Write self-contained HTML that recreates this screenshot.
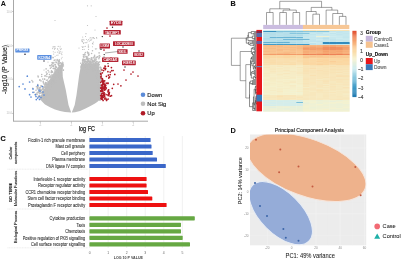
<!DOCTYPE html>
<html><head><meta charset="utf-8"><style>
html,body{margin:0;padding:0;background:#fff;width:401px;height:260px;overflow:hidden}
svg{display:block;filter:blur(0.3px)}
text{font-family:"Liberation Sans",sans-serif}
</style></head><body>
<svg width="401" height="260" viewBox="0 0 401 260">
<rect width="401" height="260" fill="#fff"/>
<text x="0.70" y="6.30" font-size="7.2" text-anchor="start" fill="#111" font-weight="bold">A</text><text x="6.90" y="69.50" font-size="6.6" text-anchor="middle" fill="#222" font-weight="normal" stroke="#222" stroke-width="0.15" textLength="49.00" lengthAdjust="spacingAndGlyphs" transform="rotate(-90 6.90 69.50)">-log10 (P Value)</text><line x1="13.5" y1="0" x2="13.5" y2="121.6" stroke="#a8a8a8" stroke-width="1"/><line x1="13.5" y1="121.2" x2="148" y2="121.2" stroke="#a8a8a8" stroke-width="1"/><line x1="12" y1="11.5" x2="13.5" y2="11.5" stroke="#999" stroke-width="0.5"/><text x="12.00" y="12.50" font-size="2.8" text-anchor="end" fill="#b8b8b8" font-weight="normal">10.0</text><line x1="12" y1="45.8" x2="13.5" y2="45.8" stroke="#999" stroke-width="0.5"/><text x="12.00" y="46.80" font-size="2.8" text-anchor="end" fill="#b8b8b8" font-weight="normal">10.0</text><line x1="12" y1="79.2" x2="13.5" y2="79.2" stroke="#999" stroke-width="0.5"/><text x="12.00" y="80.20" font-size="2.8" text-anchor="end" fill="#b8b8b8" font-weight="normal">10.0</text><line x1="12" y1="113.4" x2="13.5" y2="113.4" stroke="#999" stroke-width="0.5"/><text x="12.00" y="114.40" font-size="2.8" text-anchor="end" fill="#b8b8b8" font-weight="normal">10.0</text><line x1="40.3" y1="121.4" x2="40.3" y2="123" stroke="#999" stroke-width="0.5"/><text x="40.30" y="125.50" font-size="2.8" text-anchor="middle" fill="#b8b8b8" font-weight="normal">-1</text><line x1="71.4" y1="121.4" x2="71.4" y2="123" stroke="#999" stroke-width="0.5"/><text x="71.40" y="125.50" font-size="2.8" text-anchor="middle" fill="#b8b8b8" font-weight="normal">-1</text><line x1="102.4" y1="121.4" x2="102.4" y2="123" stroke="#999" stroke-width="0.5"/><text x="102.40" y="125.50" font-size="2.8" text-anchor="middle" fill="#b8b8b8" font-weight="normal">-1</text><line x1="133.2" y1="121.4" x2="133.2" y2="123" stroke="#999" stroke-width="0.5"/><text x="133.20" y="125.50" font-size="2.8" text-anchor="middle" fill="#b8b8b8" font-weight="normal">-1</text><text x="86.90" y="130.80" font-size="6.6" text-anchor="middle" fill="#222" font-weight="normal" stroke="#222" stroke-width="0.25" textLength="16.00" lengthAdjust="spacingAndGlyphs">log FC</text><path d="M71.2,112.5 L68.5,105 L65.8,90 L62.8,77 L62.5,68 L63.5,62 L60,65 L57,69 L53,74 L49.5,80 L46.5,85 L43.5,90 L41.5,94.5 L39.5,98.5 L42,101.5 L45,104.5 L50,107.3 L55,109.5 L60,111 L65,112 Z" fill="#bdbdbd"/><path d="M71.8,112.5 L74.7,105 L76.5,95 L79.2,75 L80.5,68 L81.5,65 L85,64 L89,63.5 L93,64 L96.5,65.5 L98.5,69 L99.5,77 L100,88 L100,99.6 L97.5,101.8 L95,103.5 L90,106.3 L85,108.75 L80,111 L75,112.3 Z" fill="#bdbdbd"/><circle cx="51.5" cy="71.6" r="0.78" fill="#bdbdbd"/><circle cx="48.9" cy="72.0" r="0.78" fill="#bdbdbd"/><circle cx="62.6" cy="63.5" r="0.78" fill="#bdbdbd"/><circle cx="43.0" cy="91.5" r="0.78" fill="#bdbdbd"/><circle cx="43.3" cy="82.7" r="0.78" fill="#bdbdbd"/><circle cx="58.4" cy="64.7" r="0.78" fill="#bdbdbd"/><circle cx="48.0" cy="81.5" r="0.78" fill="#bdbdbd"/><circle cx="48.9" cy="81.7" r="0.78" fill="#bdbdbd"/><circle cx="52.9" cy="77.6" r="0.78" fill="#bdbdbd"/><circle cx="54.6" cy="78.6" r="0.78" fill="#bdbdbd"/><circle cx="42.7" cy="79.1" r="0.78" fill="#bdbdbd"/><circle cx="46.9" cy="89.4" r="0.78" fill="#bdbdbd"/><circle cx="32.8" cy="81.9" r="0.78" fill="#bdbdbd"/><circle cx="59.1" cy="75.2" r="0.78" fill="#bdbdbd"/><circle cx="54.0" cy="85.0" r="0.78" fill="#bdbdbd"/><circle cx="44.9" cy="85.5" r="0.78" fill="#bdbdbd"/><circle cx="39.7" cy="80.2" r="0.78" fill="#bdbdbd"/><circle cx="47.3" cy="86.7" r="0.78" fill="#bdbdbd"/><circle cx="59.5" cy="66.6" r="0.78" fill="#bdbdbd"/><circle cx="56.8" cy="71.4" r="0.78" fill="#bdbdbd"/><circle cx="41.3" cy="92.6" r="0.78" fill="#bdbdbd"/><circle cx="46.1" cy="68.9" r="0.78" fill="#bdbdbd"/><circle cx="60.2" cy="72.0" r="0.78" fill="#bdbdbd"/><circle cx="50.0" cy="83.5" r="0.78" fill="#bdbdbd"/><circle cx="51.4" cy="83.1" r="0.78" fill="#bdbdbd"/><circle cx="52.4" cy="83.0" r="0.78" fill="#bdbdbd"/><circle cx="48.0" cy="92.5" r="0.78" fill="#bdbdbd"/><circle cx="55.6" cy="75.8" r="0.78" fill="#bdbdbd"/><circle cx="60.4" cy="62.9" r="0.78" fill="#bdbdbd"/><circle cx="55.1" cy="73.6" r="0.78" fill="#bdbdbd"/><circle cx="54.3" cy="76.3" r="0.78" fill="#bdbdbd"/><circle cx="47.1" cy="83.0" r="0.78" fill="#bdbdbd"/><circle cx="59.1" cy="65.9" r="0.78" fill="#bdbdbd"/><circle cx="52.7" cy="79.2" r="0.78" fill="#bdbdbd"/><circle cx="58.4" cy="70.9" r="0.78" fill="#bdbdbd"/><circle cx="57.2" cy="59.5" r="0.78" fill="#bdbdbd"/><circle cx="43.7" cy="93.4" r="0.78" fill="#bdbdbd"/><circle cx="47.0" cy="91.9" r="0.78" fill="#bdbdbd"/><circle cx="56.0" cy="74.1" r="0.78" fill="#bdbdbd"/><circle cx="37.5" cy="87.1" r="0.78" fill="#bdbdbd"/><circle cx="58.8" cy="70.1" r="0.78" fill="#bdbdbd"/><circle cx="57.0" cy="72.9" r="0.78" fill="#bdbdbd"/><circle cx="45.8" cy="100.5" r="0.78" fill="#bdbdbd"/><circle cx="51.2" cy="72.6" r="0.78" fill="#bdbdbd"/><circle cx="58.5" cy="68.9" r="0.78" fill="#bdbdbd"/><circle cx="46.9" cy="76.5" r="0.78" fill="#bdbdbd"/><circle cx="54.6" cy="82.0" r="0.78" fill="#bdbdbd"/><circle cx="52.1" cy="71.6" r="0.78" fill="#bdbdbd"/><circle cx="45.8" cy="98.5" r="0.78" fill="#bdbdbd"/><circle cx="55.9" cy="62.1" r="0.78" fill="#bdbdbd"/><circle cx="37.6" cy="87.7" r="0.78" fill="#bdbdbd"/><circle cx="55.3" cy="76.5" r="0.78" fill="#bdbdbd"/><circle cx="49.0" cy="87.2" r="0.78" fill="#bdbdbd"/><circle cx="47.1" cy="73.6" r="0.78" fill="#bdbdbd"/><circle cx="58.4" cy="74.2" r="0.78" fill="#bdbdbd"/><circle cx="59.5" cy="71.7" r="0.78" fill="#bdbdbd"/><circle cx="52.2" cy="79.2" r="0.78" fill="#bdbdbd"/><circle cx="49.5" cy="74.6" r="0.78" fill="#bdbdbd"/><circle cx="51.3" cy="83.2" r="0.78" fill="#bdbdbd"/><circle cx="50.6" cy="81.6" r="0.78" fill="#bdbdbd"/><circle cx="58.8" cy="72.7" r="0.78" fill="#bdbdbd"/><circle cx="50.0" cy="82.6" r="0.78" fill="#bdbdbd"/><circle cx="55.2" cy="83.1" r="0.78" fill="#bdbdbd"/><circle cx="56.0" cy="80.2" r="0.78" fill="#bdbdbd"/><circle cx="44.8" cy="94.1" r="0.78" fill="#bdbdbd"/><circle cx="41.7" cy="76.5" r="0.78" fill="#bdbdbd"/><circle cx="53.5" cy="78.3" r="0.78" fill="#bdbdbd"/><circle cx="49.7" cy="89.0" r="0.78" fill="#bdbdbd"/><circle cx="41.2" cy="92.4" r="0.78" fill="#bdbdbd"/><circle cx="53.9" cy="81.0" r="0.78" fill="#bdbdbd"/><circle cx="61.3" cy="68.2" r="0.78" fill="#bdbdbd"/><circle cx="54.7" cy="71.1" r="0.78" fill="#bdbdbd"/><circle cx="50.8" cy="83.0" r="0.78" fill="#bdbdbd"/><circle cx="50.6" cy="81.9" r="0.78" fill="#bdbdbd"/><circle cx="42.8" cy="88.7" r="0.78" fill="#bdbdbd"/><circle cx="45.3" cy="90.0" r="0.78" fill="#bdbdbd"/><circle cx="46.2" cy="72.1" r="0.78" fill="#bdbdbd"/><circle cx="43.9" cy="97.4" r="0.78" fill="#bdbdbd"/><circle cx="55.1" cy="60.0" r="0.78" fill="#bdbdbd"/><circle cx="39.8" cy="95.8" r="0.78" fill="#bdbdbd"/><circle cx="61.8" cy="64.3" r="0.78" fill="#bdbdbd"/><circle cx="56.6" cy="75.8" r="0.78" fill="#bdbdbd"/><circle cx="53.2" cy="68.5" r="0.78" fill="#bdbdbd"/><circle cx="55.0" cy="64.6" r="0.78" fill="#bdbdbd"/><circle cx="57.0" cy="74.1" r="0.78" fill="#bdbdbd"/><circle cx="52.1" cy="62.7" r="0.78" fill="#bdbdbd"/><circle cx="50.8" cy="65.7" r="0.78" fill="#bdbdbd"/><circle cx="53.2" cy="78.2" r="0.78" fill="#bdbdbd"/><circle cx="47.0" cy="93.0" r="0.78" fill="#bdbdbd"/><circle cx="50.3" cy="80.5" r="0.78" fill="#bdbdbd"/><circle cx="52.7" cy="72.2" r="0.78" fill="#bdbdbd"/><circle cx="56.7" cy="75.2" r="0.78" fill="#bdbdbd"/><circle cx="61.6" cy="63.7" r="0.78" fill="#bdbdbd"/><circle cx="46.2" cy="94.2" r="0.78" fill="#bdbdbd"/><circle cx="57.1" cy="71.5" r="0.78" fill="#bdbdbd"/><circle cx="49.1" cy="77.1" r="0.78" fill="#bdbdbd"/><circle cx="43.3" cy="98.2" r="0.78" fill="#bdbdbd"/><circle cx="54.7" cy="75.1" r="0.78" fill="#bdbdbd"/><circle cx="53.8" cy="79.0" r="0.78" fill="#bdbdbd"/><circle cx="56.8" cy="71.5" r="0.78" fill="#bdbdbd"/><circle cx="58.5" cy="61.2" r="0.78" fill="#bdbdbd"/><circle cx="51.6" cy="81.6" r="0.78" fill="#bdbdbd"/><circle cx="43.4" cy="87.5" r="0.78" fill="#bdbdbd"/><circle cx="62.0" cy="68.5" r="0.78" fill="#bdbdbd"/><circle cx="58.3" cy="61.0" r="0.78" fill="#bdbdbd"/><circle cx="46.6" cy="93.7" r="0.78" fill="#bdbdbd"/><circle cx="48.7" cy="78.1" r="0.78" fill="#bdbdbd"/><circle cx="45.6" cy="96.9" r="0.78" fill="#bdbdbd"/><circle cx="55.8" cy="68.0" r="0.78" fill="#bdbdbd"/><circle cx="44.0" cy="92.9" r="0.78" fill="#bdbdbd"/><circle cx="48.8" cy="86.3" r="0.78" fill="#bdbdbd"/><circle cx="47.9" cy="90.7" r="0.78" fill="#bdbdbd"/><circle cx="41.0" cy="80.9" r="0.78" fill="#bdbdbd"/><circle cx="55.3" cy="69.2" r="0.78" fill="#bdbdbd"/><circle cx="41.0" cy="85.9" r="0.78" fill="#bdbdbd"/><circle cx="48.8" cy="87.7" r="0.78" fill="#bdbdbd"/><circle cx="46.0" cy="84.9" r="0.78" fill="#bdbdbd"/><circle cx="55.8" cy="71.3" r="0.78" fill="#bdbdbd"/><circle cx="50.4" cy="68.3" r="0.78" fill="#bdbdbd"/><circle cx="45.1" cy="75.8" r="0.78" fill="#bdbdbd"/><circle cx="34.2" cy="92.3" r="0.78" fill="#bdbdbd"/><circle cx="39.2" cy="88.5" r="0.78" fill="#bdbdbd"/><circle cx="41.4" cy="97.4" r="0.78" fill="#bdbdbd"/><circle cx="63.2" cy="70.2" r="0.78" fill="#bdbdbd"/><circle cx="53.5" cy="81.6" r="0.78" fill="#bdbdbd"/><circle cx="53.2" cy="66.6" r="0.78" fill="#bdbdbd"/><circle cx="53.3" cy="80.3" r="0.78" fill="#bdbdbd"/><circle cx="62.2" cy="66.4" r="0.78" fill="#bdbdbd"/><circle cx="43.8" cy="86.7" r="0.78" fill="#bdbdbd"/><circle cx="42.4" cy="96.4" r="0.78" fill="#bdbdbd"/><circle cx="58.9" cy="78.6" r="0.78" fill="#bdbdbd"/><circle cx="55.4" cy="75.0" r="0.78" fill="#bdbdbd"/><circle cx="42.3" cy="92.9" r="0.78" fill="#bdbdbd"/><circle cx="57.6" cy="71.0" r="0.78" fill="#bdbdbd"/><circle cx="37.0" cy="94.6" r="0.78" fill="#bdbdbd"/><circle cx="39.9" cy="79.8" r="0.78" fill="#bdbdbd"/><circle cx="45.9" cy="91.3" r="0.78" fill="#bdbdbd"/><circle cx="61.8" cy="66.9" r="0.78" fill="#bdbdbd"/><circle cx="56.7" cy="73.6" r="0.78" fill="#bdbdbd"/><circle cx="60.9" cy="75.3" r="0.78" fill="#bdbdbd"/><circle cx="59.4" cy="67.1" r="0.78" fill="#bdbdbd"/><circle cx="57.1" cy="69.6" r="0.78" fill="#bdbdbd"/><circle cx="50.5" cy="77.0" r="0.78" fill="#bdbdbd"/><circle cx="58.9" cy="63.3" r="0.78" fill="#bdbdbd"/><circle cx="44.6" cy="79.1" r="0.78" fill="#bdbdbd"/><circle cx="52.9" cy="82.0" r="0.78" fill="#bdbdbd"/><circle cx="62.3" cy="64.7" r="0.78" fill="#bdbdbd"/><circle cx="38.2" cy="76.9" r="0.78" fill="#bdbdbd"/><circle cx="57.5" cy="73.1" r="0.78" fill="#bdbdbd"/><circle cx="40.3" cy="89.3" r="0.78" fill="#bdbdbd"/><circle cx="36.4" cy="86.7" r="0.78" fill="#bdbdbd"/><circle cx="63.4" cy="70.0" r="0.78" fill="#bdbdbd"/><circle cx="42.9" cy="97.0" r="0.78" fill="#bdbdbd"/><circle cx="51.9" cy="84.3" r="0.78" fill="#bdbdbd"/><circle cx="52.2" cy="66.0" r="0.78" fill="#bdbdbd"/><circle cx="59.4" cy="72.4" r="0.78" fill="#bdbdbd"/><circle cx="56.5" cy="62.6" r="0.78" fill="#bdbdbd"/><circle cx="56.6" cy="67.5" r="0.78" fill="#bdbdbd"/><circle cx="60.7" cy="76.3" r="0.78" fill="#bdbdbd"/><circle cx="49.3" cy="77.1" r="0.78" fill="#bdbdbd"/><circle cx="40.6" cy="97.8" r="0.78" fill="#bdbdbd"/><circle cx="49.1" cy="87.1" r="0.78" fill="#bdbdbd"/><circle cx="44.2" cy="84.4" r="0.78" fill="#bdbdbd"/><circle cx="55.0" cy="77.1" r="0.78" fill="#bdbdbd"/><circle cx="44.7" cy="92.7" r="0.78" fill="#bdbdbd"/><circle cx="59.1" cy="73.9" r="0.78" fill="#bdbdbd"/><circle cx="59.6" cy="70.0" r="0.78" fill="#bdbdbd"/><circle cx="60.1" cy="69.5" r="0.78" fill="#bdbdbd"/><circle cx="45.6" cy="84.3" r="0.78" fill="#bdbdbd"/><circle cx="40.5" cy="97.1" r="0.78" fill="#bdbdbd"/><circle cx="35.5" cy="94.6" r="0.78" fill="#bdbdbd"/><circle cx="51.5" cy="64.7" r="0.78" fill="#bdbdbd"/><circle cx="55.7" cy="76.2" r="0.78" fill="#bdbdbd"/><circle cx="55.9" cy="66.9" r="0.78" fill="#bdbdbd"/><circle cx="62.1" cy="65.8" r="0.78" fill="#bdbdbd"/><circle cx="51.7" cy="71.7" r="0.78" fill="#bdbdbd"/><circle cx="54.9" cy="82.0" r="0.78" fill="#bdbdbd"/><circle cx="60.3" cy="70.2" r="0.78" fill="#bdbdbd"/><circle cx="38.1" cy="86.2" r="0.78" fill="#bdbdbd"/><circle cx="53.0" cy="57.7" r="0.78" fill="#bdbdbd"/><circle cx="38.5" cy="92.1" r="0.78" fill="#bdbdbd"/><circle cx="42.8" cy="97.5" r="0.78" fill="#bdbdbd"/><circle cx="57.1" cy="73.3" r="0.78" fill="#bdbdbd"/><circle cx="43.5" cy="96.7" r="0.78" fill="#bdbdbd"/><circle cx="56.4" cy="82.3" r="0.78" fill="#bdbdbd"/><circle cx="54.9" cy="77.3" r="0.78" fill="#bdbdbd"/><circle cx="55.5" cy="66.2" r="0.78" fill="#bdbdbd"/><circle cx="43.3" cy="91.4" r="0.78" fill="#bdbdbd"/><circle cx="58.0" cy="75.6" r="0.78" fill="#bdbdbd"/><circle cx="58.3" cy="68.1" r="0.78" fill="#bdbdbd"/><circle cx="51.6" cy="84.3" r="0.78" fill="#bdbdbd"/><circle cx="38.6" cy="91.4" r="0.78" fill="#bdbdbd"/><circle cx="52.9" cy="80.4" r="0.78" fill="#bdbdbd"/><circle cx="60.6" cy="72.3" r="0.78" fill="#bdbdbd"/><circle cx="41.3" cy="90.4" r="0.78" fill="#bdbdbd"/><circle cx="44.4" cy="94.0" r="0.78" fill="#bdbdbd"/><circle cx="53.0" cy="65.1" r="0.78" fill="#bdbdbd"/><circle cx="55.4" cy="64.5" r="0.78" fill="#bdbdbd"/><circle cx="41.9" cy="98.9" r="0.78" fill="#bdbdbd"/><circle cx="46.5" cy="93.4" r="0.78" fill="#bdbdbd"/><circle cx="49.1" cy="95.5" r="0.78" fill="#bdbdbd"/><circle cx="62.5" cy="64.8" r="0.78" fill="#bdbdbd"/><circle cx="49.1" cy="81.8" r="0.78" fill="#bdbdbd"/><circle cx="45.3" cy="95.8" r="0.78" fill="#bdbdbd"/><circle cx="60.6" cy="65.5" r="0.78" fill="#bdbdbd"/><circle cx="58.7" cy="69.8" r="0.78" fill="#bdbdbd"/><circle cx="48.4" cy="82.3" r="0.78" fill="#bdbdbd"/><circle cx="53.8" cy="65.7" r="0.78" fill="#bdbdbd"/><circle cx="58.9" cy="62.3" r="0.78" fill="#bdbdbd"/><circle cx="58.3" cy="64.1" r="0.78" fill="#bdbdbd"/><circle cx="55.7" cy="76.9" r="0.78" fill="#bdbdbd"/><circle cx="46.5" cy="80.3" r="0.78" fill="#bdbdbd"/><circle cx="38.6" cy="91.7" r="0.78" fill="#bdbdbd"/><circle cx="58.1" cy="70.5" r="0.78" fill="#bdbdbd"/><circle cx="52.9" cy="76.3" r="0.78" fill="#bdbdbd"/><circle cx="60.3" cy="69.0" r="0.78" fill="#bdbdbd"/><circle cx="47.6" cy="84.3" r="0.78" fill="#bdbdbd"/><circle cx="51.6" cy="80.4" r="0.78" fill="#bdbdbd"/><circle cx="49.8" cy="80.7" r="0.78" fill="#bdbdbd"/><circle cx="40.9" cy="97.1" r="0.78" fill="#bdbdbd"/><circle cx="35.5" cy="94.5" r="0.78" fill="#bdbdbd"/><circle cx="56.1" cy="76.8" r="0.78" fill="#bdbdbd"/><circle cx="39.6" cy="89.5" r="0.78" fill="#bdbdbd"/><circle cx="38.0" cy="88.1" r="0.78" fill="#bdbdbd"/><circle cx="59.9" cy="70.0" r="0.78" fill="#bdbdbd"/><circle cx="55.4" cy="70.0" r="0.78" fill="#bdbdbd"/><circle cx="62.4" cy="67.0" r="0.78" fill="#bdbdbd"/><circle cx="50.0" cy="85.3" r="0.78" fill="#bdbdbd"/><circle cx="43.9" cy="83.3" r="0.78" fill="#bdbdbd"/><circle cx="46.7" cy="90.8" r="0.78" fill="#bdbdbd"/><circle cx="50.8" cy="77.3" r="0.78" fill="#bdbdbd"/><circle cx="52.1" cy="76.3" r="0.78" fill="#bdbdbd"/><circle cx="43.2" cy="81.4" r="0.78" fill="#bdbdbd"/><circle cx="59.0" cy="61.3" r="0.78" fill="#bdbdbd"/><circle cx="36.9" cy="93.9" r="0.78" fill="#bdbdbd"/><circle cx="37.2" cy="88.9" r="0.78" fill="#bdbdbd"/><circle cx="41.7" cy="74.5" r="0.78" fill="#bdbdbd"/><circle cx="41.9" cy="96.6" r="0.78" fill="#bdbdbd"/><circle cx="40.4" cy="87.3" r="0.78" fill="#bdbdbd"/><circle cx="52.4" cy="63.0" r="0.78" fill="#bdbdbd"/><circle cx="58.8" cy="68.7" r="0.78" fill="#bdbdbd"/><circle cx="53.4" cy="66.3" r="0.78" fill="#bdbdbd"/><circle cx="46.5" cy="84.8" r="0.78" fill="#bdbdbd"/><circle cx="52.4" cy="81.6" r="0.78" fill="#bdbdbd"/><circle cx="46.1" cy="94.5" r="0.78" fill="#bdbdbd"/><circle cx="41.6" cy="98.9" r="0.78" fill="#bdbdbd"/><circle cx="45.8" cy="91.4" r="0.78" fill="#bdbdbd"/><circle cx="31.9" cy="80.5" r="0.78" fill="#bdbdbd"/><circle cx="37.8" cy="84.6" r="0.78" fill="#bdbdbd"/><circle cx="38.5" cy="97.2" r="0.78" fill="#bdbdbd"/><circle cx="54.6" cy="73.1" r="0.78" fill="#bdbdbd"/><circle cx="53.9" cy="78.9" r="0.78" fill="#bdbdbd"/><circle cx="58.8" cy="65.1" r="0.78" fill="#bdbdbd"/><circle cx="48.1" cy="70.5" r="0.78" fill="#bdbdbd"/><circle cx="59.6" cy="71.6" r="0.78" fill="#bdbdbd"/><circle cx="52.9" cy="81.2" r="0.78" fill="#bdbdbd"/><circle cx="57.4" cy="71.1" r="0.78" fill="#bdbdbd"/><circle cx="43.7" cy="89.3" r="0.78" fill="#bdbdbd"/><circle cx="56.0" cy="79.9" r="0.78" fill="#bdbdbd"/><circle cx="57.1" cy="70.2" r="0.78" fill="#bdbdbd"/><circle cx="57.6" cy="71.6" r="0.78" fill="#bdbdbd"/><circle cx="50.8" cy="85.5" r="0.78" fill="#bdbdbd"/><circle cx="42.6" cy="89.8" r="0.78" fill="#bdbdbd"/><circle cx="40.2" cy="93.1" r="0.78" fill="#bdbdbd"/><circle cx="59.5" cy="60.1" r="0.78" fill="#bdbdbd"/><circle cx="54.6" cy="79.0" r="0.78" fill="#bdbdbd"/><circle cx="55.1" cy="68.5" r="0.78" fill="#bdbdbd"/><circle cx="43.6" cy="92.1" r="0.78" fill="#bdbdbd"/><circle cx="53.3" cy="83.4" r="0.78" fill="#bdbdbd"/><circle cx="46.8" cy="83.0" r="0.78" fill="#bdbdbd"/><circle cx="39.1" cy="92.9" r="0.78" fill="#bdbdbd"/><circle cx="42.0" cy="96.3" r="0.78" fill="#bdbdbd"/><circle cx="44.8" cy="95.2" r="0.78" fill="#bdbdbd"/><circle cx="45.1" cy="86.9" r="0.78" fill="#bdbdbd"/><circle cx="50.0" cy="76.8" r="0.78" fill="#bdbdbd"/><circle cx="49.0" cy="89.5" r="0.78" fill="#bdbdbd"/><circle cx="60.4" cy="69.2" r="0.78" fill="#bdbdbd"/><circle cx="62.8" cy="64.3" r="0.78" fill="#bdbdbd"/><circle cx="54.1" cy="74.8" r="0.78" fill="#bdbdbd"/><circle cx="48.7" cy="85.5" r="0.78" fill="#bdbdbd"/><circle cx="42.7" cy="96.3" r="0.78" fill="#bdbdbd"/><circle cx="39.7" cy="93.6" r="0.78" fill="#bdbdbd"/><circle cx="45.6" cy="82.6" r="0.78" fill="#bdbdbd"/><circle cx="56.2" cy="73.4" r="0.78" fill="#bdbdbd"/><circle cx="46.4" cy="87.8" r="0.78" fill="#bdbdbd"/><circle cx="44.3" cy="98.3" r="0.78" fill="#bdbdbd"/><circle cx="54.2" cy="78.0" r="0.78" fill="#bdbdbd"/><circle cx="55.7" cy="76.0" r="0.78" fill="#bdbdbd"/><circle cx="45.0" cy="76.1" r="0.78" fill="#bdbdbd"/><circle cx="61.7" cy="69.1" r="0.78" fill="#bdbdbd"/><circle cx="41.2" cy="96.1" r="0.78" fill="#bdbdbd"/><circle cx="48.6" cy="87.3" r="0.78" fill="#bdbdbd"/><circle cx="45.9" cy="91.8" r="0.78" fill="#bdbdbd"/><circle cx="49.9" cy="86.7" r="0.78" fill="#bdbdbd"/><circle cx="59.2" cy="61.7" r="0.78" fill="#bdbdbd"/><circle cx="59.4" cy="69.5" r="0.78" fill="#bdbdbd"/><circle cx="32.7" cy="88.2" r="0.78" fill="#bdbdbd"/><circle cx="51.6" cy="81.2" r="0.78" fill="#bdbdbd"/><circle cx="57.8" cy="76.4" r="0.78" fill="#bdbdbd"/><circle cx="48.3" cy="87.2" r="0.78" fill="#bdbdbd"/><circle cx="50.3" cy="83.9" r="0.78" fill="#bdbdbd"/><circle cx="42.5" cy="95.1" r="0.78" fill="#bdbdbd"/><circle cx="40.3" cy="90.5" r="0.78" fill="#bdbdbd"/><circle cx="58.1" cy="71.2" r="0.78" fill="#bdbdbd"/><circle cx="55.7" cy="66.4" r="0.78" fill="#bdbdbd"/><circle cx="59.3" cy="65.6" r="0.78" fill="#bdbdbd"/><circle cx="46.0" cy="91.4" r="0.78" fill="#bdbdbd"/><circle cx="59.1" cy="69.3" r="0.78" fill="#bdbdbd"/><circle cx="49.6" cy="88.1" r="0.78" fill="#bdbdbd"/><circle cx="49.6" cy="84.9" r="0.78" fill="#bdbdbd"/><circle cx="44.9" cy="96.5" r="0.78" fill="#bdbdbd"/><circle cx="56.6" cy="69.7" r="0.78" fill="#bdbdbd"/><circle cx="47.1" cy="91.5" r="0.78" fill="#bdbdbd"/><circle cx="55.5" cy="80.8" r="0.78" fill="#bdbdbd"/><circle cx="54.0" cy="68.6" r="0.78" fill="#bdbdbd"/><circle cx="52.2" cy="85.4" r="0.78" fill="#bdbdbd"/><circle cx="45.6" cy="83.5" r="0.78" fill="#bdbdbd"/><circle cx="51.3" cy="78.5" r="0.78" fill="#bdbdbd"/><circle cx="46.7" cy="91.0" r="0.78" fill="#bdbdbd"/><circle cx="50.5" cy="86.2" r="0.78" fill="#bdbdbd"/><circle cx="51.8" cy="75.0" r="0.78" fill="#bdbdbd"/><circle cx="45.5" cy="91.6" r="0.78" fill="#bdbdbd"/><circle cx="51.9" cy="71.8" r="0.78" fill="#bdbdbd"/><circle cx="52.7" cy="77.1" r="0.78" fill="#bdbdbd"/><circle cx="56.4" cy="76.1" r="0.78" fill="#bdbdbd"/><circle cx="47.7" cy="80.1" r="0.78" fill="#bdbdbd"/><circle cx="54.9" cy="76.9" r="0.78" fill="#bdbdbd"/><circle cx="46.7" cy="84.1" r="0.78" fill="#bdbdbd"/><circle cx="54.8" cy="68.4" r="0.78" fill="#bdbdbd"/><circle cx="45.0" cy="91.9" r="0.78" fill="#bdbdbd"/><circle cx="44.6" cy="79.2" r="0.78" fill="#bdbdbd"/><circle cx="51.2" cy="67.3" r="0.78" fill="#bdbdbd"/><circle cx="54.4" cy="77.2" r="0.78" fill="#bdbdbd"/><circle cx="57.5" cy="70.8" r="0.78" fill="#bdbdbd"/><circle cx="54.9" cy="79.7" r="0.78" fill="#bdbdbd"/><circle cx="44.4" cy="95.4" r="0.78" fill="#bdbdbd"/><circle cx="43.0" cy="95.5" r="0.78" fill="#bdbdbd"/><circle cx="47.7" cy="85.6" r="0.78" fill="#bdbdbd"/><circle cx="43.3" cy="88.5" r="0.78" fill="#bdbdbd"/><circle cx="43.0" cy="95.2" r="0.78" fill="#bdbdbd"/><circle cx="46.9" cy="92.4" r="0.78" fill="#bdbdbd"/><circle cx="44.3" cy="90.2" r="0.78" fill="#bdbdbd"/><circle cx="47.2" cy="90.9" r="0.78" fill="#bdbdbd"/><circle cx="50.2" cy="82.6" r="0.78" fill="#bdbdbd"/><circle cx="59.2" cy="61.1" r="0.78" fill="#bdbdbd"/><circle cx="55.0" cy="80.1" r="0.78" fill="#bdbdbd"/><circle cx="44.1" cy="93.2" r="0.78" fill="#bdbdbd"/><circle cx="45.8" cy="86.2" r="0.78" fill="#bdbdbd"/><circle cx="42.3" cy="99.1" r="0.78" fill="#bdbdbd"/><circle cx="36.0" cy="90.2" r="0.78" fill="#bdbdbd"/><circle cx="41.9" cy="92.8" r="0.78" fill="#bdbdbd"/><circle cx="51.1" cy="81.0" r="0.78" fill="#bdbdbd"/><circle cx="52.7" cy="82.6" r="0.78" fill="#bdbdbd"/><circle cx="45.3" cy="93.5" r="0.78" fill="#bdbdbd"/><circle cx="38.3" cy="96.8" r="0.78" fill="#bdbdbd"/><circle cx="56.9" cy="74.9" r="0.78" fill="#bdbdbd"/><circle cx="40.9" cy="89.3" r="0.78" fill="#bdbdbd"/><circle cx="43.1" cy="93.9" r="0.78" fill="#bdbdbd"/><circle cx="60.7" cy="69.4" r="0.78" fill="#bdbdbd"/><circle cx="46.3" cy="85.0" r="0.78" fill="#bdbdbd"/><circle cx="52.7" cy="87.3" r="0.78" fill="#bdbdbd"/><circle cx="46.3" cy="86.8" r="0.78" fill="#bdbdbd"/><circle cx="54.2" cy="60.4" r="0.78" fill="#bdbdbd"/><circle cx="39.7" cy="87.7" r="0.78" fill="#bdbdbd"/><circle cx="46.7" cy="91.2" r="0.78" fill="#bdbdbd"/><circle cx="57.8" cy="74.2" r="0.78" fill="#bdbdbd"/><circle cx="39.1" cy="95.5" r="0.78" fill="#bdbdbd"/><circle cx="57.1" cy="60.5" r="0.78" fill="#bdbdbd"/><circle cx="46.6" cy="74.6" r="0.78" fill="#bdbdbd"/><circle cx="38.0" cy="76.0" r="0.78" fill="#bdbdbd"/><circle cx="63.4" cy="66.0" r="0.78" fill="#bdbdbd"/><circle cx="60.4" cy="66.4" r="0.78" fill="#bdbdbd"/><circle cx="40.3" cy="98.6" r="0.78" fill="#bdbdbd"/><circle cx="53.0" cy="62.6" r="0.78" fill="#bdbdbd"/><circle cx="57.7" cy="69.1" r="0.78" fill="#bdbdbd"/><circle cx="41.6" cy="85.8" r="0.78" fill="#bdbdbd"/><circle cx="49.0" cy="90.4" r="0.78" fill="#bdbdbd"/><circle cx="49.7" cy="65.6" r="0.78" fill="#bdbdbd"/><circle cx="50.0" cy="85.4" r="0.78" fill="#bdbdbd"/><circle cx="57.7" cy="73.5" r="0.78" fill="#bdbdbd"/><circle cx="63.1" cy="64.9" r="0.78" fill="#bdbdbd"/><circle cx="54.7" cy="78.1" r="0.78" fill="#bdbdbd"/><circle cx="49.9" cy="86.1" r="0.78" fill="#bdbdbd"/><circle cx="53.1" cy="74.8" r="0.78" fill="#bdbdbd"/><circle cx="59.3" cy="76.0" r="0.78" fill="#bdbdbd"/><circle cx="45.8" cy="87.9" r="0.78" fill="#bdbdbd"/><circle cx="45.8" cy="93.0" r="0.78" fill="#bdbdbd"/><circle cx="50.9" cy="75.9" r="0.78" fill="#bdbdbd"/><circle cx="44.6" cy="95.2" r="0.78" fill="#bdbdbd"/><circle cx="37.2" cy="92.5" r="0.78" fill="#bdbdbd"/><circle cx="40.3" cy="90.3" r="0.78" fill="#bdbdbd"/><circle cx="46.8" cy="93.7" r="0.78" fill="#bdbdbd"/><circle cx="51.5" cy="70.9" r="0.78" fill="#bdbdbd"/><circle cx="44.4" cy="87.2" r="0.78" fill="#bdbdbd"/><circle cx="49.7" cy="84.3" r="0.78" fill="#bdbdbd"/><circle cx="48.4" cy="90.6" r="0.78" fill="#bdbdbd"/><circle cx="58.5" cy="63.7" r="0.78" fill="#bdbdbd"/><circle cx="46.1" cy="96.7" r="0.78" fill="#bdbdbd"/><circle cx="52.8" cy="79.4" r="0.78" fill="#bdbdbd"/><circle cx="47.7" cy="88.4" r="0.78" fill="#bdbdbd"/><circle cx="56.8" cy="55.3" r="0.55" fill="#bdbdbd"/><circle cx="53.8" cy="46.8" r="0.55" fill="#bdbdbd"/><circle cx="53.3" cy="57.4" r="0.55" fill="#bdbdbd"/><circle cx="61.4" cy="48.8" r="0.55" fill="#bdbdbd"/><circle cx="59.2" cy="52.2" r="0.55" fill="#bdbdbd"/><circle cx="58.2" cy="46.4" r="0.55" fill="#bdbdbd"/><circle cx="52.4" cy="63.8" r="0.55" fill="#bdbdbd"/><circle cx="58.8" cy="50.7" r="0.55" fill="#bdbdbd"/><circle cx="61.4" cy="53.7" r="0.55" fill="#bdbdbd"/><circle cx="61.8" cy="63.3" r="0.55" fill="#bdbdbd"/><circle cx="55.0" cy="46.7" r="0.55" fill="#bdbdbd"/><circle cx="54.4" cy="49.3" r="0.55" fill="#bdbdbd"/><circle cx="53.0" cy="46.9" r="0.55" fill="#bdbdbd"/><circle cx="58.7" cy="61.7" r="0.55" fill="#bdbdbd"/><circle cx="57.5" cy="63.0" r="0.55" fill="#bdbdbd"/><circle cx="59.2" cy="53.2" r="0.55" fill="#bdbdbd"/><circle cx="53.4" cy="63.3" r="0.55" fill="#bdbdbd"/><circle cx="55.1" cy="56.2" r="0.55" fill="#bdbdbd"/><circle cx="59.7" cy="63.2" r="0.55" fill="#bdbdbd"/><circle cx="60.0" cy="53.1" r="0.55" fill="#bdbdbd"/><circle cx="57.4" cy="48.9" r="0.55" fill="#bdbdbd"/><circle cx="54.7" cy="46.7" r="0.55" fill="#bdbdbd"/><circle cx="55.1" cy="52.3" r="0.55" fill="#bdbdbd"/><circle cx="62.8" cy="62.3" r="0.55" fill="#bdbdbd"/><circle cx="61.4" cy="58.8" r="0.55" fill="#bdbdbd"/><circle cx="59.8" cy="63.7" r="0.55" fill="#bdbdbd"/><circle cx="52.7" cy="48.6" r="0.55" fill="#bdbdbd"/><circle cx="61.1" cy="62.9" r="0.55" fill="#bdbdbd"/><circle cx="60.1" cy="51.4" r="0.55" fill="#bdbdbd"/><circle cx="59.1" cy="59.6" r="0.55" fill="#bdbdbd"/><circle cx="53.3" cy="51.8" r="0.55" fill="#bdbdbd"/><circle cx="55.1" cy="48.2" r="0.55" fill="#bdbdbd"/><circle cx="57.8" cy="49.0" r="0.55" fill="#bdbdbd"/><circle cx="54.9" cy="48.6" r="0.55" fill="#bdbdbd"/><circle cx="60.1" cy="46.2" r="0.55" fill="#bdbdbd"/><circle cx="60.6" cy="49.5" r="0.55" fill="#bdbdbd"/><circle cx="52.4" cy="62.7" r="0.55" fill="#bdbdbd"/><circle cx="54.6" cy="62.8" r="0.55" fill="#bdbdbd"/><circle cx="62.4" cy="62.0" r="0.55" fill="#bdbdbd"/><circle cx="53.7" cy="54.1" r="0.55" fill="#bdbdbd"/><circle cx="53.2" cy="62.7" r="0.55" fill="#bdbdbd"/><circle cx="62.1" cy="57.3" r="0.55" fill="#bdbdbd"/><circle cx="57.4" cy="52.1" r="0.55" fill="#bdbdbd"/><circle cx="61.9" cy="54.6" r="0.55" fill="#bdbdbd"/><circle cx="92.7" cy="65.6" r="0.78" fill="#bdbdbd"/><circle cx="99.0" cy="71.6" r="0.78" fill="#bdbdbd"/><circle cx="84.1" cy="61.6" r="0.78" fill="#bdbdbd"/><circle cx="97.5" cy="78.5" r="0.78" fill="#bdbdbd"/><circle cx="98.2" cy="68.4" r="0.78" fill="#bdbdbd"/><circle cx="85.3" cy="67.2" r="0.78" fill="#bdbdbd"/><circle cx="95.4" cy="62.4" r="0.78" fill="#bdbdbd"/><circle cx="95.9" cy="66.2" r="0.78" fill="#bdbdbd"/><circle cx="85.5" cy="63.7" r="0.78" fill="#bdbdbd"/><circle cx="92.5" cy="60.7" r="0.78" fill="#bdbdbd"/><circle cx="84.9" cy="54.9" r="0.78" fill="#bdbdbd"/><circle cx="86.2" cy="67.9" r="0.78" fill="#bdbdbd"/><circle cx="84.9" cy="66.9" r="0.78" fill="#bdbdbd"/><circle cx="94.9" cy="64.9" r="0.78" fill="#bdbdbd"/><circle cx="90.3" cy="67.4" r="0.78" fill="#bdbdbd"/><circle cx="96.9" cy="61.5" r="0.78" fill="#bdbdbd"/><circle cx="88.9" cy="54.7" r="0.78" fill="#bdbdbd"/><circle cx="91.1" cy="59.2" r="0.78" fill="#bdbdbd"/><circle cx="101.1" cy="78.1" r="0.78" fill="#bdbdbd"/><circle cx="101.1" cy="69.1" r="0.78" fill="#bdbdbd"/><circle cx="91.4" cy="65.9" r="0.78" fill="#bdbdbd"/><circle cx="83.7" cy="63.8" r="0.78" fill="#bdbdbd"/><circle cx="94.6" cy="55.2" r="0.78" fill="#bdbdbd"/><circle cx="92.0" cy="66.5" r="0.78" fill="#bdbdbd"/><circle cx="82.0" cy="65.2" r="0.78" fill="#bdbdbd"/><circle cx="86.2" cy="66.6" r="0.78" fill="#bdbdbd"/><circle cx="84.9" cy="62.0" r="0.78" fill="#bdbdbd"/><circle cx="99.7" cy="94.3" r="0.78" fill="#bdbdbd"/><circle cx="101.1" cy="79.7" r="0.78" fill="#bdbdbd"/><circle cx="85.0" cy="71.8" r="0.78" fill="#bdbdbd"/><circle cx="101.3" cy="93.9" r="0.78" fill="#bdbdbd"/><circle cx="100.2" cy="98.3" r="0.78" fill="#bdbdbd"/><circle cx="91.6" cy="59.3" r="0.78" fill="#bdbdbd"/><circle cx="84.8" cy="54.1" r="0.78" fill="#bdbdbd"/><circle cx="100.2" cy="92.8" r="0.78" fill="#bdbdbd"/><circle cx="92.3" cy="67.6" r="0.78" fill="#bdbdbd"/><circle cx="91.8" cy="67.5" r="0.78" fill="#bdbdbd"/><circle cx="96.7" cy="68.2" r="0.78" fill="#bdbdbd"/><circle cx="98.9" cy="58.7" r="0.78" fill="#bdbdbd"/><circle cx="90.6" cy="63.1" r="0.78" fill="#bdbdbd"/><circle cx="86.0" cy="62.7" r="0.78" fill="#bdbdbd"/><circle cx="98.0" cy="95.1" r="0.78" fill="#bdbdbd"/><circle cx="89.3" cy="66.8" r="0.78" fill="#bdbdbd"/><circle cx="86.8" cy="63.8" r="0.78" fill="#bdbdbd"/><circle cx="83.8" cy="56.4" r="0.78" fill="#bdbdbd"/><circle cx="90.2" cy="67.8" r="0.78" fill="#bdbdbd"/><circle cx="88.4" cy="47.0" r="0.78" fill="#bdbdbd"/><circle cx="81.0" cy="67.3" r="0.78" fill="#bdbdbd"/><circle cx="100.6" cy="98.3" r="0.78" fill="#bdbdbd"/><circle cx="98.4" cy="78.7" r="0.78" fill="#bdbdbd"/><circle cx="99.0" cy="91.3" r="0.78" fill="#bdbdbd"/><circle cx="101.4" cy="91.9" r="0.78" fill="#bdbdbd"/><circle cx="94.4" cy="67.9" r="0.78" fill="#bdbdbd"/><circle cx="91.9" cy="62.9" r="0.78" fill="#bdbdbd"/><circle cx="88.7" cy="69.7" r="0.78" fill="#bdbdbd"/><circle cx="88.4" cy="67.5" r="0.78" fill="#bdbdbd"/><circle cx="90.1" cy="61.6" r="0.78" fill="#bdbdbd"/><circle cx="84.6" cy="65.0" r="0.78" fill="#bdbdbd"/><circle cx="100.5" cy="94.2" r="0.78" fill="#bdbdbd"/><circle cx="100.0" cy="81.1" r="0.78" fill="#bdbdbd"/><circle cx="100.0" cy="98.4" r="0.78" fill="#bdbdbd"/><circle cx="89.8" cy="66.7" r="0.78" fill="#bdbdbd"/><circle cx="98.6" cy="78.6" r="0.78" fill="#bdbdbd"/><circle cx="82.8" cy="67.6" r="0.78" fill="#bdbdbd"/><circle cx="98.7" cy="62.7" r="0.78" fill="#bdbdbd"/><circle cx="96.9" cy="71.0" r="0.78" fill="#bdbdbd"/><circle cx="99.7" cy="98.5" r="0.78" fill="#bdbdbd"/><circle cx="82.9" cy="71.1" r="0.78" fill="#bdbdbd"/><circle cx="84.0" cy="67.8" r="0.78" fill="#bdbdbd"/><circle cx="91.7" cy="68.9" r="0.78" fill="#bdbdbd"/><circle cx="92.9" cy="66.0" r="0.78" fill="#bdbdbd"/><circle cx="96.1" cy="75.6" r="0.78" fill="#bdbdbd"/><circle cx="83.8" cy="65.2" r="0.78" fill="#bdbdbd"/><circle cx="82.5" cy="69.3" r="0.78" fill="#bdbdbd"/><circle cx="83.0" cy="64.5" r="0.78" fill="#bdbdbd"/><circle cx="93.3" cy="64.7" r="0.78" fill="#bdbdbd"/><circle cx="92.1" cy="61.4" r="0.78" fill="#bdbdbd"/><circle cx="96.5" cy="69.0" r="0.78" fill="#bdbdbd"/><circle cx="86.0" cy="68.5" r="0.78" fill="#bdbdbd"/><circle cx="99.9" cy="78.3" r="0.78" fill="#bdbdbd"/><circle cx="98.0" cy="83.1" r="0.78" fill="#bdbdbd"/><circle cx="93.3" cy="68.5" r="0.78" fill="#bdbdbd"/><circle cx="87.6" cy="52.7" r="0.78" fill="#bdbdbd"/><circle cx="97.9" cy="67.8" r="0.78" fill="#bdbdbd"/><circle cx="87.5" cy="66.3" r="0.78" fill="#bdbdbd"/><circle cx="87.3" cy="62.4" r="0.78" fill="#bdbdbd"/><circle cx="93.0" cy="61.8" r="0.78" fill="#bdbdbd"/><circle cx="83.3" cy="63.4" r="0.78" fill="#bdbdbd"/><circle cx="94.7" cy="67.9" r="0.78" fill="#bdbdbd"/><circle cx="100.5" cy="78.9" r="0.78" fill="#bdbdbd"/><circle cx="92.5" cy="50.7" r="0.78" fill="#bdbdbd"/><circle cx="96.8" cy="67.3" r="0.78" fill="#bdbdbd"/><circle cx="97.0" cy="63.4" r="0.78" fill="#bdbdbd"/><circle cx="98.1" cy="75.5" r="0.78" fill="#bdbdbd"/><circle cx="88.6" cy="60.1" r="0.78" fill="#bdbdbd"/><circle cx="100.9" cy="77.6" r="0.78" fill="#bdbdbd"/><circle cx="87.1" cy="59.5" r="0.78" fill="#bdbdbd"/><circle cx="99.3" cy="71.7" r="0.78" fill="#bdbdbd"/><circle cx="101.3" cy="95.7" r="0.78" fill="#bdbdbd"/><circle cx="97.9" cy="68.3" r="0.78" fill="#bdbdbd"/><circle cx="93.7" cy="67.7" r="0.78" fill="#bdbdbd"/><circle cx="94.6" cy="56.4" r="0.78" fill="#bdbdbd"/><circle cx="83.3" cy="54.7" r="0.78" fill="#bdbdbd"/><circle cx="87.9" cy="59.2" r="0.78" fill="#bdbdbd"/><circle cx="96.5" cy="64.8" r="0.78" fill="#bdbdbd"/><circle cx="99.8" cy="81.9" r="0.78" fill="#bdbdbd"/><circle cx="87.1" cy="64.9" r="0.78" fill="#bdbdbd"/><circle cx="83.4" cy="56.8" r="0.78" fill="#bdbdbd"/><circle cx="96.0" cy="59.2" r="0.78" fill="#bdbdbd"/><circle cx="100.4" cy="91.5" r="0.78" fill="#bdbdbd"/><circle cx="101.3" cy="98.4" r="0.78" fill="#bdbdbd"/><circle cx="93.8" cy="57.2" r="0.78" fill="#bdbdbd"/><circle cx="98.4" cy="62.8" r="0.78" fill="#bdbdbd"/><circle cx="100.4" cy="90.5" r="0.78" fill="#bdbdbd"/><circle cx="91.4" cy="57.8" r="0.78" fill="#bdbdbd"/><circle cx="88.8" cy="66.1" r="0.78" fill="#bdbdbd"/><circle cx="86.2" cy="61.6" r="0.78" fill="#bdbdbd"/><circle cx="96.4" cy="68.5" r="0.78" fill="#bdbdbd"/><circle cx="98.5" cy="73.2" r="0.78" fill="#bdbdbd"/><circle cx="82.9" cy="65.3" r="0.78" fill="#bdbdbd"/><circle cx="83.0" cy="60.4" r="0.78" fill="#bdbdbd"/><circle cx="88.5" cy="55.5" r="0.78" fill="#bdbdbd"/><circle cx="83.9" cy="54.7" r="0.78" fill="#bdbdbd"/><circle cx="97.3" cy="67.1" r="0.78" fill="#bdbdbd"/><circle cx="89.7" cy="65.9" r="0.78" fill="#bdbdbd"/><circle cx="99.7" cy="87.2" r="0.78" fill="#bdbdbd"/><circle cx="88.4" cy="54.1" r="0.78" fill="#bdbdbd"/><circle cx="100.1" cy="74.0" r="0.78" fill="#bdbdbd"/><circle cx="100.2" cy="71.9" r="0.78" fill="#bdbdbd"/><circle cx="94.6" cy="70.0" r="0.78" fill="#bdbdbd"/><circle cx="99.2" cy="79.4" r="0.78" fill="#bdbdbd"/><circle cx="101.2" cy="94.9" r="0.78" fill="#bdbdbd"/><circle cx="90.6" cy="61.9" r="0.78" fill="#bdbdbd"/><circle cx="93.9" cy="62.8" r="0.78" fill="#bdbdbd"/><circle cx="83.2" cy="64.7" r="0.78" fill="#bdbdbd"/><circle cx="100.9" cy="94.6" r="0.78" fill="#bdbdbd"/><circle cx="97.7" cy="76.2" r="0.78" fill="#bdbdbd"/><circle cx="100.2" cy="88.3" r="0.78" fill="#bdbdbd"/><circle cx="85.5" cy="66.1" r="0.78" fill="#bdbdbd"/><circle cx="87.8" cy="66.6" r="0.78" fill="#bdbdbd"/><circle cx="98.8" cy="89.5" r="0.78" fill="#bdbdbd"/><circle cx="97.1" cy="68.8" r="0.78" fill="#bdbdbd"/><circle cx="82.0" cy="65.6" r="0.78" fill="#bdbdbd"/><circle cx="97.7" cy="69.9" r="0.78" fill="#bdbdbd"/><circle cx="91.5" cy="59.4" r="0.78" fill="#bdbdbd"/><circle cx="98.0" cy="56.8" r="0.78" fill="#bdbdbd"/><circle cx="92.1" cy="58.0" r="0.78" fill="#bdbdbd"/><circle cx="86.6" cy="58.4" r="0.78" fill="#bdbdbd"/><circle cx="89.3" cy="61.3" r="0.78" fill="#bdbdbd"/><circle cx="100.4" cy="85.6" r="0.78" fill="#bdbdbd"/><circle cx="98.0" cy="69.7" r="0.78" fill="#bdbdbd"/><circle cx="98.5" cy="65.5" r="0.78" fill="#bdbdbd"/><circle cx="84.3" cy="66.2" r="0.78" fill="#bdbdbd"/><circle cx="85.8" cy="65.6" r="0.78" fill="#bdbdbd"/><circle cx="96.7" cy="69.8" r="0.78" fill="#bdbdbd"/><circle cx="98.3" cy="73.2" r="0.78" fill="#bdbdbd"/><circle cx="85.8" cy="56.7" r="0.78" fill="#bdbdbd"/><circle cx="93.7" cy="67.6" r="0.78" fill="#bdbdbd"/><circle cx="98.8" cy="70.2" r="0.78" fill="#bdbdbd"/><circle cx="84.8" cy="59.5" r="0.78" fill="#bdbdbd"/><circle cx="97.0" cy="70.8" r="0.78" fill="#bdbdbd"/><circle cx="99.3" cy="76.6" r="0.78" fill="#bdbdbd"/><circle cx="101.3" cy="88.8" r="0.78" fill="#bdbdbd"/><circle cx="86.9" cy="69.0" r="0.78" fill="#bdbdbd"/><circle cx="99.1" cy="72.8" r="0.78" fill="#bdbdbd"/><circle cx="91.0" cy="62.3" r="0.78" fill="#bdbdbd"/><circle cx="81.8" cy="67.0" r="0.78" fill="#bdbdbd"/><circle cx="92.0" cy="63.2" r="0.78" fill="#bdbdbd"/><circle cx="88.1" cy="60.4" r="0.78" fill="#bdbdbd"/><circle cx="84.9" cy="71.1" r="0.78" fill="#bdbdbd"/><circle cx="93.3" cy="61.6" r="0.78" fill="#bdbdbd"/><circle cx="85.8" cy="69.8" r="0.78" fill="#bdbdbd"/><circle cx="99.7" cy="86.0" r="0.78" fill="#bdbdbd"/><circle cx="99.6" cy="88.6" r="0.78" fill="#bdbdbd"/><circle cx="100.9" cy="98.5" r="0.78" fill="#bdbdbd"/><circle cx="93.9" cy="67.5" r="0.78" fill="#bdbdbd"/><circle cx="81.8" cy="66.8" r="0.78" fill="#bdbdbd"/><circle cx="89.4" cy="64.5" r="0.78" fill="#bdbdbd"/><circle cx="100.0" cy="67.1" r="0.78" fill="#bdbdbd"/><circle cx="91.0" cy="64.2" r="0.78" fill="#bdbdbd"/><circle cx="95.1" cy="63.9" r="0.78" fill="#bdbdbd"/><circle cx="98.0" cy="64.4" r="0.78" fill="#bdbdbd"/><circle cx="99.6" cy="79.5" r="0.78" fill="#bdbdbd"/><circle cx="82.9" cy="59.4" r="0.78" fill="#bdbdbd"/><circle cx="84.5" cy="65.1" r="0.78" fill="#bdbdbd"/><circle cx="87.8" cy="68.4" r="0.78" fill="#bdbdbd"/><circle cx="98.7" cy="90.4" r="0.78" fill="#bdbdbd"/><circle cx="98.8" cy="93.8" r="0.78" fill="#bdbdbd"/><circle cx="98.8" cy="77.5" r="0.78" fill="#bdbdbd"/><circle cx="81.2" cy="66.4" r="0.78" fill="#bdbdbd"/><circle cx="86.8" cy="65.5" r="0.78" fill="#bdbdbd"/><circle cx="98.0" cy="67.0" r="0.78" fill="#bdbdbd"/><circle cx="98.5" cy="86.5" r="0.78" fill="#bdbdbd"/><circle cx="95.6" cy="63.8" r="0.78" fill="#bdbdbd"/><circle cx="90.2" cy="68.6" r="0.78" fill="#bdbdbd"/><circle cx="94.3" cy="67.9" r="0.78" fill="#bdbdbd"/><circle cx="95.1" cy="63.5" r="0.78" fill="#bdbdbd"/><circle cx="96.2" cy="83.3" r="0.78" fill="#bdbdbd"/><circle cx="100.5" cy="82.2" r="0.78" fill="#bdbdbd"/><circle cx="93.0" cy="67.8" r="0.78" fill="#bdbdbd"/><circle cx="83.1" cy="65.3" r="0.78" fill="#bdbdbd"/><circle cx="84.4" cy="65.8" r="0.78" fill="#bdbdbd"/><circle cx="85.4" cy="63.7" r="0.78" fill="#bdbdbd"/><circle cx="92.6" cy="67.6" r="0.78" fill="#bdbdbd"/><circle cx="100.9" cy="78.0" r="0.78" fill="#bdbdbd"/><circle cx="100.5" cy="80.4" r="0.78" fill="#bdbdbd"/><circle cx="101.5" cy="80.0" r="0.78" fill="#bdbdbd"/><circle cx="85.2" cy="65.3" r="0.78" fill="#bdbdbd"/><circle cx="98.2" cy="92.2" r="0.78" fill="#bdbdbd"/><circle cx="99.4" cy="92.6" r="0.78" fill="#bdbdbd"/><circle cx="100.9" cy="72.2" r="0.78" fill="#bdbdbd"/><circle cx="100.2" cy="86.7" r="0.78" fill="#bdbdbd"/><circle cx="99.3" cy="55.5" r="0.78" fill="#bdbdbd"/><circle cx="88.1" cy="53.3" r="0.78" fill="#bdbdbd"/><circle cx="93.0" cy="69.7" r="0.78" fill="#bdbdbd"/><circle cx="99.9" cy="56.2" r="0.78" fill="#bdbdbd"/><circle cx="92.7" cy="67.0" r="0.78" fill="#bdbdbd"/><circle cx="98.1" cy="68.4" r="0.78" fill="#bdbdbd"/><circle cx="83.7" cy="60.6" r="0.78" fill="#bdbdbd"/><circle cx="100.5" cy="71.1" r="0.78" fill="#bdbdbd"/><circle cx="87.9" cy="61.1" r="0.78" fill="#bdbdbd"/><circle cx="99.0" cy="95.5" r="0.78" fill="#bdbdbd"/><circle cx="87.2" cy="58.0" r="0.78" fill="#bdbdbd"/><circle cx="88.4" cy="63.5" r="0.78" fill="#bdbdbd"/><circle cx="91.0" cy="68.6" r="0.78" fill="#bdbdbd"/><circle cx="86.9" cy="72.5" r="0.78" fill="#bdbdbd"/><circle cx="88.9" cy="65.3" r="0.78" fill="#bdbdbd"/><circle cx="99.6" cy="87.3" r="0.78" fill="#bdbdbd"/><circle cx="88.8" cy="64.7" r="0.78" fill="#bdbdbd"/><circle cx="97.9" cy="63.5" r="0.78" fill="#bdbdbd"/><circle cx="91.0" cy="69.0" r="0.78" fill="#bdbdbd"/><circle cx="99.1" cy="52.9" r="0.78" fill="#bdbdbd"/><circle cx="99.2" cy="74.5" r="0.78" fill="#bdbdbd"/><circle cx="98.8" cy="84.0" r="0.78" fill="#bdbdbd"/><circle cx="92.0" cy="65.3" r="0.78" fill="#bdbdbd"/><circle cx="86.6" cy="58.1" r="0.78" fill="#bdbdbd"/><circle cx="94.4" cy="68.4" r="0.78" fill="#bdbdbd"/><circle cx="98.1" cy="78.8" r="0.78" fill="#bdbdbd"/><circle cx="85.6" cy="60.0" r="0.78" fill="#bdbdbd"/><circle cx="89.7" cy="63.0" r="0.78" fill="#bdbdbd"/><circle cx="93.0" cy="69.6" r="0.78" fill="#bdbdbd"/><circle cx="93.4" cy="64.1" r="0.78" fill="#bdbdbd"/><circle cx="87.1" cy="65.6" r="0.78" fill="#bdbdbd"/><circle cx="83.1" cy="63.0" r="0.78" fill="#bdbdbd"/><circle cx="87.5" cy="64.4" r="0.78" fill="#bdbdbd"/><circle cx="85.3" cy="65.7" r="0.78" fill="#bdbdbd"/><circle cx="87.8" cy="66.9" r="0.78" fill="#bdbdbd"/><circle cx="100.5" cy="80.2" r="0.78" fill="#bdbdbd"/><circle cx="89.7" cy="62.1" r="0.78" fill="#bdbdbd"/><circle cx="98.5" cy="78.4" r="0.78" fill="#bdbdbd"/><circle cx="94.6" cy="69.6" r="0.78" fill="#bdbdbd"/><circle cx="81.8" cy="64.5" r="0.78" fill="#bdbdbd"/><circle cx="94.7" cy="71.5" r="0.78" fill="#bdbdbd"/><circle cx="100.4" cy="84.4" r="0.78" fill="#bdbdbd"/><circle cx="88.6" cy="67.0" r="0.78" fill="#bdbdbd"/><circle cx="82.1" cy="67.7" r="0.78" fill="#bdbdbd"/><circle cx="82.4" cy="64.5" r="0.78" fill="#bdbdbd"/><circle cx="92.1" cy="69.6" r="0.78" fill="#bdbdbd"/><circle cx="91.6" cy="53.5" r="0.78" fill="#bdbdbd"/><circle cx="86.2" cy="66.0" r="0.78" fill="#bdbdbd"/><circle cx="86.7" cy="65.6" r="0.78" fill="#bdbdbd"/><circle cx="90.1" cy="60.9" r="0.78" fill="#bdbdbd"/><circle cx="100.3" cy="94.7" r="0.78" fill="#bdbdbd"/><circle cx="90.3" cy="67.0" r="0.78" fill="#bdbdbd"/><circle cx="92.5" cy="64.6" r="0.78" fill="#bdbdbd"/><circle cx="82.1" cy="65.5" r="0.78" fill="#bdbdbd"/><circle cx="90.6" cy="66.7" r="0.78" fill="#bdbdbd"/><circle cx="97.2" cy="56.7" r="0.78" fill="#bdbdbd"/><circle cx="96.8" cy="63.7" r="0.78" fill="#bdbdbd"/><circle cx="98.0" cy="64.9" r="0.78" fill="#bdbdbd"/><circle cx="86.7" cy="66.9" r="0.78" fill="#bdbdbd"/><circle cx="98.1" cy="65.5" r="0.78" fill="#bdbdbd"/><circle cx="99.2" cy="81.5" r="0.78" fill="#bdbdbd"/><circle cx="94.0" cy="58.1" r="0.78" fill="#bdbdbd"/><circle cx="87.3" cy="61.3" r="0.78" fill="#bdbdbd"/><circle cx="92.6" cy="60.5" r="0.78" fill="#bdbdbd"/><circle cx="99.1" cy="92.4" r="0.78" fill="#bdbdbd"/><circle cx="98.7" cy="79.5" r="0.78" fill="#bdbdbd"/><circle cx="95.7" cy="58.0" r="0.78" fill="#bdbdbd"/><circle cx="100.0" cy="48.8" r="0.78" fill="#bdbdbd"/><circle cx="86.2" cy="68.6" r="0.78" fill="#bdbdbd"/><circle cx="96.5" cy="71.6" r="0.78" fill="#bdbdbd"/><circle cx="82.8" cy="63.9" r="0.78" fill="#bdbdbd"/><circle cx="96.3" cy="66.1" r="0.78" fill="#bdbdbd"/><circle cx="99.2" cy="77.5" r="0.78" fill="#bdbdbd"/><circle cx="86.6" cy="65.4" r="0.78" fill="#bdbdbd"/><circle cx="88.7" cy="54.2" r="0.78" fill="#bdbdbd"/><circle cx="97.6" cy="85.2" r="0.78" fill="#bdbdbd"/><circle cx="97.4" cy="70.4" r="0.78" fill="#bdbdbd"/><circle cx="86.7" cy="66.7" r="0.78" fill="#bdbdbd"/><circle cx="99.3" cy="77.9" r="0.78" fill="#bdbdbd"/><circle cx="84.5" cy="62.3" r="0.78" fill="#bdbdbd"/><circle cx="82.7" cy="65.2" r="0.78" fill="#bdbdbd"/><circle cx="89.9" cy="62.8" r="0.78" fill="#bdbdbd"/><circle cx="101.0" cy="75.7" r="0.78" fill="#bdbdbd"/><circle cx="97.1" cy="67.9" r="0.78" fill="#bdbdbd"/><circle cx="98.4" cy="74.1" r="0.78" fill="#bdbdbd"/><circle cx="82.4" cy="65.2" r="0.78" fill="#bdbdbd"/><circle cx="91.5" cy="66.5" r="0.78" fill="#bdbdbd"/><circle cx="94.6" cy="65.0" r="0.78" fill="#bdbdbd"/><circle cx="96.3" cy="65.5" r="0.78" fill="#bdbdbd"/><circle cx="87.9" cy="65.9" r="0.78" fill="#bdbdbd"/><circle cx="92.3" cy="66.2" r="0.78" fill="#bdbdbd"/><circle cx="101.0" cy="78.5" r="0.78" fill="#bdbdbd"/><circle cx="90.6" cy="63.3" r="0.78" fill="#bdbdbd"/><circle cx="97.6" cy="74.1" r="0.78" fill="#bdbdbd"/><circle cx="99.3" cy="70.4" r="0.78" fill="#bdbdbd"/><circle cx="95.4" cy="64.2" r="0.78" fill="#bdbdbd"/><circle cx="99.1" cy="93.8" r="0.78" fill="#bdbdbd"/><circle cx="99.3" cy="64.7" r="0.78" fill="#bdbdbd"/><circle cx="98.2" cy="74.7" r="0.78" fill="#bdbdbd"/><circle cx="88.6" cy="71.0" r="0.78" fill="#bdbdbd"/><circle cx="99.9" cy="80.3" r="0.78" fill="#bdbdbd"/><circle cx="99.9" cy="98.7" r="0.78" fill="#bdbdbd"/><circle cx="88.2" cy="64.2" r="0.78" fill="#bdbdbd"/><circle cx="82.8" cy="61.0" r="0.78" fill="#bdbdbd"/><circle cx="91.5" cy="64.9" r="0.78" fill="#bdbdbd"/><circle cx="97.7" cy="78.2" r="0.78" fill="#bdbdbd"/><circle cx="93.5" cy="68.1" r="0.78" fill="#bdbdbd"/><circle cx="97.8" cy="64.8" r="0.78" fill="#bdbdbd"/><circle cx="99.5" cy="87.2" r="0.78" fill="#bdbdbd"/><circle cx="99.8" cy="61.9" r="0.78" fill="#bdbdbd"/><circle cx="91.7" cy="59.7" r="0.78" fill="#bdbdbd"/><circle cx="87.5" cy="52.0" r="0.78" fill="#bdbdbd"/><circle cx="96.2" cy="70.9" r="0.78" fill="#bdbdbd"/><circle cx="98.5" cy="79.3" r="0.78" fill="#bdbdbd"/><circle cx="96.3" cy="69.4" r="0.78" fill="#bdbdbd"/><circle cx="98.0" cy="69.4" r="0.78" fill="#bdbdbd"/><circle cx="99.3" cy="95.5" r="0.78" fill="#bdbdbd"/><circle cx="88.7" cy="53.1" r="0.78" fill="#bdbdbd"/><circle cx="90.8" cy="67.7" r="0.78" fill="#bdbdbd"/><circle cx="92.6" cy="65.4" r="0.78" fill="#bdbdbd"/><circle cx="99.8" cy="99.6" r="0.78" fill="#bdbdbd"/><circle cx="98.3" cy="78.9" r="0.78" fill="#bdbdbd"/><circle cx="98.6" cy="85.7" r="0.78" fill="#bdbdbd"/><circle cx="84.9" cy="61.2" r="0.78" fill="#bdbdbd"/><circle cx="86.2" cy="65.7" r="0.78" fill="#bdbdbd"/><circle cx="87.1" cy="59.7" r="0.78" fill="#bdbdbd"/><circle cx="88.5" cy="61.4" r="0.78" fill="#bdbdbd"/><circle cx="99.3" cy="82.4" r="0.78" fill="#bdbdbd"/><circle cx="87.0" cy="65.0" r="0.78" fill="#bdbdbd"/><circle cx="93.5" cy="69.8" r="0.78" fill="#bdbdbd"/><circle cx="90.8" cy="65.9" r="0.78" fill="#bdbdbd"/><circle cx="95.0" cy="68.7" r="0.78" fill="#bdbdbd"/><circle cx="87.9" cy="58.3" r="0.78" fill="#bdbdbd"/><circle cx="99.5" cy="80.2" r="0.78" fill="#bdbdbd"/><circle cx="99.1" cy="88.1" r="0.78" fill="#bdbdbd"/><circle cx="98.6" cy="97.8" r="0.78" fill="#bdbdbd"/><circle cx="96.2" cy="61.7" r="0.78" fill="#bdbdbd"/><circle cx="82.0" cy="69.0" r="0.78" fill="#bdbdbd"/><circle cx="87.9" cy="66.0" r="0.78" fill="#bdbdbd"/><circle cx="87.8" cy="58.6" r="0.78" fill="#bdbdbd"/><circle cx="86.6" cy="65.3" r="0.78" fill="#bdbdbd"/><circle cx="96.1" cy="62.9" r="0.78" fill="#bdbdbd"/><circle cx="96.7" cy="57.6" r="0.78" fill="#bdbdbd"/><circle cx="82.7" cy="64.6" r="0.78" fill="#bdbdbd"/><circle cx="100.0" cy="68.0" r="0.78" fill="#bdbdbd"/><circle cx="87.1" cy="62.8" r="0.78" fill="#bdbdbd"/><circle cx="98.9" cy="74.5" r="0.78" fill="#bdbdbd"/><circle cx="81.3" cy="66.0" r="0.78" fill="#bdbdbd"/><circle cx="98.7" cy="88.0" r="0.78" fill="#bdbdbd"/><circle cx="99.4" cy="75.1" r="0.78" fill="#bdbdbd"/><circle cx="98.3" cy="63.9" r="0.78" fill="#bdbdbd"/><circle cx="99.6" cy="81.9" r="0.78" fill="#bdbdbd"/><circle cx="86.4" cy="67.1" r="0.78" fill="#bdbdbd"/><circle cx="90.2" cy="63.2" r="0.78" fill="#bdbdbd"/><circle cx="85.1" cy="68.6" r="0.78" fill="#bdbdbd"/><circle cx="99.9" cy="98.7" r="0.78" fill="#bdbdbd"/><circle cx="85.4" cy="52.5" r="0.78" fill="#bdbdbd"/><circle cx="85.5" cy="64.1" r="0.78" fill="#bdbdbd"/><circle cx="98.8" cy="64.2" r="0.78" fill="#bdbdbd"/><circle cx="94.6" cy="64.6" r="0.78" fill="#bdbdbd"/><circle cx="96.9" cy="72.7" r="0.78" fill="#bdbdbd"/><circle cx="99.7" cy="81.9" r="0.78" fill="#bdbdbd"/><circle cx="90.4" cy="65.4" r="0.78" fill="#bdbdbd"/><circle cx="94.1" cy="60.9" r="0.78" fill="#bdbdbd"/><circle cx="84.0" cy="67.9" r="0.78" fill="#bdbdbd"/><circle cx="100.3" cy="94.5" r="0.78" fill="#bdbdbd"/><circle cx="83.0" cy="64.6" r="0.78" fill="#bdbdbd"/><circle cx="100.5" cy="82.8" r="0.78" fill="#bdbdbd"/><circle cx="83.4" cy="59.4" r="0.78" fill="#bdbdbd"/><circle cx="88.6" cy="67.0" r="0.78" fill="#bdbdbd"/><circle cx="93.2" cy="68.8" r="0.78" fill="#bdbdbd"/><circle cx="100.1" cy="89.1" r="0.78" fill="#bdbdbd"/><circle cx="99.7" cy="75.5" r="0.78" fill="#bdbdbd"/><circle cx="100.7" cy="87.1" r="0.78" fill="#bdbdbd"/><circle cx="100.1" cy="100.1" r="0.78" fill="#bdbdbd"/><circle cx="99.9" cy="74.5" r="0.78" fill="#bdbdbd"/><circle cx="97.8" cy="65.3" r="0.78" fill="#bdbdbd"/><circle cx="99.7" cy="99.7" r="0.78" fill="#bdbdbd"/><circle cx="86.7" cy="57.0" r="0.78" fill="#bdbdbd"/><circle cx="101.0" cy="67.7" r="0.78" fill="#bdbdbd"/><circle cx="97.1" cy="82.7" r="0.78" fill="#bdbdbd"/><circle cx="90.1" cy="67.1" r="0.78" fill="#bdbdbd"/><circle cx="95.1" cy="60.2" r="0.78" fill="#bdbdbd"/><circle cx="91.6" cy="69.0" r="0.78" fill="#bdbdbd"/><circle cx="98.4" cy="68.3" r="0.78" fill="#bdbdbd"/><circle cx="96.1" cy="64.0" r="0.78" fill="#bdbdbd"/><circle cx="94.0" cy="70.5" r="0.78" fill="#bdbdbd"/><circle cx="82.3" cy="68.5" r="0.78" fill="#bdbdbd"/><circle cx="90.1" cy="69.1" r="0.78" fill="#bdbdbd"/><circle cx="93.2" cy="68.9" r="0.78" fill="#bdbdbd"/><circle cx="97.1" cy="73.3" r="0.78" fill="#bdbdbd"/><circle cx="84.7" cy="65.9" r="0.78" fill="#bdbdbd"/><circle cx="99.3" cy="94.4" r="0.78" fill="#bdbdbd"/><circle cx="82.2" cy="66.8" r="0.78" fill="#bdbdbd"/><circle cx="100.3" cy="77.9" r="0.78" fill="#bdbdbd"/><circle cx="96.5" cy="70.7" r="0.78" fill="#bdbdbd"/><circle cx="88.5" cy="61.9" r="0.78" fill="#bdbdbd"/><circle cx="99.0" cy="85.6" r="0.78" fill="#bdbdbd"/><circle cx="100.4" cy="90.6" r="0.78" fill="#bdbdbd"/><circle cx="82.6" cy="62.8" r="0.78" fill="#bdbdbd"/><circle cx="84.7" cy="66.5" r="0.78" fill="#bdbdbd"/><circle cx="84.1" cy="68.5" r="0.78" fill="#bdbdbd"/><circle cx="86.9" cy="56.5" r="0.78" fill="#bdbdbd"/><circle cx="98.7" cy="85.9" r="0.78" fill="#bdbdbd"/><circle cx="81.7" cy="65.0" r="0.78" fill="#bdbdbd"/><circle cx="100.4" cy="99.5" r="0.78" fill="#bdbdbd"/><circle cx="84.7" cy="65.2" r="0.78" fill="#bdbdbd"/><circle cx="95.9" cy="60.1" r="0.78" fill="#bdbdbd"/><circle cx="96.8" cy="65.1" r="0.78" fill="#bdbdbd"/><circle cx="91.6" cy="66.9" r="0.78" fill="#bdbdbd"/><circle cx="96.9" cy="67.8" r="0.78" fill="#bdbdbd"/><circle cx="84.4" cy="66.9" r="0.78" fill="#bdbdbd"/><circle cx="91.7" cy="66.3" r="0.78" fill="#bdbdbd"/><circle cx="99.2" cy="71.7" r="0.78" fill="#bdbdbd"/><circle cx="98.7" cy="70.8" r="0.78" fill="#bdbdbd"/><circle cx="100.5" cy="75.0" r="0.78" fill="#bdbdbd"/><circle cx="94.6" cy="64.6" r="0.78" fill="#bdbdbd"/><circle cx="93.9" cy="61.1" r="0.78" fill="#bdbdbd"/><circle cx="99.4" cy="88.1" r="0.78" fill="#bdbdbd"/><circle cx="98.9" cy="81.4" r="0.78" fill="#bdbdbd"/><circle cx="89.0" cy="63.8" r="0.78" fill="#bdbdbd"/><circle cx="89.8" cy="58.8" r="0.78" fill="#bdbdbd"/><circle cx="83.4" cy="65.3" r="0.78" fill="#bdbdbd"/><circle cx="96.4" cy="69.7" r="0.78" fill="#bdbdbd"/><circle cx="85.3" cy="61.5" r="0.78" fill="#bdbdbd"/><circle cx="97.4" cy="67.2" r="0.78" fill="#bdbdbd"/><circle cx="89.4" cy="62.1" r="0.78" fill="#bdbdbd"/><circle cx="99.3" cy="57.5" r="0.78" fill="#bdbdbd"/><circle cx="94.4" cy="59.3" r="0.78" fill="#bdbdbd"/><circle cx="85.9" cy="64.0" r="0.78" fill="#bdbdbd"/><circle cx="96.0" cy="68.2" r="0.78" fill="#bdbdbd"/><circle cx="96.8" cy="65.7" r="0.78" fill="#bdbdbd"/><circle cx="99.5" cy="74.2" r="0.78" fill="#bdbdbd"/><circle cx="99.7" cy="84.9" r="0.78" fill="#bdbdbd"/><circle cx="93.5" cy="63.7" r="0.78" fill="#bdbdbd"/><circle cx="98.0" cy="74.3" r="0.78" fill="#bdbdbd"/><circle cx="100.4" cy="79.0" r="0.78" fill="#bdbdbd"/><circle cx="98.3" cy="66.9" r="0.78" fill="#bdbdbd"/><circle cx="99.6" cy="86.5" r="0.78" fill="#bdbdbd"/><circle cx="84.8" cy="61.2" r="0.78" fill="#bdbdbd"/><circle cx="96.8" cy="66.2" r="0.78" fill="#bdbdbd"/><circle cx="100.8" cy="81.2" r="0.78" fill="#bdbdbd"/><circle cx="98.0" cy="62.0" r="0.78" fill="#bdbdbd"/><circle cx="82.7" cy="64.8" r="0.78" fill="#bdbdbd"/><circle cx="99.7" cy="99.5" r="0.78" fill="#bdbdbd"/><circle cx="92.6" cy="61.9" r="0.78" fill="#bdbdbd"/><circle cx="94.4" cy="61.3" r="0.78" fill="#bdbdbd"/><circle cx="97.0" cy="68.9" r="0.78" fill="#bdbdbd"/><circle cx="93.4" cy="65.9" r="0.78" fill="#bdbdbd"/><circle cx="101.0" cy="69.4" r="0.78" fill="#bdbdbd"/><circle cx="93.5" cy="66.1" r="0.78" fill="#bdbdbd"/><circle cx="86.1" cy="61.7" r="0.78" fill="#bdbdbd"/><circle cx="97.2" cy="66.8" r="0.78" fill="#bdbdbd"/><circle cx="100.0" cy="88.4" r="0.78" fill="#bdbdbd"/><circle cx="82.5" cy="60.9" r="0.78" fill="#bdbdbd"/><circle cx="84.0" cy="57.3" r="0.78" fill="#bdbdbd"/><circle cx="88.7" cy="65.5" r="0.78" fill="#bdbdbd"/><circle cx="92.7" cy="70.9" r="0.78" fill="#bdbdbd"/><circle cx="99.2" cy="73.7" r="0.78" fill="#bdbdbd"/><circle cx="80.8" cy="63.3" r="0.78" fill="#bdbdbd"/><circle cx="97.1" cy="72.2" r="0.78" fill="#bdbdbd"/><circle cx="98.6" cy="76.6" r="0.78" fill="#bdbdbd"/><circle cx="97.7" cy="67.0" r="0.78" fill="#bdbdbd"/><circle cx="85.7" cy="66.0" r="0.78" fill="#bdbdbd"/><circle cx="84.6" cy="64.3" r="0.78" fill="#bdbdbd"/><circle cx="98.8" cy="75.1" r="0.78" fill="#bdbdbd"/><circle cx="96.0" cy="68.3" r="0.78" fill="#bdbdbd"/><circle cx="93.8" cy="67.0" r="0.78" fill="#bdbdbd"/><circle cx="82.1" cy="66.4" r="0.78" fill="#bdbdbd"/><circle cx="100.1" cy="93.7" r="0.78" fill="#bdbdbd"/><circle cx="84.5" cy="61.0" r="0.78" fill="#bdbdbd"/><circle cx="92.3" cy="66.5" r="0.78" fill="#bdbdbd"/><circle cx="100.3" cy="67.6" r="0.78" fill="#bdbdbd"/><circle cx="97.4" cy="87.7" r="0.78" fill="#bdbdbd"/><circle cx="91.4" cy="68.9" r="0.78" fill="#bdbdbd"/><circle cx="99.8" cy="92.1" r="0.78" fill="#bdbdbd"/><circle cx="95.9" cy="77.6" r="0.78" fill="#bdbdbd"/><circle cx="83.6" cy="66.4" r="0.78" fill="#bdbdbd"/><circle cx="88.6" cy="65.5" r="0.78" fill="#bdbdbd"/><circle cx="89.3" cy="41.1" r="0.55" fill="#bdbdbd"/><circle cx="92.5" cy="43.4" r="0.55" fill="#bdbdbd"/><circle cx="93.4" cy="37.5" r="0.55" fill="#bdbdbd"/><circle cx="82.1" cy="41.4" r="0.55" fill="#bdbdbd"/><circle cx="88.7" cy="39.5" r="0.55" fill="#bdbdbd"/><circle cx="91.7" cy="39.1" r="0.55" fill="#bdbdbd"/><circle cx="86.1" cy="42.7" r="0.55" fill="#bdbdbd"/><circle cx="92.4" cy="46.8" r="0.55" fill="#bdbdbd"/><circle cx="86.9" cy="42.3" r="0.55" fill="#bdbdbd"/><circle cx="95.8" cy="49.1" r="0.55" fill="#bdbdbd"/><circle cx="90.9" cy="37.5" r="0.55" fill="#bdbdbd"/><circle cx="88.3" cy="44.9" r="0.55" fill="#bdbdbd"/><circle cx="85.5" cy="36.5" r="0.55" fill="#bdbdbd"/><circle cx="96.7" cy="48.7" r="0.55" fill="#bdbdbd"/><circle cx="83.1" cy="42.5" r="0.55" fill="#bdbdbd"/><circle cx="90.9" cy="40.2" r="0.55" fill="#bdbdbd"/><circle cx="82.1" cy="46.5" r="0.55" fill="#bdbdbd"/><circle cx="93.3" cy="42.1" r="0.55" fill="#bdbdbd"/><circle cx="82.4" cy="41.5" r="0.55" fill="#bdbdbd"/><circle cx="82.5" cy="49.5" r="0.55" fill="#bdbdbd"/><circle cx="81.8" cy="40.0" r="0.55" fill="#bdbdbd"/><circle cx="93.3" cy="37.9" r="0.55" fill="#bdbdbd"/><circle cx="82.7" cy="37.0" r="0.55" fill="#bdbdbd"/><circle cx="83.6" cy="43.4" r="0.55" fill="#bdbdbd"/><circle cx="94.3" cy="38.4" r="0.55" fill="#bdbdbd"/><circle cx="83.8" cy="46.7" r="0.55" fill="#bdbdbd"/><circle cx="87.8" cy="40.7" r="0.55" fill="#bdbdbd"/><circle cx="83.0" cy="39.4" r="0.55" fill="#bdbdbd"/><circle cx="96.5" cy="37.6" r="0.55" fill="#bdbdbd"/><circle cx="85.2" cy="46.4" r="0.55" fill="#bdbdbd"/><circle cx="95.3" cy="48.7" r="0.55" fill="#bdbdbd"/><circle cx="88.6" cy="49.4" r="0.55" fill="#bdbdbd"/><circle cx="90.7" cy="40.0" r="0.55" fill="#bdbdbd"/><circle cx="88.4" cy="46.0" r="0.55" fill="#bdbdbd"/><circle cx="92.7" cy="37.8" r="0.55" fill="#bdbdbd"/><circle cx="84.1" cy="49.4" r="0.55" fill="#bdbdbd"/><circle cx="82.7" cy="47.4" r="0.55" fill="#bdbdbd"/><circle cx="86.4" cy="39.5" r="0.55" fill="#bdbdbd"/><circle cx="85.1" cy="42.6" r="0.55" fill="#bdbdbd"/><circle cx="96.8" cy="38.1" r="0.55" fill="#bdbdbd"/><circle cx="55.0" cy="20.5" r="0.6" fill="#bdbdbd"/><circle cx="87.5" cy="5.8" r="0.6" fill="#bdbdbd"/><circle cx="91.2" cy="5.8" r="0.6" fill="#bdbdbd"/><circle cx="96.0" cy="16.5" r="0.6" fill="#bdbdbd"/><circle cx="86.0" cy="33.7" r="0.6" fill="#bdbdbd"/><circle cx="87.5" cy="25.5" r="0.6" fill="#bdbdbd"/><circle cx="95.0" cy="30.0" r="0.6" fill="#bdbdbd"/><circle cx="84.0" cy="40.0" r="0.6" fill="#bdbdbd"/><circle cx="90.0" cy="38.0" r="0.6" fill="#bdbdbd"/><circle cx="93.0" cy="44.0" r="0.6" fill="#bdbdbd"/><circle cx="48.0" cy="62.0" r="0.6" fill="#bdbdbd"/><circle cx="44.0" cy="70.0" r="0.6" fill="#bdbdbd"/><circle cx="58.0" cy="55.0" r="0.6" fill="#bdbdbd"/><circle cx="62.0" cy="52.0" r="0.6" fill="#bdbdbd"/><circle cx="79.0" cy="48.0" r="0.6" fill="#bdbdbd"/><circle cx="82.0" cy="40.0" r="0.6" fill="#bdbdbd"/><circle cx="60.0" cy="48.0" r="0.6" fill="#bdbdbd"/><circle cx="52.0" cy="57.0" r="0.6" fill="#bdbdbd"/><circle cx="27.3" cy="76.2" r="0.85" fill="#5b8bd8"/><circle cx="29.6" cy="82.0" r="0.85" fill="#5b8bd8"/><circle cx="19.2" cy="86.6" r="0.85" fill="#5b8bd8"/><circle cx="25.0" cy="88.9" r="0.85" fill="#5b8bd8"/><circle cx="33.0" cy="88.9" r="0.85" fill="#5b8bd8"/><circle cx="37.7" cy="85.4" r="0.85" fill="#5b8bd8"/><circle cx="38.9" cy="90.0" r="0.85" fill="#5b8bd8"/><circle cx="29.6" cy="94.7" r="0.85" fill="#5b8bd8"/><circle cx="35.4" cy="94.7" r="0.85" fill="#5b8bd8"/><circle cx="37.7" cy="98.1" r="0.85" fill="#5b8bd8"/><circle cx="36.0" cy="96.5" r="0.85" fill="#5b8bd8"/><circle cx="39.5" cy="99.5" r="0.85" fill="#5b8bd8"/><circle cx="36.3" cy="99.6" r="0.85" fill="#5b8bd8"/><circle cx="39.2" cy="96.6" r="0.85" fill="#5b8bd8"/><circle cx="33.0" cy="92.3" r="0.85" fill="#5b8bd8"/><circle cx="40.0" cy="91.2" r="0.85" fill="#5b8bd8"/><circle cx="42.3" cy="86.6" r="0.85" fill="#5b8bd8"/><circle cx="44.0" cy="95.0" r="0.85" fill="#5b8bd8"/><circle cx="41.0" cy="97.5" r="0.85" fill="#5b8bd8"/><circle cx="23.0" cy="84.0" r="0.85" fill="#5b8bd8"/><circle cx="31.0" cy="97.0" r="0.85" fill="#5b8bd8"/><circle cx="43.0" cy="92.0" r="0.85" fill="#5b8bd8"/><circle cx="25.0" cy="54.2" r="0.8" fill="#223"/><circle cx="44.0" cy="61.0" r="0.7" fill="#223"/><circle cx="102.6" cy="84.4" r="0.85" fill="#b11a26"/><circle cx="103.2" cy="95.5" r="0.85" fill="#b11a26"/><circle cx="101.9" cy="89.2" r="0.85" fill="#b11a26"/><circle cx="102.7" cy="97.0" r="0.85" fill="#b11a26"/><circle cx="103.8" cy="81.2" r="0.85" fill="#b11a26"/><circle cx="104.4" cy="95.9" r="0.85" fill="#b11a26"/><circle cx="107.0" cy="99.6" r="0.85" fill="#b11a26"/><circle cx="105.7" cy="87.4" r="0.85" fill="#b11a26"/><circle cx="104.7" cy="86.2" r="0.85" fill="#b11a26"/><circle cx="106.3" cy="88.1" r="0.85" fill="#b11a26"/><circle cx="103.1" cy="88.4" r="0.85" fill="#b11a26"/><circle cx="103.1" cy="83.1" r="0.85" fill="#b11a26"/><circle cx="101.8" cy="89.0" r="0.85" fill="#b11a26"/><circle cx="108.8" cy="93.4" r="0.85" fill="#b11a26"/><circle cx="105.4" cy="85.8" r="0.85" fill="#b11a26"/><circle cx="104.7" cy="98.9" r="0.85" fill="#b11a26"/><circle cx="104.5" cy="95.2" r="0.85" fill="#b11a26"/><circle cx="111.5" cy="95.7" r="0.85" fill="#b11a26"/><circle cx="101.7" cy="93.8" r="0.85" fill="#b11a26"/><circle cx="103.3" cy="88.4" r="0.85" fill="#b11a26"/><circle cx="101.7" cy="91.5" r="0.85" fill="#b11a26"/><circle cx="102.3" cy="87.6" r="0.85" fill="#b11a26"/><circle cx="102.1" cy="97.5" r="0.85" fill="#b11a26"/><circle cx="103.8" cy="97.5" r="0.85" fill="#b11a26"/><circle cx="102.1" cy="99.3" r="0.85" fill="#b11a26"/><circle cx="102.0" cy="95.5" r="0.85" fill="#b11a26"/><circle cx="103.0" cy="81.9" r="0.85" fill="#b11a26"/><circle cx="105.6" cy="98.0" r="0.85" fill="#b11a26"/><circle cx="104.6" cy="87.6" r="0.85" fill="#b11a26"/><circle cx="101.8" cy="96.3" r="0.85" fill="#b11a26"/><circle cx="102.1" cy="85.2" r="0.85" fill="#b11a26"/><circle cx="103.3" cy="81.5" r="0.85" fill="#b11a26"/><circle cx="102.6" cy="96.5" r="0.85" fill="#b11a26"/><circle cx="100.8" cy="82.3" r="0.85" fill="#b11a26"/><circle cx="102.0" cy="95.5" r="0.85" fill="#b11a26"/><circle cx="101.9" cy="88.8" r="0.85" fill="#b11a26"/><circle cx="104.6" cy="96.6" r="0.85" fill="#b11a26"/><circle cx="103.7" cy="93.3" r="0.85" fill="#b11a26"/><circle cx="101.5" cy="98.4" r="0.85" fill="#b11a26"/><circle cx="108.6" cy="95.3" r="0.85" fill="#b11a26"/><circle cx="102.1" cy="87.1" r="0.85" fill="#b11a26"/><circle cx="104.1" cy="83.1" r="0.85" fill="#b11a26"/><circle cx="104.1" cy="92.5" r="0.85" fill="#b11a26"/><circle cx="102.8" cy="90.4" r="0.85" fill="#b11a26"/><circle cx="104.6" cy="89.1" r="0.85" fill="#b11a26"/><circle cx="104.7" cy="85.1" r="0.85" fill="#b11a26"/><circle cx="104.4" cy="88.1" r="0.85" fill="#b11a26"/><circle cx="106.9" cy="94.6" r="0.85" fill="#b11a26"/><circle cx="107.9" cy="83.4" r="0.85" fill="#b11a26"/><circle cx="105.6" cy="89.4" r="0.85" fill="#b11a26"/><circle cx="101.7" cy="95.0" r="0.85" fill="#b11a26"/><circle cx="102.1" cy="91.2" r="0.85" fill="#b11a26"/><circle cx="101.3" cy="97.0" r="0.85" fill="#b11a26"/><circle cx="101.5" cy="85.3" r="0.85" fill="#b11a26"/><circle cx="104.1" cy="95.5" r="0.85" fill="#b11a26"/><circle cx="101.5" cy="98.2" r="0.85" fill="#b11a26"/><circle cx="103.1" cy="100.4" r="0.85" fill="#b11a26"/><circle cx="104.0" cy="94.8" r="0.85" fill="#b11a26"/><circle cx="102.1" cy="99.1" r="0.85" fill="#b11a26"/><circle cx="101.6" cy="87.4" r="0.85" fill="#b11a26"/><circle cx="103.7" cy="95.3" r="0.85" fill="#b11a26"/><circle cx="102.4" cy="90.8" r="0.85" fill="#b11a26"/><circle cx="105.0" cy="94.0" r="0.85" fill="#b11a26"/><circle cx="106.5" cy="100.5" r="0.85" fill="#b11a26"/><circle cx="108.1" cy="91.9" r="0.85" fill="#b11a26"/><circle cx="101.3" cy="98.7" r="0.85" fill="#b11a26"/><circle cx="102.9" cy="91.8" r="0.85" fill="#b11a26"/><circle cx="101.1" cy="88.1" r="0.85" fill="#b11a26"/><circle cx="108.2" cy="99.0" r="0.85" fill="#b11a26"/><circle cx="100.8" cy="90.8" r="0.85" fill="#b11a26"/><circle cx="101.4" cy="98.5" r="0.85" fill="#b11a26"/><circle cx="108.3" cy="91.0" r="0.85" fill="#b11a26"/><circle cx="106.1" cy="99.2" r="0.85" fill="#b11a26"/><circle cx="102.6" cy="93.3" r="0.85" fill="#b11a26"/><circle cx="101.4" cy="96.7" r="0.85" fill="#b11a26"/><circle cx="105.2" cy="86.1" r="0.85" fill="#b11a26"/><circle cx="103.0" cy="86.4" r="0.85" fill="#b11a26"/><circle cx="104.6" cy="90.1" r="0.85" fill="#b11a26"/><circle cx="102.8" cy="82.8" r="0.85" fill="#b11a26"/><circle cx="104.1" cy="95.0" r="0.85" fill="#b11a26"/><circle cx="100.7" cy="95.6" r="0.85" fill="#b11a26"/><circle cx="100.8" cy="91.1" r="0.85" fill="#b11a26"/><circle cx="103.5" cy="84.4" r="0.85" fill="#b11a26"/><circle cx="112.3" cy="88.3" r="0.85" fill="#b11a26"/><circle cx="100.7" cy="88.0" r="0.85" fill="#b11a26"/><circle cx="114.8" cy="74.4" r="0.85" fill="#b11a26"/><circle cx="111.4" cy="67.6" r="0.85" fill="#b11a26"/><circle cx="104.2" cy="68.2" r="0.85" fill="#b11a26"/><circle cx="101.9" cy="90.7" r="0.85" fill="#b11a26"/><circle cx="102.8" cy="80.3" r="0.85" fill="#b11a26"/><circle cx="105.1" cy="85.8" r="0.85" fill="#b11a26"/><circle cx="108.7" cy="89.8" r="0.85" fill="#b11a26"/><circle cx="100.7" cy="73.6" r="0.85" fill="#b11a26"/><circle cx="102.3" cy="78.7" r="0.85" fill="#b11a26"/><circle cx="105.7" cy="85.2" r="0.85" fill="#b11a26"/><circle cx="102.4" cy="72.8" r="0.85" fill="#b11a26"/><circle cx="105.7" cy="68.6" r="0.85" fill="#b11a26"/><circle cx="103.3" cy="81.6" r="0.85" fill="#b11a26"/><circle cx="107.9" cy="71.7" r="0.85" fill="#b11a26"/><circle cx="110.2" cy="96.2" r="0.85" fill="#b11a26"/><circle cx="101.8" cy="81.1" r="0.85" fill="#b11a26"/><circle cx="110.2" cy="72.1" r="0.85" fill="#b11a26"/><circle cx="104.1" cy="84.4" r="0.85" fill="#b11a26"/><circle cx="104.0" cy="68.3" r="0.85" fill="#b11a26"/><circle cx="104.9" cy="87.7" r="0.85" fill="#b11a26"/><circle cx="109.6" cy="77.0" r="0.85" fill="#b11a26"/><circle cx="102.5" cy="79.2" r="0.85" fill="#b11a26"/><circle cx="108.8" cy="78.1" r="0.85" fill="#b11a26"/><circle cx="111.7" cy="70.7" r="0.85" fill="#b11a26"/><circle cx="108.3" cy="66.2" r="0.85" fill="#b11a26"/><circle cx="109.4" cy="92.3" r="0.85" fill="#b11a26"/><circle cx="101.7" cy="85.5" r="0.85" fill="#b11a26"/><circle cx="108.9" cy="94.5" r="0.85" fill="#b11a26"/><circle cx="108.4" cy="75.2" r="0.85" fill="#b11a26"/><circle cx="106.2" cy="83.2" r="0.85" fill="#b11a26"/><circle cx="108.2" cy="95.4" r="0.85" fill="#b11a26"/><circle cx="113.1" cy="70.5" r="0.85" fill="#b11a26"/><circle cx="113.7" cy="84.3" r="0.85" fill="#b11a26"/><circle cx="104.2" cy="95.3" r="0.85" fill="#b11a26"/><circle cx="108.0" cy="83.0" r="0.85" fill="#b11a26"/><circle cx="105.3" cy="69.6" r="0.85" fill="#b11a26"/><circle cx="103.9" cy="93.8" r="0.85" fill="#b11a26"/><circle cx="101.3" cy="76.0" r="0.85" fill="#b11a26"/><circle cx="102.6" cy="80.9" r="0.85" fill="#b11a26"/><circle cx="109.2" cy="93.7" r="0.85" fill="#b11a26"/><circle cx="100.8" cy="76.8" r="0.85" fill="#b11a26"/><circle cx="120.9" cy="85.8" r="0.85" fill="#b11a26"/><circle cx="104.7" cy="80.8" r="0.85" fill="#b11a26"/><circle cx="105.0" cy="84.9" r="0.85" fill="#b11a26"/><circle cx="108.3" cy="90.4" r="0.85" fill="#b11a26"/><circle cx="101.2" cy="78.0" r="0.85" fill="#b11a26"/><circle cx="109.2" cy="77.2" r="0.85" fill="#b11a26"/><circle cx="110.2" cy="74.6" r="0.85" fill="#b11a26"/><circle cx="106.4" cy="76.3" r="0.85" fill="#b11a26"/><circle cx="102.9" cy="87.4" r="0.85" fill="#b11a26"/><circle cx="105.4" cy="66.7" r="0.85" fill="#b11a26"/><circle cx="101.7" cy="91.0" r="0.85" fill="#b11a26"/><circle cx="103.6" cy="70.6" r="0.85" fill="#b11a26"/><circle cx="101.0" cy="74.2" r="0.85" fill="#b11a26"/><circle cx="103.7" cy="88.7" r="0.85" fill="#b11a26"/><circle cx="104.3" cy="95.4" r="0.85" fill="#b11a26"/><circle cx="107.0" cy="28.0" r="0.85" fill="#b11a26"/><circle cx="110.0" cy="36.0" r="0.85" fill="#b11a26"/><circle cx="104.0" cy="50.0" r="0.85" fill="#b11a26"/><circle cx="111.0" cy="58.0" r="0.85" fill="#b11a26"/><circle cx="124.0" cy="70.0" r="0.85" fill="#b11a26"/><circle cx="131.0" cy="74.0" r="0.85" fill="#b11a26"/><circle cx="126.0" cy="80.0" r="0.85" fill="#b11a26"/><circle cx="118.0" cy="84.0" r="0.85" fill="#b11a26"/><circle cx="133.0" cy="72.0" r="0.85" fill="#b11a26"/><circle cx="138.0" cy="76.0" r="0.85" fill="#b11a26"/><circle cx="102.0" cy="70.0" r="0.85" fill="#b11a26"/><circle cx="105.0" cy="66.0" r="0.85" fill="#b11a26"/><rect x="109.6" y="20.8" width="12.8" height="4.6" fill="#b32434" rx="0.4"/><text x="116.00" y="24.40" font-size="3.9" text-anchor="middle" fill="#fff" font-weight="normal" stroke="#fff" stroke-width="0.08" textLength="10.50" lengthAdjust="spacingAndGlyphs">EYDX</text><rect x="103.5" y="30" width="17.3" height="4.6" fill="#b32434" rx="0.4"/><text x="112.15" y="33.60" font-size="3.9" text-anchor="middle" fill="#fff" font-weight="normal" stroke="#fff" stroke-width="0.08" textLength="14.19" lengthAdjust="spacingAndGlyphs">TAX1BP1</text><rect x="99.6" y="43.6" width="10.4" height="4.8" fill="#b32434" rx="0.4"/><text x="104.80" y="47.40" font-size="3.9" text-anchor="middle" fill="#fff" font-weight="normal" stroke="#fff" stroke-width="0.08" textLength="8.53" lengthAdjust="spacingAndGlyphs">LIGM</text><rect x="113" y="41.2" width="21.7" height="4.7" fill="#b32434" rx="0.4"/><text x="123.85" y="44.90" font-size="3.9" text-anchor="middle" fill="#fff" font-weight="normal" stroke="#fff" stroke-width="0.08" textLength="17.79" lengthAdjust="spacingAndGlyphs">LOC400933</text><rect x="117.3" y="49.2" width="10.3" height="4.6" fill="#b32434" rx="0.4"/><text x="122.45" y="52.80" font-size="3.9" text-anchor="middle" fill="#fff" font-weight="normal" stroke="#fff" stroke-width="0.08" textLength="8.45" lengthAdjust="spacingAndGlyphs">SKIL</text><rect x="102" y="57.4" width="16.4" height="4.6" fill="#b32434" rx="0.4"/><text x="110.20" y="61.00" font-size="3.9" text-anchor="middle" fill="#fff" font-weight="normal" stroke="#fff" stroke-width="0.08" textLength="13.45" lengthAdjust="spacingAndGlyphs">CARTAS</text><rect x="122" y="60.6" width="13.8" height="4.6" fill="#b32434" rx="0.4"/><text x="128.90" y="64.20" font-size="3.9" text-anchor="middle" fill="#fff" font-weight="normal" stroke="#fff" stroke-width="0.08" textLength="11.32" lengthAdjust="spacingAndGlyphs">RGS18</text><rect x="133" y="52.2" width="11.2" height="4.7" fill="#b32434" rx="0.4"/><text x="138.60" y="55.90" font-size="3.9" text-anchor="middle" fill="#fff" font-weight="normal" stroke="#fff" stroke-width="0.08" textLength="9.18" lengthAdjust="spacingAndGlyphs">GDS2</text><line x1="104" y1="58" x2="104" y2="56" stroke="#333" stroke-width="0.4"/><circle cx="112.5" cy="27.2" r="0.7" fill="#222"/><circle cx="102.3" cy="36.6" r="0.7" fill="#222"/><circle cx="104.2" cy="54.6" r="0.7" fill="#222"/><circle cx="108.0" cy="63.6" r="0.7" fill="#222"/><circle cx="139.0" cy="51.0" r="0.7" fill="#222"/><circle cx="101.0" cy="49.2" r="0.7" fill="#222"/><circle cx="123.0" cy="47.0" r="0.7" fill="#222"/><circle cx="125.0" cy="67.0" r="0.7" fill="#222"/><line x1="105" y1="53" x2="118" y2="51.5" stroke="#333" stroke-width="0.4"/><rect x="15.3" y="48.5" width="14.2" height="3.9" fill="#5b8fe0" rx="0.4"/><text x="22.40" y="51.40" font-size="3.9" text-anchor="middle" fill="#fff" font-weight="normal" stroke="#fff" stroke-width="0.08" textLength="11.64" lengthAdjust="spacingAndGlyphs">PRRG3</text><rect x="37.2" y="55" width="14.3" height="4.7" fill="#5b8fe0" rx="0.4"/><text x="44.35" y="58.70" font-size="3.9" text-anchor="middle" fill="#fff" font-weight="normal" stroke="#fff" stroke-width="0.08" textLength="11.73" lengthAdjust="spacingAndGlyphs">KCNN4</text><circle cx="143" cy="94.7" r="2.3" fill="#5b8bd8"/><text x="147.30" y="96.80" font-size="5.8" text-anchor="start" fill="#222" font-weight="normal" stroke="#222" stroke-width="0.15">Down</text><circle cx="143" cy="103.8" r="2.3" fill="#bdbdbd"/><text x="147.30" y="105.90" font-size="5.8" text-anchor="start" fill="#222" font-weight="normal" stroke="#222" stroke-width="0.15">Not Sig</text><circle cx="143" cy="113.3" r="2.3" fill="#b11a26"/><text x="147.30" y="115.40" font-size="5.8" text-anchor="start" fill="#222" font-weight="normal" stroke="#222" stroke-width="0.15">Up</text>
<text x="230.60" y="5.90" font-size="7.2" text-anchor="start" fill="#111" font-weight="bold" stroke="#111" stroke-width="0.15">B</text><line x1="266.51153846153846" y1="12.5" x2="273.13461538461536" y2="12.5" stroke="#444" stroke-width="0.5"/><line x1="266.51153846153846" y1="12.5" x2="266.51153846153846" y2="24.9" stroke="#444" stroke-width="0.5"/><line x1="273.13461538461536" y1="12.5" x2="273.13461538461536" y2="24.9" stroke="#444" stroke-width="0.5"/><line x1="279.7576923076923" y1="12.5" x2="286.3807692307692" y2="12.5" stroke="#444" stroke-width="0.5"/><line x1="279.7576923076923" y1="12.5" x2="279.7576923076923" y2="24.9" stroke="#444" stroke-width="0.5"/><line x1="286.3807692307692" y1="12.5" x2="286.3807692307692" y2="24.9" stroke="#444" stroke-width="0.5"/><line x1="293.00384615384615" y1="12.5" x2="299.62692307692305" y2="12.5" stroke="#444" stroke-width="0.5"/><line x1="293.00384615384615" y1="12.5" x2="293.00384615384615" y2="24.9" stroke="#444" stroke-width="0.5"/><line x1="299.62692307692305" y1="12.5" x2="299.62692307692305" y2="24.9" stroke="#444" stroke-width="0.5"/><line x1="283.0692307692308" y1="10.1" x2="296.3153846153846" y2="10.1" stroke="#444" stroke-width="0.5"/><line x1="283.0692307692308" y1="10.1" x2="283.0692307692308" y2="12.5" stroke="#444" stroke-width="0.5"/><line x1="296.3153846153846" y1="10.1" x2="296.3153846153846" y2="12.5" stroke="#444" stroke-width="0.5"/><line x1="269.8230769230769" y1="8.8" x2="289.6923076923077" y2="8.8" stroke="#444" stroke-width="0.5"/><line x1="269.8230769230769" y1="8.8" x2="269.8230769230769" y2="12.5" stroke="#444" stroke-width="0.5"/><line x1="289.6923076923077" y1="8.8" x2="289.6923076923077" y2="10.1" stroke="#444" stroke-width="0.5"/><line x1="312.87307692307695" y1="14.2" x2="319.49615384615385" y2="14.2" stroke="#444" stroke-width="0.5"/><line x1="312.87307692307695" y1="14.2" x2="312.87307692307695" y2="24.9" stroke="#444" stroke-width="0.5"/><line x1="319.49615384615385" y1="14.2" x2="319.49615384615385" y2="24.9" stroke="#444" stroke-width="0.5"/><line x1="306.25" y1="11.5" x2="316.1846153846154" y2="11.5" stroke="#444" stroke-width="0.5"/><line x1="306.25" y1="11.5" x2="306.25" y2="24.9" stroke="#444" stroke-width="0.5"/><line x1="316.1846153846154" y1="11.5" x2="316.1846153846154" y2="14.2" stroke="#444" stroke-width="0.5"/><line x1="339.36538461538464" y1="16.4" x2="345.98846153846154" y2="16.4" stroke="#444" stroke-width="0.5"/><line x1="339.36538461538464" y1="16.4" x2="339.36538461538464" y2="24.9" stroke="#444" stroke-width="0.5"/><line x1="345.98846153846154" y1="16.4" x2="345.98846153846154" y2="24.9" stroke="#444" stroke-width="0.5"/><line x1="332.7423076923077" y1="13.5" x2="342.6769230769231" y2="13.5" stroke="#444" stroke-width="0.5"/><line x1="332.7423076923077" y1="13.5" x2="332.7423076923077" y2="24.9" stroke="#444" stroke-width="0.5"/><line x1="342.6769230769231" y1="13.5" x2="342.6769230769231" y2="16.4" stroke="#444" stroke-width="0.5"/><line x1="326.11923076923074" y1="10.1" x2="337.7096153846154" y2="10.1" stroke="#444" stroke-width="0.5"/><line x1="326.11923076923074" y1="10.1" x2="326.11923076923074" y2="24.9" stroke="#444" stroke-width="0.5"/><line x1="337.7096153846154" y1="10.1" x2="337.7096153846154" y2="13.5" stroke="#444" stroke-width="0.5"/><line x1="311.2173076923077" y1="7.4" x2="331.9144230769231" y2="7.4" stroke="#444" stroke-width="0.5"/><line x1="311.2173076923077" y1="7.4" x2="311.2173076923077" y2="11.5" stroke="#444" stroke-width="0.5"/><line x1="331.9144230769231" y1="7.4" x2="331.9144230769231" y2="10.1" stroke="#444" stroke-width="0.5"/><line x1="279.7576923076923" y1="1.3" x2="321.5658653846154" y2="1.3" stroke="#444" stroke-width="0.5"/><line x1="279.7576923076923" y1="1.3" x2="279.7576923076923" y2="8.8" stroke="#444" stroke-width="0.5"/><line x1="321.5658653846154" y1="1.3" x2="321.5658653846154" y2="7.4" stroke="#444" stroke-width="0.5"/><rect x="263.2" y="24.9" width="39.74" height="4.2" fill="#cbbde0"/><rect x="302.94" y="24.9" width="46.36" height="4.2" fill="#f7c796"/><line x1="231.4" y1="38.2" x2="231.4" y2="65.4" stroke="#555" stroke-width="0.55"/><line x1="231.4" y1="38.2" x2="246.3" y2="38.2" stroke="#555" stroke-width="0.55"/><line x1="231.4" y1="65.4" x2="240.2" y2="65.4" stroke="#555" stroke-width="0.55"/><line x1="240.2" y1="51.5" x2="240.2" y2="80.7" stroke="#555" stroke-width="0.55"/><line x1="240.2" y1="51.5" x2="251.4" y2="51.5" stroke="#555" stroke-width="0.55"/><line x1="240.2" y1="80.7" x2="245.8" y2="80.7" stroke="#555" stroke-width="0.55"/><line x1="245.8" y1="64.6" x2="245.8" y2="98" stroke="#555" stroke-width="0.55"/><line x1="245.8" y1="64.6" x2="250.5" y2="64.6" stroke="#555" stroke-width="0.55"/><line x1="245.8" y1="98" x2="249.5" y2="98" stroke="#555" stroke-width="0.55"/><line x1="251.29498415286966" y1="31.5" x2="256.3" y2="31.5" stroke="#222" stroke-width="0.5"/><line x1="254.6320230488233" y1="32.5" x2="256.3" y2="32.5" stroke="#222" stroke-width="0.5"/><line x1="254.6320230488233" y1="33.5" x2="256.3" y2="33.5" stroke="#222" stroke-width="0.5"/><line x1="254.6320230488233" y1="32.5" x2="254.6320230488233" y2="33.5" stroke="#222" stroke-width="0.5"/><line x1="253.72507131895088" y1="34.5" x2="256.3" y2="34.5" stroke="#222" stroke-width="0.5"/><line x1="253.72507131895088" y1="33.0" x2="254.6320230488233" y2="33.0" stroke="#222" stroke-width="0.5"/><line x1="253.72507131895088" y1="33.0" x2="253.72507131895088" y2="34.5" stroke="#222" stroke-width="0.5"/><line x1="251.29498415286966" y1="33.75" x2="253.72507131895088" y2="33.75" stroke="#222" stroke-width="0.5"/><line x1="251.29498415286966" y1="31.5" x2="251.29498415286966" y2="33.75" stroke="#222" stroke-width="0.5"/><line x1="254.35123135673413" y1="35.5" x2="256.3" y2="35.5" stroke="#222" stroke-width="0.5"/><line x1="254.35123135673413" y1="36.5" x2="256.3" y2="36.5" stroke="#222" stroke-width="0.5"/><line x1="254.35123135673413" y1="35.5" x2="254.35123135673413" y2="36.5" stroke="#222" stroke-width="0.5"/><line x1="254.48436601901105" y1="37.5" x2="256.3" y2="37.5" stroke="#222" stroke-width="0.5"/><line x1="254.48436601901105" y1="38.5" x2="256.3" y2="38.5" stroke="#222" stroke-width="0.5"/><line x1="254.48436601901105" y1="37.5" x2="254.48436601901105" y2="38.5" stroke="#222" stroke-width="0.5"/><line x1="254.06675290780416" y1="39.5" x2="256.3" y2="39.5" stroke="#222" stroke-width="0.5"/><line x1="254.06675290780416" y1="38.0" x2="254.48436601901105" y2="38.0" stroke="#222" stroke-width="0.5"/><line x1="254.06675290780416" y1="38.0" x2="254.06675290780416" y2="39.5" stroke="#222" stroke-width="0.5"/><line x1="252.3205140004524" y1="36.0" x2="254.35123135673413" y2="36.0" stroke="#222" stroke-width="0.5"/><line x1="252.3205140004524" y1="38.75" x2="254.06675290780416" y2="38.75" stroke="#222" stroke-width="0.5"/><line x1="252.3205140004524" y1="36.0" x2="252.3205140004524" y2="38.75" stroke="#222" stroke-width="0.5"/><line x1="248.35316498083068" y1="32.625" x2="251.29498415286966" y2="32.625" stroke="#222" stroke-width="0.5"/><line x1="248.35316498083068" y1="37.375" x2="252.3205140004524" y2="37.375" stroke="#222" stroke-width="0.5"/><line x1="248.35316498083068" y1="32.625" x2="248.35316498083068" y2="37.375" stroke="#222" stroke-width="0.5"/><line x1="247.9283140857316" y1="40.5" x2="256.3" y2="40.5" stroke="#222" stroke-width="0.5"/><line x1="247.9283140857316" y1="35.0" x2="248.35316498083068" y2="35.0" stroke="#222" stroke-width="0.5"/><line x1="247.9283140857316" y1="35.0" x2="247.9283140857316" y2="40.5" stroke="#222" stroke-width="0.5"/><line x1="252.26238074923256" y1="41.5" x2="256.3" y2="41.5" stroke="#222" stroke-width="0.5"/><line x1="252.26238074923256" y1="42.5" x2="256.3" y2="42.5" stroke="#222" stroke-width="0.5"/><line x1="252.26238074923256" y1="41.5" x2="252.26238074923256" y2="42.5" stroke="#222" stroke-width="0.5"/><line x1="249.92437931631318" y1="43.5" x2="256.3" y2="43.5" stroke="#222" stroke-width="0.5"/><line x1="253.33014511609835" y1="44.5" x2="256.3" y2="44.5" stroke="#222" stroke-width="0.5"/><line x1="254.82187831017873" y1="45.5" x2="256.3" y2="45.5" stroke="#222" stroke-width="0.5"/><line x1="254.82187831017873" y1="46.5" x2="256.3" y2="46.5" stroke="#222" stroke-width="0.5"/><line x1="254.82187831017873" y1="45.5" x2="254.82187831017873" y2="46.5" stroke="#222" stroke-width="0.5"/><line x1="253.33014511609835" y1="46.0" x2="254.82187831017873" y2="46.0" stroke="#222" stroke-width="0.5"/><line x1="253.33014511609835" y1="44.5" x2="253.33014511609835" y2="46.0" stroke="#222" stroke-width="0.5"/><line x1="249.92437931631318" y1="45.25" x2="253.33014511609835" y2="45.25" stroke="#222" stroke-width="0.5"/><line x1="249.92437931631318" y1="43.5" x2="249.92437931631318" y2="45.25" stroke="#222" stroke-width="0.5"/><line x1="248.46438466113068" y1="42.0" x2="252.26238074923256" y2="42.0" stroke="#222" stroke-width="0.5"/><line x1="248.46438466113068" y1="44.375" x2="249.92437931631318" y2="44.375" stroke="#222" stroke-width="0.5"/><line x1="248.46438466113068" y1="42.0" x2="248.46438466113068" y2="44.375" stroke="#222" stroke-width="0.5"/><line x1="246.3" y1="37.75" x2="247.9283140857316" y2="37.75" stroke="#222" stroke-width="0.5"/><line x1="246.3" y1="43.1875" x2="248.46438466113068" y2="43.1875" stroke="#222" stroke-width="0.5"/><line x1="246.3" y1="37.75" x2="246.3" y2="43.1875" stroke="#222" stroke-width="0.5"/><line x1="246.3" y1="38.2" x2="246.3" y2="40.46875" stroke="#555" stroke-width="0.5"/><line x1="252.3318295937852" y1="47.5" x2="256.3" y2="47.5" stroke="#222" stroke-width="0.5"/><line x1="253.9640255089328" y1="48.5" x2="256.3" y2="48.5" stroke="#222" stroke-width="0.5"/><line x1="253.9640255089328" y1="49.5" x2="256.3" y2="49.5" stroke="#222" stroke-width="0.5"/><line x1="253.9640255089328" y1="48.5" x2="253.9640255089328" y2="49.5" stroke="#222" stroke-width="0.5"/><line x1="252.3318295937852" y1="49.0" x2="253.9640255089328" y2="49.0" stroke="#222" stroke-width="0.5"/><line x1="252.3318295937852" y1="47.5" x2="252.3318295937852" y2="49.0" stroke="#222" stroke-width="0.5"/><line x1="255.00657177044386" y1="50.5" x2="256.3" y2="50.5" stroke="#222" stroke-width="0.5"/><line x1="255.00657177044386" y1="51.5" x2="256.3" y2="51.5" stroke="#222" stroke-width="0.5"/><line x1="255.00657177044386" y1="50.5" x2="255.00657177044386" y2="51.5" stroke="#222" stroke-width="0.5"/><line x1="254.39702394563383" y1="52.5" x2="256.3" y2="52.5" stroke="#222" stroke-width="0.5"/><line x1="254.39702394563383" y1="53.5" x2="256.3" y2="53.5" stroke="#222" stroke-width="0.5"/><line x1="254.39702394563383" y1="52.5" x2="254.39702394563383" y2="53.5" stroke="#222" stroke-width="0.5"/><line x1="254.04337797017348" y1="51.0" x2="255.00657177044386" y2="51.0" stroke="#222" stroke-width="0.5"/><line x1="254.04337797017348" y1="53.0" x2="254.39702394563383" y2="53.0" stroke="#222" stroke-width="0.5"/><line x1="254.04337797017348" y1="51.0" x2="254.04337797017348" y2="53.0" stroke="#222" stroke-width="0.5"/><line x1="253.12606491226703" y1="54.5" x2="256.3" y2="54.5" stroke="#222" stroke-width="0.5"/><line x1="253.12606491226703" y1="55.5" x2="256.3" y2="55.5" stroke="#222" stroke-width="0.5"/><line x1="253.12606491226703" y1="54.5" x2="253.12606491226703" y2="55.5" stroke="#222" stroke-width="0.5"/><line x1="252.49479149689344" y1="52.0" x2="254.04337797017348" y2="52.0" stroke="#222" stroke-width="0.5"/><line x1="252.49479149689344" y1="55.0" x2="253.12606491226703" y2="55.0" stroke="#222" stroke-width="0.5"/><line x1="252.49479149689344" y1="52.0" x2="252.49479149689344" y2="55.0" stroke="#222" stroke-width="0.5"/><line x1="251.4" y1="48.25" x2="252.3318295937852" y2="48.25" stroke="#222" stroke-width="0.5"/><line x1="251.4" y1="53.5" x2="252.49479149689344" y2="53.5" stroke="#222" stroke-width="0.5"/><line x1="251.4" y1="48.25" x2="251.4" y2="53.5" stroke="#222" stroke-width="0.5"/><line x1="251.4" y1="50.875" x2="251.4" y2="51.5" stroke="#555" stroke-width="0.5"/><line x1="252.64681450596606" y1="56.5" x2="256.3" y2="56.5" stroke="#222" stroke-width="0.5"/><line x1="252.64681450596606" y1="57.5" x2="256.3" y2="57.5" stroke="#222" stroke-width="0.5"/><line x1="252.64681450596606" y1="56.5" x2="252.64681450596606" y2="57.5" stroke="#222" stroke-width="0.5"/><line x1="252.67088780127713" y1="58.5" x2="256.3" y2="58.5" stroke="#222" stroke-width="0.5"/><line x1="252.67088780127713" y1="59.5" x2="256.3" y2="59.5" stroke="#222" stroke-width="0.5"/><line x1="252.67088780127713" y1="58.5" x2="252.67088780127713" y2="59.5" stroke="#222" stroke-width="0.5"/><line x1="251.55053240637002" y1="57.0" x2="252.64681450596606" y2="57.0" stroke="#222" stroke-width="0.5"/><line x1="251.55053240637002" y1="59.0" x2="252.67088780127713" y2="59.0" stroke="#222" stroke-width="0.5"/><line x1="251.55053240637002" y1="57.0" x2="251.55053240637002" y2="59.0" stroke="#222" stroke-width="0.5"/><line x1="252.63078561178688" y1="60.5" x2="256.3" y2="60.5" stroke="#222" stroke-width="0.5"/><line x1="252.63078561178688" y1="61.5" x2="256.3" y2="61.5" stroke="#222" stroke-width="0.5"/><line x1="252.63078561178688" y1="60.5" x2="252.63078561178688" y2="61.5" stroke="#222" stroke-width="0.5"/><line x1="254.00377441700732" y1="62.5" x2="256.3" y2="62.5" stroke="#222" stroke-width="0.5"/><line x1="254.00377441700732" y1="63.5" x2="256.3" y2="63.5" stroke="#222" stroke-width="0.5"/><line x1="254.00377441700732" y1="62.5" x2="254.00377441700732" y2="63.5" stroke="#222" stroke-width="0.5"/><line x1="255.58138528932787" y1="64.5" x2="256.3" y2="64.5" stroke="#222" stroke-width="0.5"/><line x1="255.58138528932787" y1="65.5" x2="256.3" y2="65.5" stroke="#222" stroke-width="0.5"/><line x1="255.58138528932787" y1="64.5" x2="255.58138528932787" y2="65.5" stroke="#222" stroke-width="0.5"/><line x1="255.80982602848655" y1="66.5" x2="256.3" y2="66.5" stroke="#222" stroke-width="0.5"/><line x1="255.80982602848655" y1="67.5" x2="256.3" y2="67.5" stroke="#222" stroke-width="0.5"/><line x1="255.80982602848655" y1="66.5" x2="255.80982602848655" y2="67.5" stroke="#222" stroke-width="0.5"/><line x1="255.71838363160413" y1="68.5" x2="256.3" y2="68.5" stroke="#222" stroke-width="0.5"/><line x1="255.71838363160413" y1="69.5" x2="256.3" y2="69.5" stroke="#222" stroke-width="0.5"/><line x1="255.71838363160413" y1="68.5" x2="255.71838363160413" y2="69.5" stroke="#222" stroke-width="0.5"/><line x1="255.30596136970348" y1="67.0" x2="255.80982602848655" y2="67.0" stroke="#222" stroke-width="0.5"/><line x1="255.30596136970348" y1="69.0" x2="255.71838363160413" y2="69.0" stroke="#222" stroke-width="0.5"/><line x1="255.30596136970348" y1="67.0" x2="255.30596136970348" y2="69.0" stroke="#222" stroke-width="0.5"/><line x1="254.9710757944449" y1="65.0" x2="255.58138528932787" y2="65.0" stroke="#222" stroke-width="0.5"/><line x1="254.9710757944449" y1="68.0" x2="255.30596136970348" y2="68.0" stroke="#222" stroke-width="0.5"/><line x1="254.9710757944449" y1="65.0" x2="254.9710757944449" y2="68.0" stroke="#222" stroke-width="0.5"/><line x1="254.00969849276552" y1="70.5" x2="256.3" y2="70.5" stroke="#222" stroke-width="0.5"/><line x1="254.00969849276552" y1="66.5" x2="254.9710757944449" y2="66.5" stroke="#222" stroke-width="0.5"/><line x1="254.00969849276552" y1="66.5" x2="254.00969849276552" y2="70.5" stroke="#222" stroke-width="0.5"/><line x1="253.27822431734603" y1="63.0" x2="254.00377441700732" y2="63.0" stroke="#222" stroke-width="0.5"/><line x1="253.27822431734603" y1="68.5" x2="254.00969849276552" y2="68.5" stroke="#222" stroke-width="0.5"/><line x1="253.27822431734603" y1="63.0" x2="253.27822431734603" y2="68.5" stroke="#222" stroke-width="0.5"/><line x1="251.88735033356477" y1="61.0" x2="252.63078561178688" y2="61.0" stroke="#222" stroke-width="0.5"/><line x1="251.88735033356477" y1="65.75" x2="253.27822431734603" y2="65.75" stroke="#222" stroke-width="0.5"/><line x1="251.88735033356477" y1="61.0" x2="251.88735033356477" y2="65.75" stroke="#222" stroke-width="0.5"/><line x1="250.93504137303995" y1="58.0" x2="251.55053240637002" y2="58.0" stroke="#222" stroke-width="0.5"/><line x1="250.93504137303995" y1="63.375" x2="251.88735033356477" y2="63.375" stroke="#222" stroke-width="0.5"/><line x1="250.93504137303995" y1="58.0" x2="250.93504137303995" y2="63.375" stroke="#222" stroke-width="0.5"/><line x1="251.94111680957093" y1="71.5" x2="256.3" y2="71.5" stroke="#222" stroke-width="0.5"/><line x1="253.89387681387618" y1="72.5" x2="256.3" y2="72.5" stroke="#222" stroke-width="0.5"/><line x1="254.57559055785012" y1="73.5" x2="256.3" y2="73.5" stroke="#222" stroke-width="0.5"/><line x1="254.57559055785012" y1="74.5" x2="256.3" y2="74.5" stroke="#222" stroke-width="0.5"/><line x1="254.57559055785012" y1="73.5" x2="254.57559055785012" y2="74.5" stroke="#222" stroke-width="0.5"/><line x1="253.89387681387618" y1="74.0" x2="254.57559055785012" y2="74.0" stroke="#222" stroke-width="0.5"/><line x1="253.89387681387618" y1="72.5" x2="253.89387681387618" y2="74.0" stroke="#222" stroke-width="0.5"/><line x1="251.94111680957093" y1="73.25" x2="253.89387681387618" y2="73.25" stroke="#222" stroke-width="0.5"/><line x1="251.94111680957093" y1="71.5" x2="251.94111680957093" y2="73.25" stroke="#222" stroke-width="0.5"/><line x1="254.89706854531002" y1="75.5" x2="256.3" y2="75.5" stroke="#222" stroke-width="0.5"/><line x1="255.84113351775213" y1="76.5" x2="256.3" y2="76.5" stroke="#222" stroke-width="0.5"/><line x1="255.84113351775213" y1="77.5" x2="256.3" y2="77.5" stroke="#222" stroke-width="0.5"/><line x1="255.84113351775213" y1="76.5" x2="255.84113351775213" y2="77.5" stroke="#222" stroke-width="0.5"/><line x1="255.41096358297935" y1="78.5" x2="256.3" y2="78.5" stroke="#222" stroke-width="0.5"/><line x1="255.41096358297935" y1="77.0" x2="255.84113351775213" y2="77.0" stroke="#222" stroke-width="0.5"/><line x1="255.41096358297935" y1="77.0" x2="255.41096358297935" y2="78.5" stroke="#222" stroke-width="0.5"/><line x1="254.89706854531002" y1="77.75" x2="255.41096358297935" y2="77.75" stroke="#222" stroke-width="0.5"/><line x1="254.89706854531002" y1="75.5" x2="254.89706854531002" y2="77.75" stroke="#222" stroke-width="0.5"/><line x1="253.4062370190578" y1="79.5" x2="256.3" y2="79.5" stroke="#222" stroke-width="0.5"/><line x1="253.4062370190578" y1="76.625" x2="254.89706854531002" y2="76.625" stroke="#222" stroke-width="0.5"/><line x1="253.4062370190578" y1="76.625" x2="253.4062370190578" y2="79.5" stroke="#222" stroke-width="0.5"/><line x1="251.32285732017854" y1="72.375" x2="251.94111680957093" y2="72.375" stroke="#222" stroke-width="0.5"/><line x1="251.32285732017854" y1="78.0625" x2="253.4062370190578" y2="78.0625" stroke="#222" stroke-width="0.5"/><line x1="251.32285732017854" y1="72.375" x2="251.32285732017854" y2="78.0625" stroke="#222" stroke-width="0.5"/><line x1="250.5" y1="60.6875" x2="250.93504137303995" y2="60.6875" stroke="#222" stroke-width="0.5"/><line x1="250.5" y1="75.21875" x2="251.32285732017854" y2="75.21875" stroke="#222" stroke-width="0.5"/><line x1="250.5" y1="60.6875" x2="250.5" y2="75.21875" stroke="#222" stroke-width="0.5"/><line x1="250.5" y1="64.6" x2="250.5" y2="67.953125" stroke="#555" stroke-width="0.5"/><line x1="252.4069968005137" y1="80.5" x2="256.3" y2="80.5" stroke="#222" stroke-width="0.5"/><line x1="252.4069968005137" y1="81.5" x2="256.3" y2="81.5" stroke="#222" stroke-width="0.5"/><line x1="252.4069968005137" y1="80.5" x2="252.4069968005137" y2="81.5" stroke="#222" stroke-width="0.5"/><line x1="252.44590989581798" y1="82.5" x2="256.3" y2="82.5" stroke="#222" stroke-width="0.5"/><line x1="252.44590989581798" y1="83.5" x2="256.3" y2="83.5" stroke="#222" stroke-width="0.5"/><line x1="252.44590989581798" y1="82.5" x2="252.44590989581798" y2="83.5" stroke="#222" stroke-width="0.5"/><line x1="252.01615083140223" y1="84.5" x2="256.3" y2="84.5" stroke="#222" stroke-width="0.5"/><line x1="252.01615083140223" y1="83.0" x2="252.44590989581798" y2="83.0" stroke="#222" stroke-width="0.5"/><line x1="252.01615083140223" y1="83.0" x2="252.01615083140223" y2="84.5" stroke="#222" stroke-width="0.5"/><line x1="250.18720760238827" y1="81.0" x2="252.4069968005137" y2="81.0" stroke="#222" stroke-width="0.5"/><line x1="250.18720760238827" y1="83.75" x2="252.01615083140223" y2="83.75" stroke="#222" stroke-width="0.5"/><line x1="250.18720760238827" y1="81.0" x2="250.18720760238827" y2="83.75" stroke="#222" stroke-width="0.5"/><line x1="256.0328969437928" y1="85.5" x2="256.3" y2="85.5" stroke="#222" stroke-width="0.5"/><line x1="256.0328969437928" y1="86.5" x2="256.3" y2="86.5" stroke="#222" stroke-width="0.5"/><line x1="256.0328969437928" y1="85.5" x2="256.0328969437928" y2="86.5" stroke="#222" stroke-width="0.5"/><line x1="255.7281690300119" y1="87.5" x2="256.3" y2="87.5" stroke="#222" stroke-width="0.5"/><line x1="255.7281690300119" y1="86.0" x2="256.0328969437928" y2="86.0" stroke="#222" stroke-width="0.5"/><line x1="255.7281690300119" y1="86.0" x2="255.7281690300119" y2="87.5" stroke="#222" stroke-width="0.5"/><line x1="256.1815624459484" y1="88.5" x2="256.3" y2="88.5" stroke="#222" stroke-width="0.5"/><line x1="256.1815624459484" y1="89.5" x2="256.3" y2="89.5" stroke="#222" stroke-width="0.5"/><line x1="256.1815624459484" y1="88.5" x2="256.1815624459484" y2="89.5" stroke="#222" stroke-width="0.5"/><line x1="255.91184687586332" y1="90.5" x2="256.3" y2="90.5" stroke="#222" stroke-width="0.5"/><line x1="255.91184687586332" y1="89.0" x2="256.1815624459484" y2="89.0" stroke="#222" stroke-width="0.5"/><line x1="255.91184687586332" y1="89.0" x2="255.91184687586332" y2="90.5" stroke="#222" stroke-width="0.5"/><line x1="256.22607651289786" y1="91.5" x2="256.3" y2="91.5" stroke="#222" stroke-width="0.5"/><line x1="256.2829739934005" y1="92.5" x2="256.3" y2="92.5" stroke="#222" stroke-width="0.5"/><line x1="256.2829739934005" y1="93.5" x2="256.3" y2="93.5" stroke="#222" stroke-width="0.5"/><line x1="256.2829739934005" y1="92.5" x2="256.2829739934005" y2="93.5" stroke="#222" stroke-width="0.5"/><line x1="256.22607651289786" y1="93.0" x2="256.2829739934005" y2="93.0" stroke="#222" stroke-width="0.5"/><line x1="256.22607651289786" y1="91.5" x2="256.22607651289786" y2="93.0" stroke="#222" stroke-width="0.5"/><line x1="255.9405922595109" y1="94.5" x2="256.3" y2="94.5" stroke="#222" stroke-width="0.5"/><line x1="255.9405922595109" y1="92.25" x2="256.22607651289786" y2="92.25" stroke="#222" stroke-width="0.5"/><line x1="255.9405922595109" y1="92.25" x2="255.9405922595109" y2="94.5" stroke="#222" stroke-width="0.5"/><line x1="255.5780832115362" y1="89.75" x2="255.91184687586332" y2="89.75" stroke="#222" stroke-width="0.5"/><line x1="255.5780832115362" y1="93.375" x2="255.9405922595109" y2="93.375" stroke="#222" stroke-width="0.5"/><line x1="255.5780832115362" y1="89.75" x2="255.5780832115362" y2="93.375" stroke="#222" stroke-width="0.5"/><line x1="255.27502899794493" y1="86.75" x2="255.7281690300119" y2="86.75" stroke="#222" stroke-width="0.5"/><line x1="255.27502899794493" y1="91.5625" x2="255.5780832115362" y2="91.5625" stroke="#222" stroke-width="0.5"/><line x1="255.27502899794493" y1="86.75" x2="255.27502899794493" y2="91.5625" stroke="#222" stroke-width="0.5"/><line x1="256.2635423391747" y1="95.5" x2="256.3" y2="95.5" stroke="#222" stroke-width="0.5"/><line x1="256.38883450277416" y1="96.5" x2="256.3" y2="96.5" stroke="#222" stroke-width="0.5"/><line x1="256.38883450277416" y1="97.5" x2="256.3" y2="97.5" stroke="#222" stroke-width="0.5"/><line x1="256.38883450277416" y1="96.5" x2="256.38883450277416" y2="97.5" stroke="#222" stroke-width="0.5"/><line x1="256.2635423391747" y1="97.0" x2="256.38883450277416" y2="97.0" stroke="#222" stroke-width="0.5"/><line x1="256.2635423391747" y1="95.5" x2="256.2635423391747" y2="97.0" stroke="#222" stroke-width="0.5"/><line x1="256.3954386525736" y1="98.5" x2="256.3" y2="98.5" stroke="#222" stroke-width="0.5"/><line x1="256.3954386525736" y1="99.5" x2="256.3" y2="99.5" stroke="#222" stroke-width="0.5"/><line x1="256.3954386525736" y1="98.5" x2="256.3954386525736" y2="99.5" stroke="#222" stroke-width="0.5"/><line x1="256.1006974310122" y1="96.25" x2="256.2635423391747" y2="96.25" stroke="#222" stroke-width="0.5"/><line x1="256.1006974310122" y1="99.0" x2="256.3954386525736" y2="99.0" stroke="#222" stroke-width="0.5"/><line x1="256.1006974310122" y1="96.25" x2="256.1006974310122" y2="99.0" stroke="#222" stroke-width="0.5"/><line x1="256.384729978552" y1="100.5" x2="256.3" y2="100.5" stroke="#222" stroke-width="0.5"/><line x1="256.384729978552" y1="101.5" x2="256.3" y2="101.5" stroke="#222" stroke-width="0.5"/><line x1="256.384729978552" y1="100.5" x2="256.384729978552" y2="101.5" stroke="#222" stroke-width="0.5"/><line x1="256.3698712767099" y1="102.5" x2="256.3" y2="102.5" stroke="#222" stroke-width="0.5"/><line x1="256.55104883909326" y1="103.5" x2="256.3" y2="103.5" stroke="#222" stroke-width="0.5"/><line x1="256.55104883909326" y1="104.5" x2="256.3" y2="104.5" stroke="#222" stroke-width="0.5"/><line x1="256.55104883909326" y1="103.5" x2="256.55104883909326" y2="104.5" stroke="#222" stroke-width="0.5"/><line x1="256.3698712767099" y1="104.0" x2="256.55104883909326" y2="104.0" stroke="#222" stroke-width="0.5"/><line x1="256.3698712767099" y1="102.5" x2="256.3698712767099" y2="104.0" stroke="#222" stroke-width="0.5"/><line x1="256.0948642137866" y1="101.0" x2="256.384729978552" y2="101.0" stroke="#222" stroke-width="0.5"/><line x1="256.0948642137866" y1="103.25" x2="256.3698712767099" y2="103.25" stroke="#222" stroke-width="0.5"/><line x1="256.0948642137866" y1="101.0" x2="256.0948642137866" y2="103.25" stroke="#222" stroke-width="0.5"/><line x1="255.82479791809445" y1="97.625" x2="256.1006974310122" y2="97.625" stroke="#222" stroke-width="0.5"/><line x1="255.82479791809445" y1="102.125" x2="256.0948642137866" y2="102.125" stroke="#222" stroke-width="0.5"/><line x1="255.82479791809445" y1="97.625" x2="255.82479791809445" y2="102.125" stroke="#222" stroke-width="0.5"/><line x1="255.43364643996844" y1="105.5" x2="256.3" y2="105.5" stroke="#222" stroke-width="0.5"/><line x1="255.43364643996844" y1="99.875" x2="255.82479791809445" y2="99.875" stroke="#222" stroke-width="0.5"/><line x1="255.43364643996844" y1="99.875" x2="255.43364643996844" y2="105.5" stroke="#222" stroke-width="0.5"/><line x1="254.71678315040344" y1="106.5" x2="256.3" y2="106.5" stroke="#222" stroke-width="0.5"/><line x1="254.71678315040344" y1="102.6875" x2="255.43364643996844" y2="102.6875" stroke="#222" stroke-width="0.5"/><line x1="254.71678315040344" y1="102.6875" x2="254.71678315040344" y2="106.5" stroke="#222" stroke-width="0.5"/><line x1="254.1089996672915" y1="89.15625" x2="255.27502899794493" y2="89.15625" stroke="#222" stroke-width="0.5"/><line x1="254.1089996672915" y1="104.59375" x2="254.71678315040344" y2="104.59375" stroke="#222" stroke-width="0.5"/><line x1="254.1089996672915" y1="89.15625" x2="254.1089996672915" y2="104.59375" stroke="#222" stroke-width="0.5"/><line x1="254.66872707043134" y1="107.5" x2="256.3" y2="107.5" stroke="#222" stroke-width="0.5"/><line x1="254.66872707043134" y1="108.5" x2="256.3" y2="108.5" stroke="#222" stroke-width="0.5"/><line x1="254.66872707043134" y1="107.5" x2="254.66872707043134" y2="108.5" stroke="#222" stroke-width="0.5"/><line x1="254.3682233659868" y1="109.5" x2="256.3" y2="109.5" stroke="#222" stroke-width="0.5"/><line x1="254.3682233659868" y1="108.0" x2="254.66872707043134" y2="108.0" stroke="#222" stroke-width="0.5"/><line x1="254.3682233659868" y1="108.0" x2="254.3682233659868" y2="109.5" stroke="#222" stroke-width="0.5"/><line x1="253.45357134774565" y1="96.875" x2="254.1089996672915" y2="96.875" stroke="#222" stroke-width="0.5"/><line x1="253.45357134774565" y1="108.75" x2="254.3682233659868" y2="108.75" stroke="#222" stroke-width="0.5"/><line x1="253.45357134774565" y1="96.875" x2="253.45357134774565" y2="108.75" stroke="#222" stroke-width="0.5"/><line x1="252.62786921531003" y1="110.5" x2="256.3" y2="110.5" stroke="#222" stroke-width="0.5"/><line x1="252.62786921531003" y1="102.8125" x2="253.45357134774565" y2="102.8125" stroke="#222" stroke-width="0.5"/><line x1="252.62786921531003" y1="102.8125" x2="252.62786921531003" y2="110.5" stroke="#222" stroke-width="0.5"/><line x1="249.5" y1="82.375" x2="250.18720760238827" y2="82.375" stroke="#222" stroke-width="0.5"/><line x1="249.5" y1="106.65625" x2="252.62786921531003" y2="106.65625" stroke="#222" stroke-width="0.5"/><line x1="249.5" y1="82.375" x2="249.5" y2="106.65625" stroke="#222" stroke-width="0.5"/><line x1="249.5" y1="94.515625" x2="249.5" y2="98" stroke="#555" stroke-width="0.5"/><text x="360.30" y="35.10" font-size="4.6" text-anchor="start" fill="#444" font-weight="normal" stroke="#444" stroke-width="0.15">3</text><text x="360.30" y="44.30" font-size="4.6" text-anchor="start" fill="#444" font-weight="normal" stroke="#444" stroke-width="0.15">2</text><text x="360.30" y="53.10" font-size="4.6" text-anchor="start" fill="#444" font-weight="normal" stroke="#444" stroke-width="0.15">1</text><text x="360.30" y="62.30" font-size="4.6" text-anchor="start" fill="#444" font-weight="normal" stroke="#444" stroke-width="0.15">0</text><text x="358.20" y="71.20" font-size="4.6" text-anchor="start" fill="#444" font-weight="normal" stroke="#444" stroke-width="0.15">&#8722;1</text><text x="358.20" y="80.40" font-size="4.6" text-anchor="start" fill="#444" font-weight="normal" stroke="#444" stroke-width="0.15">&#8722;2</text><text x="358.20" y="89.60" font-size="4.6" text-anchor="start" fill="#444" font-weight="normal" stroke="#444" stroke-width="0.15">&#8722;3</text><text x="358.20" y="98.60" font-size="4.6" text-anchor="start" fill="#444" font-weight="normal" stroke="#444" stroke-width="0.15">&#8722;4</text><text x="365.80" y="34.20" font-size="5.2" text-anchor="start" fill="#111" font-weight="bold" stroke="#111" stroke-width="0.15" textLength="15.00" lengthAdjust="spacingAndGlyphs">Group</text><rect x="365.8" y="35.8" width="6.9" height="5.9" fill="#c6b6dc"/><rect x="365.8" y="41.7" width="6.9" height="6.1" fill="#f5c28e"/><text x="374.00" y="40.80" font-size="5.0" text-anchor="start" fill="#666" font-weight="normal" stroke="#666" stroke-width="0.15" textLength="18.50" lengthAdjust="spacingAndGlyphs">Control1</text><text x="374.00" y="46.80" font-size="5.0" text-anchor="start" fill="#666" font-weight="normal" stroke="#666" stroke-width="0.15" textLength="15.00" lengthAdjust="spacingAndGlyphs">Cases1</text><text x="365.80" y="56.20" font-size="5.2" text-anchor="start" fill="#111" font-weight="bold" stroke="#111" stroke-width="0.15" textLength="22.00" lengthAdjust="spacingAndGlyphs">Up_Down</text><rect x="365.8" y="58" width="6.9" height="6.2" fill="#e8161c"/><rect x="365.8" y="64.2" width="6.9" height="5.9" fill="#3a78b8"/><text x="374.00" y="63.10" font-size="5.0" text-anchor="start" fill="#666" font-weight="normal" stroke="#666" stroke-width="0.15" textLength="6.30" lengthAdjust="spacingAndGlyphs">Up</text><text x="374.00" y="69.20" font-size="5.0" text-anchor="start" fill="#666" font-weight="normal" stroke="#666" stroke-width="0.15" textLength="12.50" lengthAdjust="spacingAndGlyphs">Down</text>
<rect x="263.20" y="30.00" width="6.92" height="1.30" fill="#cfecef"/><rect x="269.82" y="30.00" width="6.92" height="1.30" fill="#d3edec"/><rect x="276.45" y="30.00" width="6.92" height="1.30" fill="#d4edeb"/><rect x="283.07" y="30.00" width="6.92" height="1.30" fill="#d1ecee"/><rect x="289.69" y="30.00" width="6.92" height="1.30" fill="#cfecef"/><rect x="296.32" y="30.00" width="6.92" height="1.30" fill="#d2eded"/><rect x="302.94" y="30.00" width="6.92" height="1.30" fill="#f8e6bb"/><rect x="309.56" y="30.00" width="6.92" height="1.30" fill="#f8e5b9"/><rect x="316.18" y="30.00" width="6.92" height="1.30" fill="#f7e9c0"/><rect x="322.81" y="30.00" width="6.92" height="1.30" fill="#f7e9c0"/><rect x="329.43" y="30.00" width="6.92" height="1.30" fill="#f8e6ba"/><rect x="336.05" y="30.00" width="6.92" height="1.30" fill="#f8e6bb"/><rect x="342.68" y="30.00" width="6.92" height="1.30" fill="#f8e4b8"/><rect x="263.20" y="31.00" width="6.92" height="1.30" fill="#3992c1"/><rect x="269.82" y="31.00" width="6.92" height="1.30" fill="#3992c1"/><rect x="276.45" y="31.00" width="6.92" height="1.30" fill="#80c2dc"/><rect x="283.07" y="31.00" width="6.92" height="1.30" fill="#80c2dc"/><rect x="289.69" y="31.00" width="6.92" height="1.30" fill="#80c2dc"/><rect x="296.32" y="31.00" width="6.92" height="1.30" fill="#80c2dc"/><rect x="302.94" y="31.00" width="6.92" height="1.30" fill="#87c6de"/><rect x="309.56" y="31.00" width="6.92" height="1.30" fill="#87c6de"/><rect x="316.18" y="31.00" width="6.92" height="1.30" fill="#87c6de"/><rect x="322.81" y="31.00" width="6.92" height="1.30" fill="#87c6de"/><rect x="329.43" y="31.00" width="6.92" height="1.30" fill="#c0e4ec"/><rect x="336.05" y="31.00" width="6.92" height="1.30" fill="#c1e5ed"/><rect x="342.68" y="31.00" width="6.92" height="1.30" fill="#c3e6ed"/><rect x="263.20" y="32.00" width="6.92" height="1.30" fill="#bae1eb"/><rect x="269.82" y="32.00" width="6.92" height="1.30" fill="#b6dfea"/><rect x="276.45" y="32.00" width="6.92" height="1.30" fill="#aedbe8"/><rect x="283.07" y="32.00" width="6.92" height="1.30" fill="#b8e0ea"/><rect x="289.69" y="32.00" width="6.92" height="1.30" fill="#afdbe8"/><rect x="296.32" y="32.00" width="6.92" height="1.30" fill="#b4deea"/><rect x="302.94" y="32.00" width="6.92" height="1.30" fill="#bde3ec"/><rect x="309.56" y="32.00" width="6.92" height="1.30" fill="#c3e6ed"/><rect x="316.18" y="32.00" width="6.92" height="1.30" fill="#c0e5ec"/><rect x="322.81" y="32.00" width="6.92" height="1.30" fill="#c4e7ee"/><rect x="329.43" y="32.00" width="6.92" height="1.30" fill="#d0ecee"/><rect x="336.05" y="32.00" width="6.92" height="1.30" fill="#c3e6ed"/><rect x="342.68" y="32.00" width="6.92" height="1.30" fill="#c7e8ee"/><rect x="263.20" y="33.00" width="6.92" height="1.30" fill="#b0dce8"/><rect x="269.82" y="33.00" width="6.92" height="1.30" fill="#b4dee9"/><rect x="276.45" y="33.00" width="6.92" height="1.30" fill="#b8e0ea"/><rect x="283.07" y="33.00" width="6.92" height="1.30" fill="#b5deea"/><rect x="289.69" y="33.00" width="6.92" height="1.30" fill="#87c6de"/><rect x="296.32" y="33.00" width="6.92" height="1.30" fill="#87c6de"/><rect x="302.94" y="33.00" width="6.92" height="1.30" fill="#87c6de"/><rect x="309.56" y="33.00" width="6.92" height="1.30" fill="#c6e8ee"/><rect x="316.18" y="33.00" width="6.92" height="1.30" fill="#c0e4ec"/><rect x="322.81" y="33.00" width="6.92" height="1.30" fill="#cbebef"/><rect x="329.43" y="33.00" width="6.92" height="1.30" fill="#c1e5ed"/><rect x="336.05" y="33.00" width="6.92" height="1.30" fill="#c6e8ee"/><rect x="342.68" y="33.00" width="6.92" height="1.30" fill="#c3e6ed"/><rect x="263.20" y="34.00" width="6.92" height="1.30" fill="#b9e1eb"/><rect x="269.82" y="34.00" width="6.92" height="1.30" fill="#b3dde9"/><rect x="276.45" y="34.00" width="6.92" height="1.30" fill="#b9e1eb"/><rect x="283.07" y="34.00" width="6.92" height="1.30" fill="#b5deea"/><rect x="289.69" y="34.00" width="6.92" height="1.30" fill="#bbe2eb"/><rect x="296.32" y="34.00" width="6.92" height="1.30" fill="#b8e0ea"/><rect x="302.94" y="34.00" width="6.92" height="1.30" fill="#c4e7ed"/><rect x="309.56" y="34.00" width="6.92" height="1.30" fill="#c0e5ec"/><rect x="316.18" y="34.00" width="6.92" height="1.30" fill="#c7e8ee"/><rect x="322.81" y="34.00" width="6.92" height="1.30" fill="#c5e7ee"/><rect x="329.43" y="34.00" width="6.92" height="1.30" fill="#caeaef"/><rect x="336.05" y="34.00" width="6.92" height="1.30" fill="#c2e5ed"/><rect x="342.68" y="34.00" width="6.92" height="1.30" fill="#c6e8ee"/><rect x="263.20" y="35.00" width="6.92" height="1.30" fill="#b7e0ea"/><rect x="269.82" y="35.00" width="6.92" height="1.30" fill="#b6dfea"/><rect x="276.45" y="35.00" width="6.92" height="1.30" fill="#b6dfea"/><rect x="283.07" y="35.00" width="6.92" height="1.30" fill="#b6dfea"/><rect x="289.69" y="35.00" width="6.92" height="1.30" fill="#b3dde9"/><rect x="296.32" y="35.00" width="6.92" height="1.30" fill="#b1dce9"/><rect x="302.94" y="35.00" width="6.92" height="1.30" fill="#c2e5ed"/><rect x="309.56" y="35.00" width="6.92" height="1.30" fill="#c6e8ee"/><rect x="316.18" y="35.00" width="6.92" height="1.30" fill="#caeaef"/><rect x="322.81" y="35.00" width="6.92" height="1.30" fill="#c8e9ee"/><rect x="329.43" y="35.00" width="6.92" height="1.30" fill="#c8e9ee"/><rect x="336.05" y="35.00" width="6.92" height="1.30" fill="#c7e8ee"/><rect x="342.68" y="35.00" width="6.92" height="1.30" fill="#c6e8ee"/><rect x="263.20" y="36.00" width="6.92" height="1.30" fill="#b6dfea"/><rect x="269.82" y="36.00" width="6.92" height="1.30" fill="#b8e0eb"/><rect x="276.45" y="36.00" width="6.92" height="1.30" fill="#bde3ec"/><rect x="283.07" y="36.00" width="6.92" height="1.30" fill="#b4dee9"/><rect x="289.69" y="36.00" width="6.92" height="1.30" fill="#b2dde9"/><rect x="296.32" y="36.00" width="6.92" height="1.30" fill="#bde3ec"/><rect x="302.94" y="36.00" width="6.92" height="1.30" fill="#c4e7ee"/><rect x="309.56" y="36.00" width="6.92" height="1.30" fill="#c7e9ee"/><rect x="316.18" y="36.00" width="6.92" height="1.30" fill="#edf1d6"/><rect x="322.81" y="36.00" width="6.92" height="1.30" fill="#edf1d6"/><rect x="329.43" y="36.00" width="6.92" height="1.30" fill="#ceecf0"/><rect x="336.05" y="36.00" width="6.92" height="1.30" fill="#cbeaef"/><rect x="342.68" y="36.00" width="6.92" height="1.30" fill="#c4e7ed"/><rect x="263.20" y="37.00" width="6.92" height="1.30" fill="#b8e0eb"/><rect x="269.82" y="37.00" width="6.92" height="1.30" fill="#6bb5d5"/><rect x="276.45" y="37.00" width="6.92" height="1.30" fill="#6bb5d5"/><rect x="283.07" y="37.00" width="6.92" height="1.30" fill="#6bb5d5"/><rect x="289.69" y="37.00" width="6.92" height="1.30" fill="#6bb5d5"/><rect x="296.32" y="37.00" width="6.92" height="1.30" fill="#6bb5d5"/><rect x="302.94" y="37.00" width="6.92" height="1.30" fill="#c6e8ee"/><rect x="309.56" y="37.00" width="6.92" height="1.30" fill="#c4e6ed"/><rect x="316.18" y="37.00" width="6.92" height="1.30" fill="#c9e9ef"/><rect x="322.81" y="37.00" width="6.92" height="1.30" fill="#c0e5ec"/><rect x="329.43" y="37.00" width="6.92" height="1.30" fill="#c7e8ee"/><rect x="336.05" y="37.00" width="6.92" height="1.30" fill="#c8e9ef"/><rect x="342.68" y="37.00" width="6.92" height="1.30" fill="#c2e6ed"/><rect x="263.20" y="38.00" width="6.92" height="1.30" fill="#aedbe8"/><rect x="269.82" y="38.00" width="6.92" height="1.30" fill="#b1dde9"/><rect x="276.45" y="38.00" width="6.92" height="1.30" fill="#b6dfea"/><rect x="283.07" y="38.00" width="6.92" height="1.30" fill="#b7e0ea"/><rect x="289.69" y="38.00" width="6.92" height="1.30" fill="#bce2eb"/><rect x="296.32" y="38.00" width="6.92" height="1.30" fill="#b1dce9"/><rect x="302.94" y="38.00" width="6.92" height="1.30" fill="#c3e6ed"/><rect x="309.56" y="38.00" width="6.92" height="1.30" fill="#c6e8ee"/><rect x="316.18" y="38.00" width="6.92" height="1.30" fill="#c3e6ed"/><rect x="322.81" y="38.00" width="6.92" height="1.30" fill="#b9e1eb"/><rect x="329.43" y="38.00" width="6.92" height="1.30" fill="#c7e8ee"/><rect x="336.05" y="38.00" width="6.92" height="1.30" fill="#cdecf0"/><rect x="342.68" y="38.00" width="6.92" height="1.30" fill="#c8e9ee"/><rect x="263.20" y="39.00" width="6.92" height="1.30" fill="#b1dde9"/><rect x="269.82" y="39.00" width="6.92" height="1.30" fill="#b3dee9"/><rect x="276.45" y="39.00" width="6.92" height="1.30" fill="#b6dfea"/><rect x="283.07" y="39.00" width="6.92" height="1.30" fill="#72b9d7"/><rect x="289.69" y="39.00" width="6.92" height="1.30" fill="#72b9d7"/><rect x="296.32" y="39.00" width="6.92" height="1.30" fill="#72b9d7"/><rect x="302.94" y="39.00" width="6.92" height="1.30" fill="#72b9d7"/><rect x="309.56" y="39.00" width="6.92" height="1.30" fill="#c3e6ed"/><rect x="316.18" y="39.00" width="6.92" height="1.30" fill="#cbebef"/><rect x="322.81" y="39.00" width="6.92" height="1.30" fill="#c0e5ed"/><rect x="329.43" y="39.00" width="6.92" height="1.30" fill="#c1e5ed"/><rect x="336.05" y="39.00" width="6.92" height="1.30" fill="#c6e8ee"/><rect x="342.68" y="39.00" width="6.92" height="1.30" fill="#c9eaef"/><rect x="263.20" y="40.00" width="6.92" height="1.30" fill="#b8e0ea"/><rect x="269.82" y="40.00" width="6.92" height="1.30" fill="#b6dfea"/><rect x="276.45" y="40.00" width="6.92" height="1.30" fill="#addbe8"/><rect x="283.07" y="40.00" width="6.92" height="1.30" fill="#b2dde9"/><rect x="289.69" y="40.00" width="6.92" height="1.30" fill="#b3dde9"/><rect x="296.32" y="40.00" width="6.92" height="1.30" fill="#b3dde9"/><rect x="302.94" y="40.00" width="6.92" height="1.30" fill="#c6e8ee"/><rect x="309.56" y="40.00" width="6.92" height="1.30" fill="#c2e6ed"/><rect x="316.18" y="40.00" width="6.92" height="1.30" fill="#c7e8ee"/><rect x="322.81" y="40.00" width="6.92" height="1.30" fill="#c4e6ed"/><rect x="329.43" y="40.00" width="6.92" height="1.30" fill="#c2e6ed"/><rect x="336.05" y="40.00" width="6.92" height="1.30" fill="#c4e7ed"/><rect x="342.68" y="40.00" width="6.92" height="1.30" fill="#c5e7ee"/><rect x="263.20" y="41.00" width="6.92" height="1.30" fill="#b9e1eb"/><rect x="269.82" y="41.00" width="6.92" height="1.30" fill="#b3dee9"/><rect x="276.45" y="41.00" width="6.92" height="1.30" fill="#b4dee9"/><rect x="283.07" y="41.00" width="6.92" height="1.30" fill="#afdce8"/><rect x="289.69" y="41.00" width="6.92" height="1.30" fill="#bce2eb"/><rect x="296.32" y="41.00" width="6.92" height="1.30" fill="#bbe2eb"/><rect x="302.94" y="41.00" width="6.92" height="1.30" fill="#c3e6ed"/><rect x="309.56" y="41.00" width="6.92" height="1.30" fill="#c1e5ed"/><rect x="316.18" y="41.00" width="6.92" height="1.30" fill="#bee3ec"/><rect x="322.81" y="41.00" width="6.92" height="1.30" fill="#c4e7ed"/><rect x="329.43" y="41.00" width="6.92" height="1.30" fill="#c4e7ee"/><rect x="336.05" y="41.00" width="6.92" height="1.30" fill="#cdebf0"/><rect x="342.68" y="41.00" width="6.92" height="1.30" fill="#c4e7ee"/><rect x="263.20" y="42.00" width="6.92" height="1.30" fill="#64b1d3"/><rect x="269.82" y="42.00" width="6.92" height="1.30" fill="#64b1d3"/><rect x="276.45" y="42.00" width="6.92" height="1.30" fill="#64b1d3"/><rect x="283.07" y="42.00" width="6.92" height="1.30" fill="#64b1d3"/><rect x="289.69" y="42.00" width="6.92" height="1.30" fill="#aedbe8"/><rect x="296.32" y="42.00" width="6.92" height="1.30" fill="#b6dfea"/><rect x="302.94" y="42.00" width="6.92" height="1.30" fill="#bce3ec"/><rect x="309.56" y="42.00" width="6.92" height="1.30" fill="#d0ecee"/><rect x="316.18" y="42.00" width="6.92" height="1.30" fill="#c8e9ef"/><rect x="322.81" y="42.00" width="6.92" height="1.30" fill="#338cbd"/><rect x="329.43" y="42.00" width="6.92" height="1.30" fill="#338cbd"/><rect x="336.05" y="42.00" width="6.92" height="1.30" fill="#338cbd"/><rect x="342.68" y="42.00" width="6.92" height="1.30" fill="#338cbd"/><rect x="263.20" y="43.00" width="6.92" height="1.30" fill="#afdbe8"/><rect x="269.82" y="43.00" width="6.92" height="1.30" fill="#b8e0ea"/><rect x="276.45" y="43.00" width="6.92" height="1.30" fill="#acdae7"/><rect x="283.07" y="43.00" width="6.92" height="1.30" fill="#b1dde9"/><rect x="289.69" y="43.00" width="6.92" height="1.30" fill="#bae1eb"/><rect x="296.32" y="43.00" width="6.92" height="1.30" fill="#bce2eb"/><rect x="302.94" y="43.00" width="6.92" height="1.30" fill="#bee4ec"/><rect x="309.56" y="43.00" width="6.92" height="1.30" fill="#bde3ec"/><rect x="316.18" y="43.00" width="6.92" height="1.30" fill="#c7e8ee"/><rect x="322.81" y="43.00" width="6.92" height="1.30" fill="#338cbd"/><rect x="329.43" y="43.00" width="6.92" height="1.30" fill="#338cbd"/><rect x="336.05" y="43.00" width="6.92" height="1.30" fill="#338cbd"/><rect x="342.68" y="43.00" width="6.92" height="1.30" fill="#338cbd"/><rect x="263.20" y="44.00" width="6.92" height="1.30" fill="#429cc8"/><rect x="269.82" y="44.00" width="6.92" height="1.30" fill="#429cc8"/><rect x="276.45" y="44.00" width="6.92" height="1.30" fill="#429cc8"/><rect x="283.07" y="44.00" width="6.92" height="1.30" fill="#429cc8"/><rect x="289.69" y="44.00" width="6.92" height="1.30" fill="#429cc8"/><rect x="296.32" y="44.00" width="6.92" height="1.30" fill="#429cc8"/><rect x="302.94" y="44.00" width="6.92" height="1.30" fill="#429cc8"/><rect x="309.56" y="44.00" width="6.92" height="1.30" fill="#bfe4ec"/><rect x="316.18" y="44.00" width="6.92" height="1.30" fill="#c3e6ed"/><rect x="322.81" y="44.00" width="6.92" height="1.30" fill="#bee3ec"/><rect x="329.43" y="44.00" width="6.92" height="1.30" fill="#bce2eb"/><rect x="336.05" y="44.00" width="6.92" height="1.30" fill="#c6e8ee"/><rect x="342.68" y="44.00" width="6.92" height="1.30" fill="#c9eaef"/><rect x="263.20" y="45.00" width="6.92" height="1.30" fill="#f8bc87"/><rect x="269.82" y="45.00" width="6.92" height="1.30" fill="#f8bb86"/><rect x="276.45" y="45.00" width="6.92" height="1.30" fill="#f8be89"/><rect x="283.07" y="45.00" width="6.92" height="1.30" fill="#f9c18c"/><rect x="289.69" y="45.00" width="6.92" height="1.30" fill="#f8bf89"/><rect x="296.32" y="45.00" width="6.92" height="1.30" fill="#f8c08b"/><rect x="302.94" y="45.00" width="6.92" height="1.30" fill="#f7b37e"/><rect x="309.56" y="45.00" width="6.92" height="1.30" fill="#f7b580"/><rect x="316.18" y="45.00" width="6.92" height="1.30" fill="#f7b47f"/><rect x="322.81" y="45.00" width="6.92" height="1.30" fill="#f5a671"/><rect x="329.43" y="45.00" width="6.92" height="1.30" fill="#f5a570"/><rect x="336.05" y="45.00" width="6.92" height="1.30" fill="#f5a772"/><rect x="342.68" y="45.00" width="6.92" height="1.30" fill="#f6ab76"/><rect x="263.20" y="46.00" width="6.92" height="1.30" fill="#f8bf89"/><rect x="269.82" y="46.00" width="6.92" height="1.30" fill="#f8bd88"/><rect x="276.45" y="46.00" width="6.92" height="1.30" fill="#f8bb86"/><rect x="283.07" y="46.00" width="6.92" height="1.30" fill="#f9c28c"/><rect x="289.69" y="46.00" width="6.92" height="1.30" fill="#f9c58f"/><rect x="296.32" y="46.00" width="6.92" height="1.30" fill="#f8bd87"/><rect x="302.94" y="46.00" width="6.92" height="1.30" fill="#f7b27d"/><rect x="309.56" y="46.00" width="6.92" height="1.30" fill="#f6ac77"/><rect x="316.18" y="46.00" width="6.92" height="1.30" fill="#f6af79"/><rect x="322.81" y="46.00" width="6.92" height="1.30" fill="#f5a26d"/><rect x="329.43" y="46.00" width="6.92" height="1.30" fill="#f5a36e"/><rect x="336.05" y="46.00" width="6.92" height="1.30" fill="#f6ac77"/><rect x="342.68" y="46.00" width="6.92" height="1.30" fill="#f6ae78"/><rect x="263.20" y="47.00" width="6.92" height="1.30" fill="#f9c18c"/><rect x="269.82" y="47.00" width="6.92" height="1.30" fill="#f9c18c"/><rect x="276.45" y="47.00" width="6.92" height="1.30" fill="#f8c08b"/><rect x="283.07" y="47.00" width="6.92" height="1.30" fill="#f8bd87"/><rect x="289.69" y="47.00" width="6.92" height="1.30" fill="#f8bc87"/><rect x="296.32" y="47.00" width="6.92" height="1.30" fill="#f8bc86"/><rect x="302.94" y="47.00" width="6.92" height="1.30" fill="#f5a670"/><rect x="309.56" y="47.00" width="6.92" height="1.30" fill="#f5a26d"/><rect x="316.18" y="47.00" width="6.92" height="1.30" fill="#f6a873"/><rect x="322.81" y="47.00" width="6.92" height="1.30" fill="#f08f60"/><rect x="329.43" y="47.00" width="6.92" height="1.30" fill="#f08c5d"/><rect x="336.05" y="47.00" width="6.92" height="1.30" fill="#f19262"/><rect x="342.68" y="47.00" width="6.92" height="1.30" fill="#f49e6a"/><rect x="263.20" y="48.00" width="6.92" height="1.30" fill="#f8be89"/><rect x="269.82" y="48.00" width="6.92" height="1.30" fill="#f8bc86"/><rect x="276.45" y="48.00" width="6.92" height="1.30" fill="#f9c28c"/><rect x="283.07" y="48.00" width="6.92" height="1.30" fill="#f9c28c"/><rect x="289.69" y="48.00" width="6.92" height="1.30" fill="#f9c18c"/><rect x="296.32" y="48.00" width="6.92" height="1.30" fill="#f8ba84"/><rect x="302.94" y="48.00" width="6.92" height="1.30" fill="#f39a67"/><rect x="309.56" y="48.00" width="6.92" height="1.30" fill="#f4a06c"/><rect x="316.18" y="48.00" width="6.92" height="1.30" fill="#f49e6a"/><rect x="322.81" y="48.00" width="6.92" height="1.30" fill="#f08e5f"/><rect x="329.43" y="48.00" width="6.92" height="1.30" fill="#f08e5f"/><rect x="336.05" y="48.00" width="6.92" height="1.30" fill="#f09060"/><rect x="342.68" y="48.00" width="6.92" height="1.30" fill="#f4a16c"/><rect x="263.20" y="49.00" width="6.92" height="1.30" fill="#f9c38d"/><rect x="269.82" y="49.00" width="6.92" height="1.30" fill="#f9c18b"/><rect x="276.45" y="49.00" width="6.92" height="1.30" fill="#f8ba85"/><rect x="283.07" y="49.00" width="6.92" height="1.30" fill="#f8bd88"/><rect x="289.69" y="49.00" width="6.92" height="1.30" fill="#f8bf89"/><rect x="296.32" y="49.00" width="6.92" height="1.30" fill="#f8c08a"/><rect x="302.94" y="49.00" width="6.92" height="1.30" fill="#f49f6b"/><rect x="309.56" y="49.00" width="6.92" height="1.30" fill="#f49d6a"/><rect x="316.18" y="49.00" width="6.92" height="1.30" fill="#f5a26d"/><rect x="322.81" y="49.00" width="6.92" height="1.30" fill="#f08e5f"/><rect x="329.43" y="49.00" width="6.92" height="1.30" fill="#f08e5f"/><rect x="336.05" y="49.00" width="6.92" height="1.30" fill="#f19262"/><rect x="342.68" y="49.00" width="6.92" height="1.30" fill="#f5a36e"/><rect x="263.20" y="50.00" width="6.92" height="1.30" fill="#f9c28c"/><rect x="269.82" y="50.00" width="6.92" height="1.30" fill="#f9c28d"/><rect x="276.45" y="50.00" width="6.92" height="1.30" fill="#f8bc87"/><rect x="283.07" y="50.00" width="6.92" height="1.30" fill="#f9c691"/><rect x="289.69" y="50.00" width="6.92" height="1.30" fill="#f8c08a"/><rect x="296.32" y="50.00" width="6.92" height="1.30" fill="#f9c18b"/><rect x="302.94" y="50.00" width="6.92" height="1.30" fill="#f7b27c"/><rect x="309.56" y="50.00" width="6.92" height="1.30" fill="#f6af7a"/><rect x="316.18" y="50.00" width="6.92" height="1.30" fill="#f6ac77"/><rect x="322.81" y="50.00" width="6.92" height="1.30" fill="#f5a570"/><rect x="329.43" y="50.00" width="6.92" height="1.30" fill="#f5a671"/><rect x="336.05" y="50.00" width="6.92" height="1.30" fill="#f6a772"/><rect x="342.68" y="50.00" width="6.92" height="1.30" fill="#f7b07b"/><rect x="263.20" y="51.00" width="6.92" height="1.30" fill="#f8bc87"/><rect x="269.82" y="51.00" width="6.92" height="1.30" fill="#f8c08b"/><rect x="276.45" y="51.00" width="6.92" height="1.30" fill="#f9c38d"/><rect x="283.07" y="51.00" width="6.92" height="1.30" fill="#f9c38d"/><rect x="289.69" y="51.00" width="6.92" height="1.30" fill="#f9c28d"/><rect x="296.32" y="51.00" width="6.92" height="1.30" fill="#f9c38e"/><rect x="302.94" y="51.00" width="6.92" height="1.30" fill="#f6ac77"/><rect x="309.56" y="51.00" width="6.92" height="1.30" fill="#f6af79"/><rect x="316.18" y="51.00" width="6.92" height="1.30" fill="#f7b07b"/><rect x="322.81" y="51.00" width="6.92" height="1.30" fill="#f4a06c"/><rect x="329.43" y="51.00" width="6.92" height="1.30" fill="#f6a872"/><rect x="336.05" y="51.00" width="6.92" height="1.30" fill="#f5a36e"/><rect x="342.68" y="51.00" width="6.92" height="1.30" fill="#f6ad78"/><rect x="263.20" y="52.00" width="6.92" height="1.30" fill="#f9c48e"/><rect x="269.82" y="52.00" width="6.92" height="1.30" fill="#f9c48e"/><rect x="276.45" y="52.00" width="6.92" height="1.30" fill="#f9c28c"/><rect x="283.07" y="52.00" width="6.92" height="1.30" fill="#f8bc87"/><rect x="289.69" y="52.00" width="6.92" height="1.30" fill="#f8bb86"/><rect x="296.32" y="52.00" width="6.92" height="1.30" fill="#f9c38d"/><rect x="302.94" y="52.00" width="6.92" height="1.30" fill="#f6ad77"/><rect x="309.56" y="52.00" width="6.92" height="1.30" fill="#f7b17c"/><rect x="316.18" y="52.00" width="6.92" height="1.30" fill="#f7b17c"/><rect x="322.81" y="52.00" width="6.92" height="1.30" fill="#f5a772"/><rect x="329.43" y="52.00" width="6.92" height="1.30" fill="#f5a771"/><rect x="336.05" y="52.00" width="6.92" height="1.30" fill="#f6ab76"/><rect x="342.68" y="52.00" width="6.92" height="1.30" fill="#f7b37e"/><rect x="263.20" y="53.00" width="6.92" height="1.30" fill="#f9c38d"/><rect x="269.82" y="53.00" width="6.92" height="1.30" fill="#f8be88"/><rect x="276.45" y="53.00" width="6.92" height="1.30" fill="#f8b983"/><rect x="283.07" y="53.00" width="6.92" height="1.30" fill="#f7b781"/><rect x="289.69" y="53.00" width="6.92" height="1.30" fill="#f8c08b"/><rect x="296.32" y="53.00" width="6.92" height="1.30" fill="#f9c48f"/><rect x="302.94" y="53.00" width="6.92" height="1.30" fill="#f7b17c"/><rect x="309.56" y="53.00" width="6.92" height="1.30" fill="#f7b37d"/><rect x="316.18" y="53.00" width="6.92" height="1.30" fill="#f6aa75"/><rect x="322.81" y="53.00" width="6.92" height="1.30" fill="#f5a46f"/><rect x="329.43" y="53.00" width="6.92" height="1.30" fill="#f6a873"/><rect x="336.05" y="53.00" width="6.92" height="1.30" fill="#f5a36e"/><rect x="342.68" y="53.00" width="6.92" height="1.30" fill="#f6ae79"/><rect x="263.20" y="54.00" width="6.92" height="1.30" fill="#f5a36e"/><rect x="269.82" y="54.00" width="6.92" height="1.30" fill="#f49d6a"/><rect x="276.45" y="54.00" width="6.92" height="1.30" fill="#f39c69"/><rect x="283.07" y="54.00" width="6.92" height="1.30" fill="#f39b68"/><rect x="289.69" y="54.00" width="6.92" height="1.30" fill="#f39a68"/><rect x="296.32" y="54.00" width="6.92" height="1.30" fill="#f39d69"/><rect x="302.94" y="54.00" width="6.92" height="1.30" fill="#ed8256"/><rect x="309.56" y="54.00" width="6.92" height="1.30" fill="#ee8559"/><rect x="316.18" y="54.00" width="6.92" height="1.30" fill="#ee875a"/><rect x="322.81" y="54.00" width="6.92" height="1.30" fill="#ec7b52"/><rect x="329.43" y="54.00" width="6.92" height="1.30" fill="#ed8156"/><rect x="336.05" y="54.00" width="6.92" height="1.30" fill="#ed8055"/><rect x="342.68" y="54.00" width="6.92" height="1.30" fill="#ef8a5c"/><rect x="263.20" y="55.00" width="6.92" height="1.30" fill="#fbd8a3"/><rect x="269.82" y="55.00" width="6.92" height="1.30" fill="#fbd6a0"/><rect x="276.45" y="55.00" width="6.92" height="1.30" fill="#fadaa6"/><rect x="283.07" y="55.00" width="6.92" height="1.30" fill="#fbd59f"/><rect x="289.69" y="55.00" width="6.92" height="1.30" fill="#fbd8a3"/><rect x="296.32" y="55.00" width="6.92" height="1.30" fill="#fbd7a1"/><rect x="302.94" y="55.00" width="6.92" height="1.30" fill="#faca94"/><rect x="309.56" y="55.00" width="6.92" height="1.30" fill="#f9c993"/><rect x="316.18" y="55.00" width="6.92" height="1.30" fill="#f9c690"/><rect x="322.81" y="55.00" width="6.92" height="1.30" fill="#faca95"/><rect x="329.43" y="55.00" width="6.92" height="1.30" fill="#f9c48f"/><rect x="336.05" y="55.00" width="6.92" height="1.30" fill="#facc96"/><rect x="342.68" y="55.00" width="6.92" height="1.30" fill="#facc96"/><rect x="263.20" y="56.00" width="6.92" height="1.30" fill="#fbd6a0"/><rect x="269.82" y="56.00" width="6.92" height="1.30" fill="#fad9a5"/><rect x="276.45" y="56.00" width="6.92" height="1.30" fill="#fbd8a3"/><rect x="283.07" y="56.00" width="6.92" height="1.30" fill="#fbd6a0"/><rect x="289.69" y="56.00" width="6.92" height="1.30" fill="#fbd59f"/><rect x="296.32" y="56.00" width="6.92" height="1.30" fill="#fadaa7"/><rect x="302.94" y="56.00" width="6.92" height="1.30" fill="#f9c892"/><rect x="309.56" y="56.00" width="6.92" height="1.30" fill="#f9c38e"/><rect x="316.18" y="56.00" width="6.92" height="1.30" fill="#f9c690"/><rect x="322.81" y="56.00" width="6.92" height="1.30" fill="#faca94"/><rect x="329.43" y="56.00" width="6.92" height="1.30" fill="#facb95"/><rect x="336.05" y="56.00" width="6.92" height="1.30" fill="#faca94"/><rect x="342.68" y="56.00" width="6.92" height="1.30" fill="#facd97"/><rect x="263.20" y="57.00" width="6.92" height="1.30" fill="#fbd8a3"/><rect x="269.82" y="57.00" width="6.92" height="1.30" fill="#fbd8a3"/><rect x="276.45" y="57.00" width="6.92" height="1.30" fill="#fbd8a3"/><rect x="283.07" y="57.00" width="6.92" height="1.30" fill="#fbd59f"/><rect x="289.69" y="57.00" width="6.92" height="1.30" fill="#fbd8a3"/><rect x="296.32" y="57.00" width="6.92" height="1.30" fill="#fadaa6"/><rect x="302.94" y="57.00" width="6.92" height="1.30" fill="#f9c690"/><rect x="309.56" y="57.00" width="6.92" height="1.30" fill="#facd97"/><rect x="316.18" y="57.00" width="6.92" height="1.30" fill="#facb95"/><rect x="322.81" y="57.00" width="6.92" height="1.30" fill="#faca94"/><rect x="329.43" y="57.00" width="6.92" height="1.30" fill="#faca95"/><rect x="336.05" y="57.00" width="6.92" height="1.30" fill="#facc97"/><rect x="342.68" y="57.00" width="6.92" height="1.30" fill="#faca94"/><rect x="263.20" y="58.00" width="6.92" height="1.30" fill="#fadba8"/><rect x="269.82" y="58.00" width="6.92" height="1.30" fill="#f9dfb0"/><rect x="276.45" y="58.00" width="6.92" height="1.30" fill="#f9dfae"/><rect x="283.07" y="58.00" width="6.92" height="1.30" fill="#faddab"/><rect x="289.69" y="58.00" width="6.92" height="1.30" fill="#f9ddac"/><rect x="296.32" y="58.00" width="6.92" height="1.30" fill="#f9ddac"/><rect x="302.94" y="58.00" width="6.92" height="1.30" fill="#fbd6a0"/><rect x="309.56" y="58.00" width="6.92" height="1.30" fill="#fadba8"/><rect x="316.18" y="58.00" width="6.92" height="1.30" fill="#fad9a5"/><rect x="322.81" y="58.00" width="6.92" height="1.30" fill="#fbd7a2"/><rect x="329.43" y="58.00" width="6.92" height="1.30" fill="#fbd7a1"/><rect x="336.05" y="58.00" width="6.92" height="1.30" fill="#fbd59f"/><rect x="342.68" y="58.00" width="6.92" height="1.30" fill="#fbd7a1"/><rect x="263.20" y="59.00" width="6.92" height="1.30" fill="#f9dfaf"/><rect x="269.82" y="59.00" width="6.92" height="1.30" fill="#f9deae"/><rect x="276.45" y="59.00" width="6.92" height="1.30" fill="#f9dfaf"/><rect x="283.07" y="59.00" width="6.92" height="1.30" fill="#f9dead"/><rect x="289.69" y="59.00" width="6.92" height="1.30" fill="#f9ddac"/><rect x="296.32" y="59.00" width="6.92" height="1.30" fill="#f9dfaf"/><rect x="302.94" y="59.00" width="6.92" height="1.30" fill="#fad9a5"/><rect x="309.56" y="59.00" width="6.92" height="1.30" fill="#fad9a5"/><rect x="316.18" y="59.00" width="6.92" height="1.30" fill="#fbd59f"/><rect x="322.81" y="59.00" width="6.92" height="1.30" fill="#fbd59f"/><rect x="329.43" y="59.00" width="6.92" height="1.30" fill="#fbd6a0"/><rect x="336.05" y="59.00" width="6.92" height="1.30" fill="#fbd6a0"/><rect x="342.68" y="59.00" width="6.92" height="1.30" fill="#fbd6a0"/><rect x="263.20" y="60.00" width="6.92" height="1.30" fill="#f9deae"/><rect x="269.82" y="60.00" width="6.92" height="1.30" fill="#f9ddac"/><rect x="276.45" y="60.00" width="6.92" height="1.30" fill="#f9e0b1"/><rect x="283.07" y="60.00" width="6.92" height="1.30" fill="#f9dfaf"/><rect x="289.69" y="60.00" width="6.92" height="1.30" fill="#f9e0b0"/><rect x="296.32" y="60.00" width="6.92" height="1.30" fill="#f9ddac"/><rect x="302.94" y="60.00" width="6.92" height="1.30" fill="#fad8a4"/><rect x="309.56" y="60.00" width="6.92" height="1.30" fill="#fbd8a3"/><rect x="316.18" y="60.00" width="6.92" height="1.30" fill="#fbd7a1"/><rect x="322.81" y="60.00" width="6.92" height="1.30" fill="#fbd49e"/><rect x="329.43" y="60.00" width="6.92" height="1.30" fill="#fad9a5"/><rect x="336.05" y="60.00" width="6.92" height="1.30" fill="#fad9a5"/><rect x="342.68" y="60.00" width="6.92" height="1.30" fill="#fbd6a0"/><rect x="263.20" y="61.00" width="6.92" height="1.30" fill="#f9e0b1"/><rect x="269.82" y="61.00" width="6.92" height="1.30" fill="#f9dead"/><rect x="276.45" y="61.00" width="6.92" height="1.30" fill="#f9dfb0"/><rect x="283.07" y="61.00" width="6.92" height="1.30" fill="#f9dfae"/><rect x="289.69" y="61.00" width="6.92" height="1.30" fill="#f9e1b3"/><rect x="296.32" y="61.00" width="6.92" height="1.30" fill="#f9ddac"/><rect x="302.94" y="61.00" width="6.92" height="1.30" fill="#fbd8a4"/><rect x="309.56" y="61.00" width="6.92" height="1.30" fill="#fad9a5"/><rect x="316.18" y="61.00" width="6.92" height="1.30" fill="#fbd29c"/><rect x="322.81" y="61.00" width="6.92" height="1.30" fill="#fbd6a0"/><rect x="329.43" y="61.00" width="6.92" height="1.30" fill="#face98"/><rect x="336.05" y="61.00" width="6.92" height="1.30" fill="#fbd7a1"/><rect x="342.68" y="61.00" width="6.92" height="1.30" fill="#fbd8a3"/><rect x="263.20" y="62.00" width="6.92" height="1.30" fill="#f9deae"/><rect x="269.82" y="62.00" width="6.92" height="1.30" fill="#fadcaa"/><rect x="276.45" y="62.00" width="6.92" height="1.30" fill="#f9deae"/><rect x="283.07" y="62.00" width="6.92" height="1.30" fill="#f9dead"/><rect x="289.69" y="62.00" width="6.92" height="1.30" fill="#f9dead"/><rect x="296.32" y="62.00" width="6.92" height="1.30" fill="#f9e0b1"/><rect x="302.94" y="62.00" width="6.92" height="1.30" fill="#fbd7a2"/><rect x="309.56" y="62.00" width="6.92" height="1.30" fill="#fbd8a4"/><rect x="316.18" y="62.00" width="6.92" height="1.30" fill="#fad9a6"/><rect x="322.81" y="62.00" width="6.92" height="1.30" fill="#fbd6a0"/><rect x="329.43" y="62.00" width="6.92" height="1.30" fill="#fbd6a0"/><rect x="336.05" y="62.00" width="6.92" height="1.30" fill="#fbd7a2"/><rect x="342.68" y="62.00" width="6.92" height="1.30" fill="#fad9a5"/><rect x="263.20" y="63.00" width="6.92" height="1.30" fill="#f8e2b4"/><rect x="269.82" y="63.00" width="6.92" height="1.30" fill="#f9dead"/><rect x="276.45" y="63.00" width="6.92" height="1.30" fill="#f9dfae"/><rect x="283.07" y="63.00" width="6.92" height="1.30" fill="#f9e1b3"/><rect x="289.69" y="63.00" width="6.92" height="1.30" fill="#f9dfae"/><rect x="296.32" y="63.00" width="6.92" height="1.30" fill="#f9e1b2"/><rect x="302.94" y="63.00" width="6.92" height="1.30" fill="#fbd7a2"/><rect x="309.56" y="63.00" width="6.92" height="1.30" fill="#fbd7a2"/><rect x="316.18" y="63.00" width="6.92" height="1.30" fill="#fbd7a1"/><rect x="322.81" y="63.00" width="6.92" height="1.30" fill="#fbd7a2"/><rect x="329.43" y="63.00" width="6.92" height="1.30" fill="#fbd7a2"/><rect x="336.05" y="63.00" width="6.92" height="1.30" fill="#fad9a6"/><rect x="342.68" y="63.00" width="6.92" height="1.30" fill="#fbd8a3"/><rect x="263.20" y="64.00" width="6.92" height="1.30" fill="#f9dfb0"/><rect x="269.82" y="64.00" width="6.92" height="1.30" fill="#f9dfaf"/><rect x="276.45" y="64.00" width="6.92" height="1.30" fill="#f9dead"/><rect x="283.07" y="64.00" width="6.92" height="1.30" fill="#f9ddac"/><rect x="289.69" y="64.00" width="6.92" height="1.30" fill="#fadca9"/><rect x="296.32" y="64.00" width="6.92" height="1.30" fill="#f8e3b5"/><rect x="302.94" y="64.00" width="6.92" height="1.30" fill="#fbd7a1"/><rect x="309.56" y="64.00" width="6.92" height="1.30" fill="#fbd8a3"/><rect x="316.18" y="64.00" width="6.92" height="1.30" fill="#fad29c"/><rect x="322.81" y="64.00" width="6.92" height="1.30" fill="#fbd6a0"/><rect x="329.43" y="64.00" width="6.92" height="1.30" fill="#fadaa7"/><rect x="336.05" y="64.00" width="6.92" height="1.30" fill="#fbd7a1"/><rect x="342.68" y="64.00" width="6.92" height="1.30" fill="#fbd8a4"/><rect x="263.20" y="65.00" width="6.92" height="1.30" fill="#f7e8be"/><rect x="269.82" y="65.00" width="6.92" height="1.30" fill="#f6ebc4"/><rect x="276.45" y="65.00" width="6.92" height="1.30" fill="#f7eac1"/><rect x="283.07" y="65.00" width="6.92" height="1.30" fill="#f7eac1"/><rect x="289.69" y="65.00" width="6.92" height="1.30" fill="#f7eac1"/><rect x="296.32" y="65.00" width="6.92" height="1.30" fill="#f7ebc3"/><rect x="302.94" y="65.00" width="6.92" height="1.30" fill="#f8e6ba"/><rect x="309.56" y="65.00" width="6.92" height="1.30" fill="#f8e2b4"/><rect x="316.18" y="65.00" width="6.92" height="1.30" fill="#f9e1b2"/><rect x="322.81" y="65.00" width="6.92" height="1.30" fill="#f8e3b5"/><rect x="329.43" y="65.00" width="6.92" height="1.30" fill="#f8e4b8"/><rect x="336.05" y="65.00" width="6.92" height="1.30" fill="#f8e2b5"/><rect x="342.68" y="65.00" width="6.92" height="1.30" fill="#f9e2b4"/><rect x="263.20" y="66.00" width="6.92" height="1.30" fill="#f7eac2"/><rect x="269.82" y="66.00" width="6.92" height="1.30" fill="#f7eac1"/><rect x="276.45" y="66.00" width="6.92" height="1.30" fill="#f7e7bd"/><rect x="283.07" y="66.00" width="6.92" height="1.30" fill="#f6ecc4"/><rect x="289.69" y="66.00" width="6.92" height="1.30" fill="#f7ebc3"/><rect x="296.32" y="66.00" width="6.92" height="1.30" fill="#f6edc7"/><rect x="302.94" y="66.00" width="6.92" height="1.30" fill="#f8e4b8"/><rect x="309.56" y="66.00" width="6.92" height="1.30" fill="#f8e4b8"/><rect x="316.18" y="66.00" width="6.92" height="1.30" fill="#f8e4b8"/><rect x="322.81" y="66.00" width="6.92" height="1.30" fill="#f8e4b7"/><rect x="329.43" y="66.00" width="6.92" height="1.30" fill="#f9e0b0"/><rect x="336.05" y="66.00" width="6.92" height="1.30" fill="#f8e3b6"/><rect x="342.68" y="66.00" width="6.92" height="1.30" fill="#f8e3b6"/><rect x="263.20" y="67.00" width="6.92" height="1.30" fill="#f7e6bb"/><rect x="269.82" y="67.00" width="6.92" height="1.30" fill="#f7eac2"/><rect x="276.45" y="67.00" width="6.92" height="1.30" fill="#f6edc7"/><rect x="283.07" y="67.00" width="6.92" height="1.30" fill="#f7e9c1"/><rect x="289.69" y="67.00" width="6.92" height="1.30" fill="#f6ecc4"/><rect x="296.32" y="67.00" width="6.92" height="1.30" fill="#f7e7bd"/><rect x="302.94" y="67.00" width="6.92" height="1.30" fill="#f8e5b9"/><rect x="309.56" y="67.00" width="6.92" height="1.30" fill="#f8e4b8"/><rect x="316.18" y="67.00" width="6.92" height="1.30" fill="#f8e6ba"/><rect x="322.81" y="67.00" width="6.92" height="1.30" fill="#f8e3b6"/><rect x="329.43" y="67.00" width="6.92" height="1.30" fill="#f8e5b9"/><rect x="336.05" y="67.00" width="6.92" height="1.30" fill="#f8e3b6"/><rect x="342.68" y="67.00" width="6.92" height="1.30" fill="#f8e4b7"/><rect x="263.20" y="68.00" width="6.92" height="1.30" fill="#f6ebc4"/><rect x="269.82" y="68.00" width="6.92" height="1.30" fill="#f7e9bf"/><rect x="276.45" y="68.00" width="6.92" height="1.30" fill="#f7e9bf"/><rect x="283.07" y="68.00" width="6.92" height="1.30" fill="#f7eac2"/><rect x="289.69" y="68.00" width="6.92" height="1.30" fill="#f6ecc5"/><rect x="296.32" y="68.00" width="6.92" height="1.30" fill="#f6ecc5"/><rect x="302.94" y="68.00" width="6.92" height="1.30" fill="#f8e3b6"/><rect x="309.56" y="68.00" width="6.92" height="1.30" fill="#f9dfb0"/><rect x="316.18" y="68.00" width="6.92" height="1.30" fill="#f8e4b8"/><rect x="322.81" y="68.00" width="6.92" height="1.30" fill="#f8e5b9"/><rect x="329.43" y="68.00" width="6.92" height="1.30" fill="#f8e4b8"/><rect x="336.05" y="68.00" width="6.92" height="1.30" fill="#f8e5b9"/><rect x="342.68" y="68.00" width="6.92" height="1.30" fill="#f8e5b9"/><rect x="263.20" y="69.00" width="6.92" height="1.30" fill="#f7ebc3"/><rect x="269.82" y="69.00" width="6.92" height="1.30" fill="#f7e8be"/><rect x="276.45" y="69.00" width="6.92" height="1.30" fill="#f7ebc2"/><rect x="283.07" y="69.00" width="6.92" height="1.30" fill="#f6ebc4"/><rect x="289.69" y="69.00" width="6.92" height="1.30" fill="#f6edc7"/><rect x="296.32" y="69.00" width="6.92" height="1.30" fill="#f7eac2"/><rect x="302.94" y="69.00" width="6.92" height="1.30" fill="#f8e4b7"/><rect x="309.56" y="69.00" width="6.92" height="1.30" fill="#f8e6ba"/><rect x="316.18" y="69.00" width="6.92" height="1.30" fill="#f8e5ba"/><rect x="322.81" y="69.00" width="6.92" height="1.30" fill="#f8e4b7"/><rect x="329.43" y="69.00" width="6.92" height="1.30" fill="#f8e2b4"/><rect x="336.05" y="69.00" width="6.92" height="1.30" fill="#f8e2b5"/><rect x="342.68" y="69.00" width="6.92" height="1.30" fill="#f8e3b6"/><rect x="263.20" y="70.00" width="6.92" height="1.30" fill="#f6ebc4"/><rect x="269.82" y="70.00" width="6.92" height="1.30" fill="#f7eac2"/><rect x="276.45" y="70.00" width="6.92" height="1.30" fill="#f7ebc3"/><rect x="283.07" y="70.00" width="6.92" height="1.30" fill="#f7e7bd"/><rect x="289.69" y="70.00" width="6.92" height="1.30" fill="#f6edc6"/><rect x="296.32" y="70.00" width="6.92" height="1.30" fill="#f6ebc4"/><rect x="302.94" y="70.00" width="6.92" height="1.30" fill="#f9e2b4"/><rect x="309.56" y="70.00" width="6.92" height="1.30" fill="#f8e4b8"/><rect x="316.18" y="70.00" width="6.92" height="1.30" fill="#f9e1b3"/><rect x="322.81" y="70.00" width="6.92" height="1.30" fill="#f8e4b7"/><rect x="329.43" y="70.00" width="6.92" height="1.30" fill="#f8e4b7"/><rect x="336.05" y="70.00" width="6.92" height="1.30" fill="#f8e4b8"/><rect x="342.68" y="70.00" width="6.92" height="1.30" fill="#f8e6bb"/><rect x="263.20" y="71.00" width="6.92" height="1.30" fill="#f6edc6"/><rect x="269.82" y="71.00" width="6.92" height="1.30" fill="#f7e7bd"/><rect x="276.45" y="71.00" width="6.92" height="1.30" fill="#f7eac1"/><rect x="283.07" y="71.00" width="6.92" height="1.30" fill="#f7eac2"/><rect x="289.69" y="71.00" width="6.92" height="1.30" fill="#f7e9c1"/><rect x="296.32" y="71.00" width="6.92" height="1.30" fill="#f7eac2"/><rect x="302.94" y="71.00" width="6.92" height="1.30" fill="#f8e2b5"/><rect x="309.56" y="71.00" width="6.92" height="1.30" fill="#f8e4b8"/><rect x="316.18" y="71.00" width="6.92" height="1.30" fill="#f8e4b8"/><rect x="322.81" y="71.00" width="6.92" height="1.30" fill="#f8e2b5"/><rect x="329.43" y="71.00" width="6.92" height="1.30" fill="#f8e5b8"/><rect x="336.05" y="71.00" width="6.92" height="1.30" fill="#f8e6bb"/><rect x="342.68" y="71.00" width="6.92" height="1.30" fill="#f8e4b8"/><rect x="263.20" y="72.00" width="6.92" height="1.30" fill="#f6ecc5"/><rect x="269.82" y="72.00" width="6.92" height="1.30" fill="#f7eac2"/><rect x="276.45" y="72.00" width="6.92" height="1.30" fill="#f6ecc6"/><rect x="283.07" y="72.00" width="6.92" height="1.30" fill="#f6edc7"/><rect x="289.69" y="72.00" width="6.92" height="1.30" fill="#f6ecc5"/><rect x="296.32" y="72.00" width="6.92" height="1.30" fill="#f7e9bf"/><rect x="302.94" y="72.00" width="6.92" height="1.30" fill="#f8e4b8"/><rect x="309.56" y="72.00" width="6.92" height="1.30" fill="#f8e4b7"/><rect x="316.18" y="72.00" width="6.92" height="1.30" fill="#f8e4b8"/><rect x="322.81" y="72.00" width="6.92" height="1.30" fill="#f8e4b7"/><rect x="329.43" y="72.00" width="6.92" height="1.30" fill="#f8e3b5"/><rect x="336.05" y="72.00" width="6.92" height="1.30" fill="#f8e2b4"/><rect x="342.68" y="72.00" width="6.92" height="1.30" fill="#f7e7bd"/><rect x="263.20" y="73.00" width="6.92" height="1.30" fill="#f7e9c0"/><rect x="269.82" y="73.00" width="6.92" height="1.30" fill="#f6ebc4"/><rect x="276.45" y="73.00" width="6.92" height="1.30" fill="#f6ecc5"/><rect x="283.07" y="73.00" width="6.92" height="1.30" fill="#f7e7bd"/><rect x="289.69" y="73.00" width="6.92" height="1.30" fill="#f6ecc5"/><rect x="296.32" y="73.00" width="6.92" height="1.30" fill="#f7e8bf"/><rect x="302.94" y="73.00" width="6.92" height="1.30" fill="#f8e3b6"/><rect x="309.56" y="73.00" width="6.92" height="1.30" fill="#f8e6bb"/><rect x="316.18" y="73.00" width="6.92" height="1.30" fill="#f8e4b7"/><rect x="322.81" y="73.00" width="6.92" height="1.30" fill="#f8e3b6"/><rect x="329.43" y="73.00" width="6.92" height="1.30" fill="#f8e5b9"/><rect x="336.05" y="73.00" width="6.92" height="1.30" fill="#f7e8bf"/><rect x="342.68" y="73.00" width="6.92" height="1.30" fill="#f8e5b9"/><rect x="263.20" y="74.00" width="6.92" height="1.30" fill="#f6ecc5"/><rect x="269.82" y="74.00" width="6.92" height="1.30" fill="#f6eec8"/><rect x="276.45" y="74.00" width="6.92" height="1.30" fill="#f7e9bf"/><rect x="283.07" y="74.00" width="6.92" height="1.30" fill="#f6ecc5"/><rect x="289.69" y="74.00" width="6.92" height="1.30" fill="#f6ecc6"/><rect x="296.32" y="74.00" width="6.92" height="1.30" fill="#f6ecc5"/><rect x="302.94" y="74.00" width="6.92" height="1.30" fill="#f8e6bb"/><rect x="309.56" y="74.00" width="6.92" height="1.30" fill="#f8e6bb"/><rect x="316.18" y="74.00" width="6.92" height="1.30" fill="#f8e5b8"/><rect x="322.81" y="74.00" width="6.92" height="1.30" fill="#f8e4b8"/><rect x="329.43" y="74.00" width="6.92" height="1.30" fill="#f8e6ba"/><rect x="336.05" y="74.00" width="6.92" height="1.30" fill="#f8e5b9"/><rect x="342.68" y="74.00" width="6.92" height="1.30" fill="#f7e7bd"/><rect x="263.20" y="75.00" width="6.92" height="1.30" fill="#f6ebc3"/><rect x="269.82" y="75.00" width="6.92" height="1.30" fill="#f6edc7"/><rect x="276.45" y="75.00" width="6.92" height="1.30" fill="#f6ecc4"/><rect x="283.07" y="75.00" width="6.92" height="1.30" fill="#f6edc7"/><rect x="289.69" y="75.00" width="6.92" height="1.30" fill="#f6edc6"/><rect x="296.32" y="75.00" width="6.92" height="1.30" fill="#f6ecc4"/><rect x="302.94" y="75.00" width="6.92" height="1.30" fill="#f7e7bc"/><rect x="309.56" y="75.00" width="6.92" height="1.30" fill="#f9e1b2"/><rect x="316.18" y="75.00" width="6.92" height="1.30" fill="#f8e5b9"/><rect x="322.81" y="75.00" width="6.92" height="1.30" fill="#f8e5b9"/><rect x="329.43" y="75.00" width="6.92" height="1.30" fill="#f8e6bb"/><rect x="336.05" y="75.00" width="6.92" height="1.30" fill="#f8e2b5"/><rect x="342.68" y="75.00" width="6.92" height="1.30" fill="#f8e3b5"/><rect x="263.20" y="76.00" width="6.92" height="1.30" fill="#f6ecc4"/><rect x="269.82" y="76.00" width="6.92" height="1.30" fill="#f6eec9"/><rect x="276.45" y="76.00" width="6.92" height="1.30" fill="#f6edc7"/><rect x="283.07" y="76.00" width="6.92" height="1.30" fill="#f6ebc3"/><rect x="289.69" y="76.00" width="6.92" height="1.30" fill="#f6edc7"/><rect x="296.32" y="76.00" width="6.92" height="1.30" fill="#f6eec9"/><rect x="302.94" y="76.00" width="6.92" height="1.30" fill="#f7e7bd"/><rect x="309.56" y="76.00" width="6.92" height="1.30" fill="#f7e6bc"/><rect x="316.18" y="76.00" width="6.92" height="1.30" fill="#f8e5b9"/><rect x="322.81" y="76.00" width="6.92" height="1.30" fill="#f8e6bb"/><rect x="329.43" y="76.00" width="6.92" height="1.30" fill="#f8e5b9"/><rect x="336.05" y="76.00" width="6.92" height="1.30" fill="#f9e0b2"/><rect x="342.68" y="76.00" width="6.92" height="1.30" fill="#f8e2b4"/><rect x="263.20" y="77.00" width="6.92" height="1.30" fill="#f6eec9"/><rect x="269.82" y="77.00" width="6.92" height="1.30" fill="#f6ecc5"/><rect x="276.45" y="77.00" width="6.92" height="1.30" fill="#f6ecc5"/><rect x="283.07" y="77.00" width="6.92" height="1.30" fill="#f6edc6"/><rect x="289.69" y="77.00" width="6.92" height="1.30" fill="#f7ebc3"/><rect x="296.32" y="77.00" width="6.92" height="1.30" fill="#f6edc7"/><rect x="302.94" y="77.00" width="6.92" height="1.30" fill="#f8e6bb"/><rect x="309.56" y="77.00" width="6.92" height="1.30" fill="#f8e6bb"/><rect x="316.18" y="77.00" width="6.92" height="1.30" fill="#f8e6ba"/><rect x="322.81" y="77.00" width="6.92" height="1.30" fill="#f8e3b6"/><rect x="329.43" y="77.00" width="6.92" height="1.30" fill="#f8e4b8"/><rect x="336.05" y="77.00" width="6.92" height="1.30" fill="#f7e8be"/><rect x="342.68" y="77.00" width="6.92" height="1.30" fill="#f8e6bb"/><rect x="263.20" y="78.00" width="6.92" height="1.30" fill="#f6eec8"/><rect x="269.82" y="78.00" width="6.92" height="1.30" fill="#f6ebc4"/><rect x="276.45" y="78.00" width="6.92" height="1.30" fill="#f6ecc5"/><rect x="283.07" y="78.00" width="6.92" height="1.30" fill="#f6ebc3"/><rect x="289.69" y="78.00" width="6.92" height="1.30" fill="#f6edc6"/><rect x="296.32" y="78.00" width="6.92" height="1.30" fill="#f5f0cb"/><rect x="302.94" y="78.00" width="6.92" height="1.30" fill="#f8e5b9"/><rect x="309.56" y="78.00" width="6.92" height="1.30" fill="#f8e5ba"/><rect x="316.18" y="78.00" width="6.92" height="1.30" fill="#f8e5b9"/><rect x="322.81" y="78.00" width="6.92" height="1.30" fill="#f7e8be"/><rect x="329.43" y="78.00" width="6.92" height="1.30" fill="#f8e5ba"/><rect x="336.05" y="78.00" width="6.92" height="1.30" fill="#f7e7bc"/><rect x="342.68" y="78.00" width="6.92" height="1.30" fill="#f7e7bc"/><rect x="263.20" y="79.00" width="6.92" height="1.30" fill="#f6ecc5"/><rect x="269.82" y="79.00" width="6.92" height="1.30" fill="#f6ecc5"/><rect x="276.45" y="79.00" width="6.92" height="1.30" fill="#f6eec9"/><rect x="283.07" y="79.00" width="6.92" height="1.30" fill="#f5f0cb"/><rect x="289.69" y="79.00" width="6.92" height="1.30" fill="#f5f1cd"/><rect x="296.32" y="79.00" width="6.92" height="1.30" fill="#f6eec8"/><rect x="302.94" y="79.00" width="6.92" height="1.30" fill="#f8e4b7"/><rect x="309.56" y="79.00" width="6.92" height="1.30" fill="#f8e6bb"/><rect x="316.18" y="79.00" width="6.92" height="1.30" fill="#f7eac1"/><rect x="322.81" y="79.00" width="6.92" height="1.30" fill="#f7e7bd"/><rect x="329.43" y="79.00" width="6.92" height="1.30" fill="#f8e5b9"/><rect x="336.05" y="79.00" width="6.92" height="1.30" fill="#f8e3b6"/><rect x="342.68" y="79.00" width="6.92" height="1.30" fill="#f8e4b7"/><rect x="263.20" y="80.00" width="6.92" height="1.30" fill="#f6ecc6"/><rect x="269.82" y="80.00" width="6.92" height="1.30" fill="#f6edc6"/><rect x="276.45" y="80.00" width="6.92" height="1.30" fill="#f6efca"/><rect x="283.07" y="80.00" width="6.92" height="1.30" fill="#f6eec8"/><rect x="289.69" y="80.00" width="6.92" height="1.30" fill="#f6eec8"/><rect x="296.32" y="80.00" width="6.92" height="1.30" fill="#f6eec9"/><rect x="302.94" y="80.00" width="6.92" height="1.30" fill="#f8e6bb"/><rect x="309.56" y="80.00" width="6.92" height="1.30" fill="#f7e7bc"/><rect x="316.18" y="80.00" width="6.92" height="1.30" fill="#f8e6ba"/><rect x="322.81" y="80.00" width="6.92" height="1.30" fill="#f8e4b7"/><rect x="329.43" y="80.00" width="6.92" height="1.30" fill="#f8e5b9"/><rect x="336.05" y="80.00" width="6.92" height="1.30" fill="#f8e5ba"/><rect x="342.68" y="80.00" width="6.92" height="1.30" fill="#f7e7bc"/><rect x="263.20" y="81.00" width="6.92" height="1.30" fill="#f5f0cb"/><rect x="269.82" y="81.00" width="6.92" height="1.30" fill="#f6eec7"/><rect x="276.45" y="81.00" width="6.92" height="1.30" fill="#f6ecc6"/><rect x="283.07" y="81.00" width="6.92" height="1.30" fill="#f6efca"/><rect x="289.69" y="81.00" width="6.92" height="1.30" fill="#f6ebc4"/><rect x="296.32" y="81.00" width="6.92" height="1.30" fill="#f6eec8"/><rect x="302.94" y="81.00" width="6.92" height="1.30" fill="#f8e6ba"/><rect x="309.56" y="81.00" width="6.92" height="1.30" fill="#f7e7bc"/><rect x="316.18" y="81.00" width="6.92" height="1.30" fill="#f7e8bf"/><rect x="322.81" y="81.00" width="6.92" height="1.30" fill="#f8e3b6"/><rect x="329.43" y="81.00" width="6.92" height="1.30" fill="#f7e8bf"/><rect x="336.05" y="81.00" width="6.92" height="1.30" fill="#f8e5b9"/><rect x="342.68" y="81.00" width="6.92" height="1.30" fill="#f7e7bd"/><rect x="263.20" y="82.00" width="6.92" height="1.30" fill="#f6edc7"/><rect x="269.82" y="82.00" width="6.92" height="1.30" fill="#f6efca"/><rect x="276.45" y="82.00" width="6.92" height="1.30" fill="#f6eec9"/><rect x="283.07" y="82.00" width="6.92" height="1.30" fill="#f6ecc5"/><rect x="289.69" y="82.00" width="6.92" height="1.30" fill="#f7eac2"/><rect x="296.32" y="82.00" width="6.92" height="1.30" fill="#f6efca"/><rect x="302.94" y="82.00" width="6.92" height="1.30" fill="#f7e7bc"/><rect x="309.56" y="82.00" width="6.92" height="1.30" fill="#f8e5b9"/><rect x="316.18" y="82.00" width="6.92" height="1.30" fill="#f7e8be"/><rect x="322.81" y="82.00" width="6.92" height="1.30" fill="#f8e5ba"/><rect x="329.43" y="82.00" width="6.92" height="1.30" fill="#f7e8be"/><rect x="336.05" y="82.00" width="6.92" height="1.30" fill="#f8e6ba"/><rect x="342.68" y="82.00" width="6.92" height="1.30" fill="#f8e6bb"/><rect x="263.20" y="83.00" width="6.92" height="1.30" fill="#f6ecc5"/><rect x="269.82" y="83.00" width="6.92" height="1.30" fill="#f6edc7"/><rect x="276.45" y="83.00" width="6.92" height="1.30" fill="#f5f0cb"/><rect x="283.07" y="83.00" width="6.92" height="1.30" fill="#f6edc6"/><rect x="289.69" y="83.00" width="6.92" height="1.30" fill="#f6f0cb"/><rect x="296.32" y="83.00" width="6.92" height="1.30" fill="#f6edc6"/><rect x="302.94" y="83.00" width="6.92" height="1.30" fill="#f8e4b8"/><rect x="309.56" y="83.00" width="6.92" height="1.30" fill="#f8e6bb"/><rect x="316.18" y="83.00" width="6.92" height="1.30" fill="#f7e8be"/><rect x="322.81" y="83.00" width="6.92" height="1.30" fill="#f8e5b9"/><rect x="329.43" y="83.00" width="6.92" height="1.30" fill="#f7e7bc"/><rect x="336.05" y="83.00" width="6.92" height="1.30" fill="#f7e9c0"/><rect x="342.68" y="83.00" width="6.92" height="1.30" fill="#f7e7bd"/><rect x="263.20" y="84.00" width="6.92" height="1.30" fill="#f6ecc4"/><rect x="269.82" y="84.00" width="6.92" height="1.30" fill="#f6efc9"/><rect x="276.45" y="84.00" width="6.92" height="1.30" fill="#f6eec8"/><rect x="283.07" y="84.00" width="6.92" height="1.30" fill="#f6efc9"/><rect x="289.69" y="84.00" width="6.92" height="1.30" fill="#f5f1cd"/><rect x="296.32" y="84.00" width="6.92" height="1.30" fill="#f6efca"/><rect x="302.94" y="84.00" width="6.92" height="1.30" fill="#f7e6bc"/><rect x="309.56" y="84.00" width="6.92" height="1.30" fill="#f7e7bc"/><rect x="316.18" y="84.00" width="6.92" height="1.30" fill="#f7e7bd"/><rect x="322.81" y="84.00" width="6.92" height="1.30" fill="#f7ebc3"/><rect x="329.43" y="84.00" width="6.92" height="1.30" fill="#f8e5b9"/><rect x="336.05" y="84.00" width="6.92" height="1.30" fill="#f8e6bb"/><rect x="342.68" y="84.00" width="6.92" height="1.30" fill="#f8e5ba"/><rect x="263.20" y="85.00" width="6.92" height="1.30" fill="#f6ecc5"/><rect x="269.82" y="85.00" width="6.92" height="1.30" fill="#f6efca"/><rect x="276.45" y="85.00" width="6.92" height="1.30" fill="#f6efca"/><rect x="283.07" y="85.00" width="6.92" height="1.30" fill="#f6eec8"/><rect x="289.69" y="85.00" width="6.92" height="1.30" fill="#f6ebc4"/><rect x="296.32" y="85.00" width="6.92" height="1.30" fill="#f5f1cd"/><rect x="302.94" y="85.00" width="6.92" height="1.30" fill="#f7e8be"/><rect x="309.56" y="85.00" width="6.92" height="1.30" fill="#f7e8bf"/><rect x="316.18" y="85.00" width="6.92" height="1.30" fill="#f8e6bb"/><rect x="322.81" y="85.00" width="6.92" height="1.30" fill="#f8e5b9"/><rect x="329.43" y="85.00" width="6.92" height="1.30" fill="#f7e8be"/><rect x="336.05" y="85.00" width="6.92" height="1.30" fill="#f7e9c0"/><rect x="342.68" y="85.00" width="6.92" height="1.30" fill="#f7e7bd"/><rect x="263.20" y="86.00" width="6.92" height="1.30" fill="#f6efca"/><rect x="269.82" y="86.00" width="6.92" height="1.30" fill="#f5f1cd"/><rect x="276.45" y="86.00" width="6.92" height="1.30" fill="#f6edc7"/><rect x="283.07" y="86.00" width="6.92" height="1.30" fill="#f6efcb"/><rect x="289.69" y="86.00" width="6.92" height="1.30" fill="#f6edc7"/><rect x="296.32" y="86.00" width="6.92" height="1.30" fill="#f5f1cd"/><rect x="302.94" y="86.00" width="6.92" height="1.30" fill="#f8e6ba"/><rect x="309.56" y="86.00" width="6.92" height="1.30" fill="#f7eac1"/><rect x="316.18" y="86.00" width="6.92" height="1.30" fill="#f8e6ba"/><rect x="322.81" y="86.00" width="6.92" height="1.30" fill="#f7ebc2"/><rect x="329.43" y="86.00" width="6.92" height="1.30" fill="#f8e5b9"/><rect x="336.05" y="86.00" width="6.92" height="1.30" fill="#f7e8be"/><rect x="342.68" y="86.00" width="6.92" height="1.30" fill="#f7eac2"/><rect x="263.20" y="87.00" width="6.92" height="1.30" fill="#f6efca"/><rect x="269.82" y="87.00" width="6.92" height="1.30" fill="#f6eec9"/><rect x="276.45" y="87.00" width="6.92" height="1.30" fill="#f5f0cc"/><rect x="283.07" y="87.00" width="6.92" height="1.30" fill="#f6f0cb"/><rect x="289.69" y="87.00" width="6.92" height="1.30" fill="#f6eec9"/><rect x="296.32" y="87.00" width="6.92" height="1.30" fill="#f6efca"/><rect x="302.94" y="87.00" width="6.92" height="1.30" fill="#f6edc6"/><rect x="309.56" y="87.00" width="6.92" height="1.30" fill="#f7e8bf"/><rect x="316.18" y="87.00" width="6.92" height="1.30" fill="#f7e7bd"/><rect x="322.81" y="87.00" width="6.92" height="1.30" fill="#f7e7bd"/><rect x="329.43" y="87.00" width="6.92" height="1.30" fill="#f8e6bb"/><rect x="336.05" y="87.00" width="6.92" height="1.30" fill="#f7e9c0"/><rect x="342.68" y="87.00" width="6.92" height="1.30" fill="#f8e3b7"/><rect x="263.20" y="88.00" width="6.92" height="1.30" fill="#f6eec8"/><rect x="269.82" y="88.00" width="6.92" height="1.30" fill="#f6eec9"/><rect x="276.45" y="88.00" width="6.92" height="1.30" fill="#f6edc7"/><rect x="283.07" y="88.00" width="6.92" height="1.30" fill="#f6edc7"/><rect x="289.69" y="88.00" width="6.92" height="1.30" fill="#f6efca"/><rect x="296.32" y="88.00" width="6.92" height="1.30" fill="#f5f0cc"/><rect x="302.94" y="88.00" width="6.92" height="1.30" fill="#f8e6bb"/><rect x="309.56" y="88.00" width="6.92" height="1.30" fill="#f7e7bd"/><rect x="316.18" y="88.00" width="6.92" height="1.30" fill="#f6ebc3"/><rect x="322.81" y="88.00" width="6.92" height="1.30" fill="#f7eac1"/><rect x="329.43" y="88.00" width="6.92" height="1.30" fill="#f7e7bd"/><rect x="336.05" y="88.00" width="6.92" height="1.30" fill="#f7e8be"/><rect x="342.68" y="88.00" width="6.92" height="1.30" fill="#f7e7bd"/><rect x="263.20" y="89.00" width="6.92" height="1.30" fill="#f6eec8"/><rect x="269.82" y="89.00" width="6.92" height="1.30" fill="#f6efca"/><rect x="276.45" y="89.00" width="6.92" height="1.30" fill="#f6edc6"/><rect x="283.07" y="89.00" width="6.92" height="1.30" fill="#f5f0cc"/><rect x="289.69" y="89.00" width="6.92" height="1.30" fill="#f5f0cb"/><rect x="296.32" y="89.00" width="6.92" height="1.30" fill="#f6efc9"/><rect x="302.94" y="89.00" width="6.92" height="1.30" fill="#f7e7bc"/><rect x="309.56" y="89.00" width="6.92" height="1.30" fill="#f7e7bc"/><rect x="316.18" y="89.00" width="6.92" height="1.30" fill="#f8e6ba"/><rect x="322.81" y="89.00" width="6.92" height="1.30" fill="#f7e9c0"/><rect x="329.43" y="89.00" width="6.92" height="1.30" fill="#f8e6bb"/><rect x="336.05" y="89.00" width="6.92" height="1.30" fill="#f7e7bd"/><rect x="342.68" y="89.00" width="6.92" height="1.30" fill="#f7eac1"/><rect x="263.20" y="90.00" width="6.92" height="1.30" fill="#f6f0cb"/><rect x="269.82" y="90.00" width="6.92" height="1.30" fill="#f6ecc5"/><rect x="276.45" y="90.00" width="6.92" height="1.30" fill="#f6eec8"/><rect x="283.07" y="90.00" width="6.92" height="1.30" fill="#f5f0cc"/><rect x="289.69" y="90.00" width="6.92" height="1.30" fill="#f3f2d1"/><rect x="296.32" y="90.00" width="6.92" height="1.30" fill="#f5f1cd"/><rect x="302.94" y="90.00" width="6.92" height="1.30" fill="#f7eac1"/><rect x="309.56" y="90.00" width="6.92" height="1.30" fill="#f7e8bf"/><rect x="316.18" y="90.00" width="6.92" height="1.30" fill="#f8e5b8"/><rect x="322.81" y="90.00" width="6.92" height="1.30" fill="#f7e7bd"/><rect x="329.43" y="90.00" width="6.92" height="1.30" fill="#f7e8be"/><rect x="336.05" y="90.00" width="6.92" height="1.30" fill="#f7eac2"/><rect x="342.68" y="90.00" width="6.92" height="1.30" fill="#f7eac2"/><rect x="263.20" y="91.00" width="6.92" height="1.30" fill="#f5f0cc"/><rect x="269.82" y="91.00" width="6.92" height="1.30" fill="#f5f0cc"/><rect x="276.45" y="91.00" width="6.92" height="1.30" fill="#f7ebc3"/><rect x="283.07" y="91.00" width="6.92" height="1.30" fill="#f5f0cc"/><rect x="289.69" y="91.00" width="6.92" height="1.30" fill="#f5f1cd"/><rect x="296.32" y="91.00" width="6.92" height="1.30" fill="#f6eec8"/><rect x="302.94" y="91.00" width="6.92" height="1.30" fill="#f7e9bf"/><rect x="309.56" y="91.00" width="6.92" height="1.30" fill="#f7ebc3"/><rect x="316.18" y="91.00" width="6.92" height="1.30" fill="#f7e7bc"/><rect x="322.81" y="91.00" width="6.92" height="1.30" fill="#f7e9c0"/><rect x="329.43" y="91.00" width="6.92" height="1.30" fill="#f7ebc3"/><rect x="336.05" y="91.00" width="6.92" height="1.30" fill="#f7e8be"/><rect x="342.68" y="91.00" width="6.92" height="1.30" fill="#f7e8be"/><rect x="263.20" y="92.00" width="6.92" height="1.30" fill="#f5f0cc"/><rect x="269.82" y="92.00" width="6.92" height="1.30" fill="#f6efca"/><rect x="276.45" y="92.00" width="6.92" height="1.30" fill="#f6efc9"/><rect x="283.07" y="92.00" width="6.92" height="1.30" fill="#f5f1ce"/><rect x="289.69" y="92.00" width="6.92" height="1.30" fill="#f3f2d1"/><rect x="296.32" y="92.00" width="6.92" height="1.30" fill="#f2f2d1"/><rect x="302.94" y="92.00" width="6.92" height="1.30" fill="#f7e9c0"/><rect x="309.56" y="92.00" width="6.92" height="1.30" fill="#f7e7bc"/><rect x="316.18" y="92.00" width="6.92" height="1.30" fill="#f7e7bd"/><rect x="322.81" y="92.00" width="6.92" height="1.30" fill="#f7e7bc"/><rect x="329.43" y="92.00" width="6.92" height="1.30" fill="#f8e6ba"/><rect x="336.05" y="92.00" width="6.92" height="1.30" fill="#f7e9c0"/><rect x="342.68" y="92.00" width="6.92" height="1.30" fill="#f7e7bd"/><rect x="263.20" y="93.00" width="6.92" height="1.30" fill="#f4f2d0"/><rect x="269.82" y="93.00" width="6.92" height="1.30" fill="#f6efca"/><rect x="276.45" y="93.00" width="6.92" height="1.30" fill="#f6efcb"/><rect x="283.07" y="93.00" width="6.92" height="1.30" fill="#f5f0cc"/><rect x="289.69" y="93.00" width="6.92" height="1.30" fill="#f5f1cd"/><rect x="296.32" y="93.00" width="6.92" height="1.30" fill="#f5f2cf"/><rect x="302.94" y="93.00" width="6.92" height="1.30" fill="#f7e9c0"/><rect x="309.56" y="93.00" width="6.92" height="1.30" fill="#f7e7bd"/><rect x="316.18" y="93.00" width="6.92" height="1.30" fill="#f7eac1"/><rect x="322.81" y="93.00" width="6.92" height="1.30" fill="#f7e8bf"/><rect x="329.43" y="93.00" width="6.92" height="1.30" fill="#f7eac2"/><rect x="336.05" y="93.00" width="6.92" height="1.30" fill="#f7e9bf"/><rect x="342.68" y="93.00" width="6.92" height="1.30" fill="#f7ebc3"/><rect x="263.20" y="94.00" width="6.92" height="1.30" fill="#f5f0cb"/><rect x="269.82" y="94.00" width="6.92" height="1.30" fill="#f5f1cd"/><rect x="276.45" y="94.00" width="6.92" height="1.30" fill="#f5f0cb"/><rect x="283.07" y="94.00" width="6.92" height="1.30" fill="#f5f1ce"/><rect x="289.69" y="94.00" width="6.92" height="1.30" fill="#f5f2cf"/><rect x="296.32" y="94.00" width="6.92" height="1.30" fill="#f5f1cd"/><rect x="302.94" y="94.00" width="6.92" height="1.30" fill="#f7e8be"/><rect x="309.56" y="94.00" width="6.92" height="1.30" fill="#f7e7bc"/><rect x="316.18" y="94.00" width="6.92" height="1.30" fill="#f7eac1"/><rect x="322.81" y="94.00" width="6.92" height="1.30" fill="#f7e8be"/><rect x="329.43" y="94.00" width="6.92" height="1.30" fill="#f7e8be"/><rect x="336.05" y="94.00" width="6.92" height="1.30" fill="#f7e9bf"/><rect x="342.68" y="94.00" width="6.92" height="1.30" fill="#f6ecc5"/><rect x="263.20" y="95.00" width="6.92" height="1.30" fill="#f8e6bb"/><rect x="269.82" y="95.00" width="6.92" height="1.30" fill="#f7e8bf"/><rect x="276.45" y="95.00" width="6.92" height="1.30" fill="#f8e5b9"/><rect x="283.07" y="95.00" width="6.92" height="1.30" fill="#f8e5ba"/><rect x="289.69" y="95.00" width="6.92" height="1.30" fill="#f8e6ba"/><rect x="296.32" y="95.00" width="6.92" height="1.30" fill="#f6ebc3"/><rect x="302.94" y="95.00" width="6.92" height="1.30" fill="#f7e7bd"/><rect x="309.56" y="95.00" width="6.92" height="1.30" fill="#f7e7bd"/><rect x="316.18" y="95.00" width="6.92" height="1.30" fill="#f7eac2"/><rect x="322.81" y="95.00" width="6.92" height="1.30" fill="#f7e7bc"/><rect x="329.43" y="95.00" width="6.92" height="1.30" fill="#f7e8be"/><rect x="336.05" y="95.00" width="6.92" height="1.30" fill="#f7e9bf"/><rect x="342.68" y="95.00" width="6.92" height="1.30" fill="#f7e9c1"/><rect x="263.20" y="96.00" width="6.92" height="1.30" fill="#f7e9bf"/><rect x="269.82" y="96.00" width="6.92" height="1.30" fill="#f7e8bd"/><rect x="276.45" y="96.00" width="6.92" height="1.30" fill="#f9e2b3"/><rect x="283.07" y="96.00" width="6.92" height="1.30" fill="#f7e6bc"/><rect x="289.69" y="96.00" width="6.92" height="1.30" fill="#f7e6bc"/><rect x="296.32" y="96.00" width="6.92" height="1.30" fill="#f7e8be"/><rect x="302.94" y="96.00" width="6.92" height="1.30" fill="#f7e9c0"/><rect x="309.56" y="96.00" width="6.92" height="1.30" fill="#f7e9c0"/><rect x="316.18" y="96.00" width="6.92" height="1.30" fill="#f7eac1"/><rect x="322.81" y="96.00" width="6.92" height="1.30" fill="#f7e7bc"/><rect x="329.43" y="96.00" width="6.92" height="1.30" fill="#f7e9bf"/><rect x="336.05" y="96.00" width="6.92" height="1.30" fill="#f7e7bc"/><rect x="342.68" y="96.00" width="6.92" height="1.30" fill="#f7eac2"/><rect x="263.20" y="97.00" width="6.92" height="1.30" fill="#f8e5ba"/><rect x="269.82" y="97.00" width="6.92" height="1.30" fill="#f7e7bc"/><rect x="276.45" y="97.00" width="6.92" height="1.30" fill="#f8e6ba"/><rect x="283.07" y="97.00" width="6.92" height="1.30" fill="#f7e7bc"/><rect x="289.69" y="97.00" width="6.92" height="1.30" fill="#f7e8bf"/><rect x="296.32" y="97.00" width="6.92" height="1.30" fill="#f8e5b9"/><rect x="302.94" y="97.00" width="6.92" height="1.30" fill="#f7e9c0"/><rect x="309.56" y="97.00" width="6.92" height="1.30" fill="#f7e8bf"/><rect x="316.18" y="97.00" width="6.92" height="1.30" fill="#f7eac1"/><rect x="322.81" y="97.00" width="6.92" height="1.30" fill="#f7e8be"/><rect x="329.43" y="97.00" width="6.92" height="1.30" fill="#f7e9c0"/><rect x="336.05" y="97.00" width="6.92" height="1.30" fill="#f7e8be"/><rect x="342.68" y="97.00" width="6.92" height="1.30" fill="#f7e8be"/><rect x="263.20" y="98.00" width="6.92" height="1.30" fill="#f7e8be"/><rect x="269.82" y="98.00" width="6.92" height="1.30" fill="#f7e9c0"/><rect x="276.45" y="98.00" width="6.92" height="1.30" fill="#f8e6bb"/><rect x="283.07" y="98.00" width="6.92" height="1.30" fill="#f8e5ba"/><rect x="289.69" y="98.00" width="6.92" height="1.30" fill="#f8e6ba"/><rect x="296.32" y="98.00" width="6.92" height="1.30" fill="#f7e9bf"/><rect x="302.94" y="98.00" width="6.92" height="1.30" fill="#f7e7bd"/><rect x="309.56" y="98.00" width="6.92" height="1.30" fill="#f7e8bd"/><rect x="316.18" y="98.00" width="6.92" height="1.30" fill="#f7e8be"/><rect x="322.81" y="98.00" width="6.92" height="1.30" fill="#f7e7bd"/><rect x="329.43" y="98.00" width="6.92" height="1.30" fill="#f7e9bf"/><rect x="336.05" y="98.00" width="6.92" height="1.30" fill="#f7e8be"/><rect x="342.68" y="98.00" width="6.92" height="1.30" fill="#f7e7bc"/><rect x="263.20" y="99.00" width="6.92" height="1.30" fill="#f7e8be"/><rect x="269.82" y="99.00" width="6.92" height="1.30" fill="#f7e9c0"/><rect x="276.45" y="99.00" width="6.92" height="1.30" fill="#f7e7bc"/><rect x="283.07" y="99.00" width="6.92" height="1.30" fill="#f7e6bc"/><rect x="289.69" y="99.00" width="6.92" height="1.30" fill="#f7eac1"/><rect x="296.32" y="99.00" width="6.92" height="1.30" fill="#f7e8be"/><rect x="302.94" y="99.00" width="6.92" height="1.30" fill="#f7e7bd"/><rect x="309.56" y="99.00" width="6.92" height="1.30" fill="#f7e8bf"/><rect x="316.18" y="99.00" width="6.92" height="1.30" fill="#f7e8be"/><rect x="322.81" y="99.00" width="6.92" height="1.30" fill="#f7eac2"/><rect x="329.43" y="99.00" width="6.92" height="1.30" fill="#f7e7bc"/><rect x="336.05" y="99.00" width="6.92" height="1.30" fill="#f8e5ba"/><rect x="342.68" y="99.00" width="6.92" height="1.30" fill="#f7e9bf"/><rect x="263.20" y="100.00" width="6.92" height="1.30" fill="#d4edeb"/><rect x="269.82" y="100.00" width="6.92" height="1.30" fill="#d3edec"/><rect x="276.45" y="100.00" width="6.92" height="1.30" fill="#d8eee8"/><rect x="283.07" y="100.00" width="6.92" height="1.30" fill="#d6ede9"/><rect x="289.69" y="100.00" width="6.92" height="1.30" fill="#d4edeb"/><rect x="296.32" y="100.00" width="6.92" height="1.30" fill="#d9eee7"/><rect x="302.94" y="100.00" width="6.92" height="1.30" fill="#f1f1d2"/><rect x="309.56" y="100.00" width="6.92" height="1.30" fill="#f1f1d3"/><rect x="316.18" y="100.00" width="6.92" height="1.30" fill="#ebf0d7"/><rect x="322.81" y="100.00" width="6.92" height="1.30" fill="#eff1d4"/><rect x="329.43" y="100.00" width="6.92" height="1.30" fill="#f1f1d3"/><rect x="336.05" y="100.00" width="6.92" height="1.30" fill="#ecf1d6"/><rect x="342.68" y="100.00" width="6.92" height="1.30" fill="#f1f1d2"/><rect x="263.20" y="101.00" width="6.92" height="1.30" fill="#d9eee7"/><rect x="269.82" y="101.00" width="6.92" height="1.30" fill="#d8eee7"/><rect x="276.45" y="101.00" width="6.92" height="1.30" fill="#d4edeb"/><rect x="283.07" y="101.00" width="6.92" height="1.30" fill="#d4edeb"/><rect x="289.69" y="101.00" width="6.92" height="1.30" fill="#d8eee8"/><rect x="296.32" y="101.00" width="6.92" height="1.30" fill="#d8eee7"/><rect x="302.94" y="101.00" width="6.92" height="1.30" fill="#f2f2d2"/><rect x="309.56" y="101.00" width="6.92" height="1.30" fill="#f2f2d2"/><rect x="316.18" y="101.00" width="6.92" height="1.30" fill="#eff1d4"/><rect x="322.81" y="101.00" width="6.92" height="1.30" fill="#eef1d5"/><rect x="329.43" y="101.00" width="6.92" height="1.30" fill="#ebf0d8"/><rect x="336.05" y="101.00" width="6.92" height="1.30" fill="#f1f1d2"/><rect x="342.68" y="101.00" width="6.92" height="1.30" fill="#f4f2cf"/><rect x="263.20" y="102.00" width="6.92" height="1.30" fill="#d5edea"/><rect x="269.82" y="102.00" width="6.92" height="1.30" fill="#d5edea"/><rect x="276.45" y="102.00" width="6.92" height="1.30" fill="#d7ede8"/><rect x="283.07" y="102.00" width="6.92" height="1.30" fill="#d7ede9"/><rect x="289.69" y="102.00" width="6.92" height="1.30" fill="#d3edec"/><rect x="296.32" y="102.00" width="6.92" height="1.30" fill="#79beda"/><rect x="302.94" y="102.00" width="6.92" height="1.30" fill="#edf1d6"/><rect x="309.56" y="102.00" width="6.92" height="1.30" fill="#f4f2d0"/><rect x="316.18" y="102.00" width="6.92" height="1.30" fill="#edf1d5"/><rect x="322.81" y="102.00" width="6.92" height="1.30" fill="#f1f1d2"/><rect x="329.43" y="102.00" width="6.92" height="1.30" fill="#f4f2d0"/><rect x="336.05" y="102.00" width="6.92" height="1.30" fill="#f4f2d0"/><rect x="342.68" y="102.00" width="6.92" height="1.30" fill="#f2f2d1"/><rect x="263.20" y="103.00" width="6.92" height="1.30" fill="#daeee6"/><rect x="269.82" y="103.00" width="6.92" height="1.30" fill="#d3edec"/><rect x="276.45" y="103.00" width="6.92" height="1.30" fill="#d5edea"/><rect x="283.07" y="103.00" width="6.92" height="1.30" fill="#d4edeb"/><rect x="289.69" y="103.00" width="6.92" height="1.30" fill="#d5edea"/><rect x="296.32" y="103.00" width="6.92" height="1.30" fill="#dceee4"/><rect x="302.94" y="103.00" width="6.92" height="1.30" fill="#ebf0d7"/><rect x="309.56" y="103.00" width="6.92" height="1.30" fill="#f0f1d3"/><rect x="316.18" y="103.00" width="6.92" height="1.30" fill="#ecf1d6"/><rect x="322.81" y="103.00" width="6.92" height="1.30" fill="#f2f2d1"/><rect x="329.43" y="103.00" width="6.92" height="1.30" fill="#f2f2d1"/><rect x="336.05" y="103.00" width="6.92" height="1.30" fill="#eef1d5"/><rect x="342.68" y="103.00" width="6.92" height="1.30" fill="#f4f2d0"/><rect x="263.20" y="104.00" width="6.92" height="1.30" fill="#d6ede9"/><rect x="269.82" y="104.00" width="6.92" height="1.30" fill="#d9eee7"/><rect x="276.45" y="104.00" width="6.92" height="1.30" fill="#d7ede9"/><rect x="283.07" y="104.00" width="6.92" height="1.30" fill="#d4edeb"/><rect x="289.69" y="104.00" width="6.92" height="1.30" fill="#d5edea"/><rect x="296.32" y="104.00" width="6.92" height="1.30" fill="#d6edea"/><rect x="302.94" y="104.00" width="6.92" height="1.30" fill="#f1f1d3"/><rect x="309.56" y="104.00" width="6.92" height="1.30" fill="#eff1d4"/><rect x="316.18" y="104.00" width="6.92" height="1.30" fill="#f5f2cf"/><rect x="322.81" y="104.00" width="6.92" height="1.30" fill="#eff1d4"/><rect x="329.43" y="104.00" width="6.92" height="1.30" fill="#eef1d5"/><rect x="336.05" y="104.00" width="6.92" height="1.30" fill="#edf1d5"/><rect x="342.68" y="104.00" width="6.92" height="1.30" fill="#edf1d5"/><rect x="263.20" y="105.00" width="6.92" height="1.30" fill="#d2edec"/><rect x="269.82" y="105.00" width="6.92" height="1.30" fill="#d3edeb"/><rect x="276.45" y="105.00" width="6.92" height="1.30" fill="#d8eee8"/><rect x="283.07" y="105.00" width="6.92" height="1.30" fill="#d6ede9"/><rect x="289.69" y="105.00" width="6.92" height="1.30" fill="#d5edea"/><rect x="296.32" y="105.00" width="6.92" height="1.30" fill="#d7ede9"/><rect x="302.94" y="105.00" width="6.92" height="1.30" fill="#f2f1d2"/><rect x="309.56" y="105.00" width="6.92" height="1.30" fill="#f1f1d3"/><rect x="316.18" y="105.00" width="6.92" height="1.30" fill="#f1f1d2"/><rect x="322.81" y="105.00" width="6.92" height="1.30" fill="#eef1d5"/><rect x="329.43" y="105.00" width="6.92" height="1.30" fill="#eff1d4"/><rect x="336.05" y="105.00" width="6.92" height="1.30" fill="#edf1d5"/><rect x="342.68" y="105.00" width="6.92" height="1.30" fill="#eff1d4"/><rect x="263.20" y="106.00" width="6.92" height="1.30" fill="#e9f0d9"/><rect x="269.82" y="106.00" width="6.92" height="1.30" fill="#eaf0d8"/><rect x="276.45" y="106.00" width="6.92" height="1.30" fill="#ebf0d8"/><rect x="283.07" y="106.00" width="6.92" height="1.30" fill="#ebf0d8"/><rect x="289.69" y="106.00" width="6.92" height="1.30" fill="#ebf0d8"/><rect x="296.32" y="106.00" width="6.92" height="1.30" fill="#eaf0d8"/><rect x="302.94" y="106.00" width="6.92" height="1.30" fill="#f4f2d0"/><rect x="309.56" y="106.00" width="6.92" height="1.30" fill="#f0f1d3"/><rect x="316.18" y="106.00" width="6.92" height="1.30" fill="#eff1d4"/><rect x="322.81" y="106.00" width="6.92" height="1.30" fill="#f2f1d2"/><rect x="329.43" y="106.00" width="6.92" height="1.30" fill="#eff1d4"/><rect x="336.05" y="106.00" width="6.92" height="1.30" fill="#eff1d4"/><rect x="342.68" y="106.00" width="6.92" height="1.30" fill="#f1f1d2"/><rect x="263.20" y="107.00" width="6.92" height="1.30" fill="#e7f0db"/><rect x="269.82" y="107.00" width="6.92" height="1.30" fill="#e4efde"/><rect x="276.45" y="107.00" width="6.92" height="1.30" fill="#ecf1d7"/><rect x="283.07" y="107.00" width="6.92" height="1.30" fill="#eef1d5"/><rect x="289.69" y="107.00" width="6.92" height="1.30" fill="#e7f0db"/><rect x="296.32" y="107.00" width="6.92" height="1.30" fill="#e9f0d9"/><rect x="302.94" y="107.00" width="6.92" height="1.30" fill="#f2f2d1"/><rect x="309.56" y="107.00" width="6.92" height="1.30" fill="#ecf1d6"/><rect x="316.18" y="107.00" width="6.92" height="1.30" fill="#eff1d4"/><rect x="322.81" y="107.00" width="6.92" height="1.30" fill="#eef1d5"/><rect x="329.43" y="107.00" width="6.92" height="1.30" fill="#f1f1d3"/><rect x="336.05" y="107.00" width="6.92" height="1.30" fill="#ecf1d6"/><rect x="342.68" y="107.00" width="6.92" height="1.30" fill="#f3f2d1"/><rect x="263.20" y="108.00" width="6.92" height="1.30" fill="#ebf0d8"/><rect x="269.82" y="108.00" width="6.92" height="1.30" fill="#ecf1d7"/><rect x="276.45" y="108.00" width="6.92" height="1.30" fill="#eaf0d8"/><rect x="283.07" y="108.00" width="6.92" height="1.30" fill="#e6f0db"/><rect x="289.69" y="108.00" width="6.92" height="1.30" fill="#ebf0d8"/><rect x="296.32" y="108.00" width="6.92" height="1.30" fill="#e8f0da"/><rect x="302.94" y="108.00" width="6.92" height="1.30" fill="#f1f1d2"/><rect x="309.56" y="108.00" width="6.92" height="1.30" fill="#eff1d4"/><rect x="316.18" y="108.00" width="6.92" height="1.30" fill="#f0f1d3"/><rect x="322.81" y="108.00" width="6.92" height="1.30" fill="#f1f1d3"/><rect x="329.43" y="108.00" width="6.92" height="1.30" fill="#f3f2d1"/><rect x="336.05" y="108.00" width="6.92" height="1.30" fill="#f3f2d1"/><rect x="342.68" y="108.00" width="6.92" height="1.30" fill="#eff1d4"/><rect x="263.20" y="109.00" width="6.92" height="1.30" fill="#ebf0d7"/><rect x="269.82" y="109.00" width="6.92" height="1.30" fill="#eff1d4"/><rect x="276.45" y="109.00" width="6.92" height="1.30" fill="#ecf1d6"/><rect x="283.07" y="109.00" width="6.92" height="1.30" fill="#eaf0d9"/><rect x="289.69" y="109.00" width="6.92" height="1.30" fill="#ebf0d7"/><rect x="296.32" y="109.00" width="6.92" height="1.30" fill="#eaf0d8"/><rect x="302.94" y="109.00" width="6.92" height="1.30" fill="#f3f2d0"/><rect x="309.56" y="109.00" width="6.92" height="1.30" fill="#f1f1d2"/><rect x="316.18" y="109.00" width="6.92" height="1.30" fill="#f2f2d2"/><rect x="322.81" y="109.00" width="6.92" height="1.30" fill="#f5f1cd"/><rect x="329.43" y="109.00" width="6.92" height="1.30" fill="#eef1d5"/><rect x="336.05" y="109.00" width="6.92" height="1.30" fill="#eff1d4"/><rect x="342.68" y="109.00" width="6.92" height="1.30" fill="#edf1d6"/><rect x="263.20" y="110.00" width="6.92" height="1.30" fill="#e8f0da"/><rect x="269.82" y="110.00" width="6.92" height="1.30" fill="#edf1d6"/><rect x="276.45" y="110.00" width="6.92" height="1.30" fill="#ecf1d7"/><rect x="283.07" y="110.00" width="6.92" height="1.30" fill="#eff1d4"/><rect x="289.69" y="110.00" width="6.92" height="1.30" fill="#e7f0db"/><rect x="296.32" y="110.00" width="6.92" height="1.30" fill="#e9f0d9"/><rect x="302.94" y="110.00" width="6.92" height="1.30" fill="#f4f2cf"/><rect x="309.56" y="110.00" width="6.92" height="1.30" fill="#f4f2d0"/><rect x="316.18" y="110.00" width="6.92" height="1.30" fill="#f3f2d1"/><rect x="322.81" y="110.00" width="6.92" height="1.30" fill="#f3f2d1"/><rect x="329.43" y="110.00" width="6.92" height="1.30" fill="#f1f1d2"/><rect x="336.05" y="110.00" width="6.92" height="1.30" fill="#f1f1d2"/><rect x="342.68" y="110.00" width="6.92" height="1.30" fill="#f1f1d2"/><rect x="263.20" y="111.00" width="6.92" height="0.60" fill="#edf1d6"/><rect x="269.82" y="111.00" width="6.92" height="0.60" fill="#ebf0d8"/><rect x="276.45" y="111.00" width="6.92" height="0.60" fill="#ecf1d7"/><rect x="283.07" y="111.00" width="6.92" height="0.60" fill="#eff1d4"/><rect x="289.69" y="111.00" width="6.92" height="0.60" fill="#e9f0d9"/><rect x="296.32" y="111.00" width="6.92" height="0.60" fill="#e9f0d9"/><rect x="302.94" y="111.00" width="6.92" height="0.60" fill="#f2f2d1"/><rect x="309.56" y="111.00" width="6.92" height="0.60" fill="#f0f1d3"/><rect x="316.18" y="111.00" width="6.92" height="0.60" fill="#f1f1d3"/><rect x="322.81" y="111.00" width="6.92" height="0.60" fill="#f5f1ce"/><rect x="329.43" y="111.00" width="6.92" height="0.60" fill="#f2f2d1"/><rect x="336.05" y="111.00" width="6.92" height="0.60" fill="#f0f1d3"/><rect x="342.68" y="111.00" width="6.92" height="0.60" fill="#f4f2d0"/><rect x="256.4" y="29.9" width="5.6" height="81.40" fill="#e8161c"/><rect x="256.4" y="31" width="5.6" height="2.00" fill="#8a2a4a"/><rect x="256.4" y="33" width="5.6" height="4.00" fill="#5a6aa8"/><rect x="256.4" y="41" width="5.6" height="3.00" fill="#6a5a98"/><rect x="256.4" y="66" width="5.6" height="1.20" fill="#6a7ab0"/><rect x="256.4" y="94.7" width="5.6" height="6.80" fill="#3a7ab8"/><rect x="352.4" y="30.80" width="4.1" height="1.40" fill="#e25234"/><rect x="352.4" y="31.90" width="4.1" height="1.40" fill="#e45c3b"/><rect x="352.4" y="33.00" width="4.1" height="1.40" fill="#e76542"/><rect x="352.4" y="34.10" width="4.1" height="1.40" fill="#e96f49"/><rect x="352.4" y="35.20" width="4.1" height="1.40" fill="#eb7850"/><rect x="352.4" y="36.30" width="4.1" height="1.40" fill="#ed8256"/><rect x="352.4" y="37.40" width="4.1" height="1.40" fill="#f08c5d"/><rect x="352.4" y="38.50" width="4.1" height="1.40" fill="#f29564"/><rect x="352.4" y="39.60" width="4.1" height="1.40" fill="#f49f6b"/><rect x="352.4" y="40.70" width="4.1" height="1.40" fill="#f5a671"/><rect x="352.4" y="41.80" width="4.1" height="1.40" fill="#f6ad77"/><rect x="352.4" y="42.90" width="4.1" height="1.40" fill="#f7b37d"/><rect x="352.4" y="44.00" width="4.1" height="1.40" fill="#f8b983"/><rect x="352.4" y="45.10" width="4.1" height="1.40" fill="#f8bf89"/><rect x="352.4" y="46.20" width="4.1" height="1.40" fill="#f9c58f"/><rect x="352.4" y="47.30" width="4.1" height="1.40" fill="#facb95"/><rect x="352.4" y="48.40" width="4.1" height="1.40" fill="#fad19b"/><rect x="352.4" y="49.50" width="4.1" height="1.40" fill="#fbd6a1"/><rect x="352.4" y="50.60" width="4.1" height="1.40" fill="#fadaa6"/><rect x="352.4" y="51.70" width="4.1" height="1.40" fill="#f9ddac"/><rect x="352.4" y="52.80" width="4.1" height="1.40" fill="#f9e0b2"/><rect x="352.4" y="53.90" width="4.1" height="1.40" fill="#f8e4b7"/><rect x="352.4" y="55.00" width="4.1" height="1.40" fill="#f7e7bd"/><rect x="352.4" y="56.10" width="4.1" height="1.40" fill="#f7eac2"/><rect x="352.4" y="57.20" width="4.1" height="1.40" fill="#f6eec8"/><rect x="352.4" y="58.30" width="4.1" height="1.40" fill="#f5f1cd"/><rect x="352.4" y="59.40" width="4.1" height="1.40" fill="#f2f1d2"/><rect x="352.4" y="60.50" width="4.1" height="1.40" fill="#edf1d6"/><rect x="352.4" y="61.60" width="4.1" height="1.40" fill="#e8f0da"/><rect x="352.4" y="62.70" width="4.1" height="1.40" fill="#e4efde"/><rect x="352.4" y="63.80" width="4.1" height="1.40" fill="#dfefe1"/><rect x="352.4" y="64.90" width="4.1" height="1.40" fill="#dbeee5"/><rect x="352.4" y="66.00" width="4.1" height="1.40" fill="#d6ede9"/><rect x="352.4" y="67.10" width="4.1" height="1.40" fill="#d1eded"/><rect x="352.4" y="68.20" width="4.1" height="1.40" fill="#ccebef"/><rect x="352.4" y="69.30" width="4.1" height="1.40" fill="#c3e6ed"/><rect x="352.4" y="70.40" width="4.1" height="1.40" fill="#bbe2eb"/><rect x="352.4" y="71.50" width="4.1" height="1.40" fill="#b2dde9"/><rect x="352.4" y="72.60" width="4.1" height="1.40" fill="#aad9e7"/><rect x="352.4" y="73.70" width="4.1" height="1.40" fill="#a1d4e5"/><rect x="352.4" y="74.80" width="4.1" height="1.40" fill="#99d0e3"/><rect x="352.4" y="75.90" width="4.1" height="1.40" fill="#91cbe0"/><rect x="352.4" y="77.00" width="4.1" height="1.40" fill="#88c7de"/><rect x="352.4" y="78.10" width="4.1" height="1.40" fill="#80c2dc"/><rect x="352.4" y="79.20" width="4.1" height="1.40" fill="#78bdd9"/><rect x="352.4" y="80.30" width="4.1" height="1.40" fill="#70b8d7"/><rect x="352.4" y="81.40" width="4.1" height="1.40" fill="#67b3d4"/><rect x="352.4" y="82.50" width="4.1" height="1.40" fill="#5faed1"/><rect x="352.4" y="83.60" width="4.1" height="1.40" fill="#57a9cf"/><rect x="352.4" y="84.70" width="4.1" height="1.40" fill="#4fa4cc"/><rect x="352.4" y="85.80" width="4.1" height="1.40" fill="#479fc9"/><rect x="352.4" y="86.90" width="4.1" height="1.40" fill="#409ac7"/><rect x="352.4" y="88.00" width="4.1" height="1.40" fill="#3d97c4"/><rect x="352.4" y="89.10" width="4.1" height="1.40" fill="#3993c2"/><rect x="352.4" y="90.20" width="4.1" height="1.40" fill="#368fbf"/><rect x="352.4" y="91.30" width="4.1" height="1.40" fill="#328bbc"/><rect x="352.4" y="92.40" width="4.1" height="1.40" fill="#2f87ba"/><rect x="352.4" y="93.50" width="4.1" height="1.40" fill="#2b84b7"/><rect x="352.4" y="94.60" width="4.1" height="1.40" fill="#2880b5"/><rect x="352.4" y="95.70" width="4.1" height="1.40" fill="#247cb2"/>
<text x="0.50" y="141.30" font-size="7.2" text-anchor="start" fill="#111" font-weight="bold" stroke="#111" stroke-width="0.15">C</text><line x1="7.5" y1="169.2" x2="88" y2="169.2" stroke="#d0d0d0" stroke-width="0.4" stroke-dasharray="1,0.6"/><line x1="7.5" y1="209" x2="88" y2="209" stroke="#d0d0d0" stroke-width="0.4" stroke-dasharray="1,0.6"/><line x1="7.5" y1="247.8" x2="88" y2="247.8" stroke="#d0d0d0" stroke-width="0.4" stroke-dasharray="1,0.6"/><line x1="89.6" y1="136" x2="89.6" y2="248" stroke="#dcdcdc" stroke-width="0.4"/><text x="89.60" y="254.40" font-size="3.4" text-anchor="middle" fill="#666" font-weight="normal">0</text><line x1="108.14999999999999" y1="136" x2="108.14999999999999" y2="248" stroke="#dcdcdc" stroke-width="0.4"/><text x="108.15" y="254.40" font-size="3.4" text-anchor="middle" fill="#666" font-weight="normal">1</text><line x1="126.69999999999999" y1="136" x2="126.69999999999999" y2="248" stroke="#dcdcdc" stroke-width="0.4"/><text x="126.70" y="254.40" font-size="3.4" text-anchor="middle" fill="#666" font-weight="normal">2</text><line x1="145.25" y1="136" x2="145.25" y2="248" stroke="#dcdcdc" stroke-width="0.4"/><text x="145.25" y="254.40" font-size="3.4" text-anchor="middle" fill="#666" font-weight="normal">3</text><line x1="163.8" y1="136" x2="163.8" y2="248" stroke="#dcdcdc" stroke-width="0.4"/><text x="163.80" y="254.40" font-size="3.4" text-anchor="middle" fill="#666" font-weight="normal">4</text><line x1="182.35" y1="136" x2="182.35" y2="248" stroke="#dcdcdc" stroke-width="0.4"/><text x="182.35" y="254.40" font-size="3.4" text-anchor="middle" fill="#666" font-weight="normal">5</text><text x="113.70" y="259.40" font-size="3.5" text-anchor="start" fill="#444" font-weight="bold" textLength="29.30" lengthAdjust="spacingAndGlyphs">LOG 10 P VALUE</text><rect x="89.4" y="137.90" width="61.20" height="4.1" fill="#3b67c9" rx="0.6"/><text x="85.20" y="141.90" font-size="4.6" text-anchor="end" fill="#333" font-weight="normal" stroke="#333" stroke-width="0.08" textLength="57.10" lengthAdjust="spacingAndGlyphs">Ficolin-1 rich granule membrane</text><rect x="89.4" y="144.40" width="62.10" height="4.1" fill="#3b67c9" rx="0.6"/><text x="85.20" y="148.40" font-size="4.6" text-anchor="end" fill="#333" font-weight="normal" stroke="#333" stroke-width="0.08" textLength="29.70" lengthAdjust="spacingAndGlyphs">Mast cell granule</text><rect x="89.4" y="150.90" width="63.30" height="4.1" fill="#3b67c9" rx="0.6"/><text x="85.20" y="154.90" font-size="4.6" text-anchor="end" fill="#333" font-weight="normal" stroke="#333" stroke-width="0.08" textLength="24.20" lengthAdjust="spacingAndGlyphs">Cell periphery</text><rect x="89.4" y="157.40" width="67.60" height="4.1" fill="#3b67c9" rx="0.6"/><text x="85.20" y="161.40" font-size="4.6" text-anchor="end" fill="#333" font-weight="normal" stroke="#333" stroke-width="0.08" textLength="32.90" lengthAdjust="spacingAndGlyphs">Plasma membrane</text><rect x="89.4" y="163.90" width="76.40" height="4.1" fill="#3b67c9" rx="0.6"/><text x="85.20" y="167.90" font-size="4.6" text-anchor="end" fill="#333" font-weight="normal" stroke="#333" stroke-width="0.08" textLength="39.20" lengthAdjust="spacingAndGlyphs">DNA ligase IV complex</text><rect x="89.4" y="176.90" width="57.20" height="4.1" fill="#ee1111" rx="0.6"/><text x="85.20" y="180.90" font-size="4.6" text-anchor="end" fill="#333" font-weight="normal" stroke="#333" stroke-width="0.08" textLength="51.70" lengthAdjust="spacingAndGlyphs">Interleukin-1 receptor activity</text><rect x="89.4" y="183.40" width="57.20" height="4.1" fill="#ee1111" rx="0.6"/><text x="85.20" y="187.40" font-size="4.6" text-anchor="end" fill="#333" font-weight="normal" stroke="#333" stroke-width="0.08" textLength="47.20" lengthAdjust="spacingAndGlyphs">Receptor regulator activity</text><rect x="89.4" y="189.90" width="58.60" height="4.1" fill="#ee1111" rx="0.6"/><text x="85.20" y="193.90" font-size="4.6" text-anchor="end" fill="#333" font-weight="normal" stroke="#333" stroke-width="0.08" textLength="59.80" lengthAdjust="spacingAndGlyphs">CCR1 chemokine receptor binding</text><rect x="89.4" y="196.40" width="62.90" height="4.1" fill="#ee1111" rx="0.6"/><text x="85.20" y="200.40" font-size="4.6" text-anchor="end" fill="#333" font-weight="normal" stroke="#333" stroke-width="0.08" textLength="57.70" lengthAdjust="spacingAndGlyphs">Stem cell factor receptor binding</text><rect x="89.4" y="202.90" width="77.20" height="4.1" fill="#ee1111" rx="0.6"/><text x="85.20" y="206.90" font-size="4.6" text-anchor="end" fill="#333" font-weight="normal" stroke="#333" stroke-width="0.08" textLength="57.20" lengthAdjust="spacingAndGlyphs">Prostaglandin F receptor activity</text><rect x="89.4" y="216.30" width="105.40" height="4.1" fill="#66a843" rx="0.6"/><text x="85.20" y="220.30" font-size="4.6" text-anchor="end" fill="#333" font-weight="normal" stroke="#333" stroke-width="0.08" textLength="35.60" lengthAdjust="spacingAndGlyphs">Cytokine production</text><rect x="89.4" y="222.80" width="91.60" height="4.1" fill="#66a843" rx="0.6"/><text x="85.20" y="226.80" font-size="4.6" text-anchor="end" fill="#333" font-weight="normal" stroke="#333" stroke-width="0.08" textLength="8.70" lengthAdjust="spacingAndGlyphs">Taxis</text><rect x="89.4" y="229.30" width="91.60" height="4.1" fill="#66a843" rx="0.6"/><text x="85.20" y="233.30" font-size="4.6" text-anchor="end" fill="#333" font-weight="normal" stroke="#333" stroke-width="0.08" textLength="20.00" lengthAdjust="spacingAndGlyphs">Chemotaxis</text><rect x="89.4" y="235.80" width="93.30" height="4.1" fill="#66a843" rx="0.6"/><text x="85.20" y="239.80" font-size="4.6" text-anchor="end" fill="#333" font-weight="normal" stroke="#333" stroke-width="0.08" textLength="62.50" lengthAdjust="spacingAndGlyphs">Positive regulation of PKB signalling</text><rect x="89.4" y="242.30" width="100.60" height="4.1" fill="#66a843" rx="0.6"/><text x="85.20" y="246.30" font-size="4.6" text-anchor="end" fill="#333" font-weight="normal" stroke="#333" stroke-width="0.08" textLength="54.10" lengthAdjust="spacingAndGlyphs">Cell surface receptor signalling</text><text x="11.60" y="153.10" font-size="4.2" text-anchor="middle" fill="#333" font-weight="normal" stroke="#333" stroke-width="0.15" textLength="13.00" lengthAdjust="spacingAndGlyphs" transform="rotate(-90 11.60 153.10)">Cellular</text><text x="16.60" y="152.70" font-size="4.2" text-anchor="middle" fill="#333" font-weight="normal" stroke="#333" stroke-width="0.15" textLength="22.00" lengthAdjust="spacingAndGlyphs" transform="rotate(-90 16.60 152.70)">components</text><text x="11.90" y="192.80" font-size="4.4" text-anchor="middle" fill="#111" font-weight="bold" stroke="#111" stroke-width="0.1" textLength="19.00" lengthAdjust="spacingAndGlyphs" transform="rotate(-90 11.90 192.80)">GO TERM</text><text x="17.30" y="188.50" font-size="4.2" text-anchor="middle" fill="#333" font-weight="normal" stroke="#333" stroke-width="0.15" textLength="35.50" lengthAdjust="spacingAndGlyphs" transform="rotate(-90 17.30 188.50)">Molecular Functions</text><text x="16.90" y="226.80" font-size="4.2" text-anchor="middle" fill="#333" font-weight="normal" stroke="#333" stroke-width="0.15" textLength="32.30" lengthAdjust="spacingAndGlyphs" transform="rotate(-90 16.90 226.80)">Biological Process</text>
<text x="230.60" y="133.00" font-size="7.4" text-anchor="start" fill="#111" font-weight="bold">D</text><text x="309.30" y="131.60" font-size="5.4" text-anchor="middle" fill="#222" font-weight="normal" stroke="#222" stroke-width="0.15" textLength="69.00" lengthAdjust="spacingAndGlyphs">Principal Component Analysis</text><rect x="250" y="134.5" width="116.2" height="110.8" fill="#ececec"/><line x1="267.3" y1="134.5" x2="267.3" y2="245.3" stroke="#f5f5f5" stroke-width="0.5"/><line x1="291.6" y1="134.5" x2="291.6" y2="245.3" stroke="#f5f5f5" stroke-width="0.5"/><line x1="316" y1="134.5" x2="316" y2="245.3" stroke="#f5f5f5" stroke-width="0.5"/><line x1="340.2" y1="134.5" x2="340.2" y2="245.3" stroke="#f5f5f5" stroke-width="0.5"/><line x1="364.5" y1="134.5" x2="364.5" y2="245.3" stroke="#f5f5f5" stroke-width="0.5"/><line x1="279.45" y1="134.5" x2="279.45" y2="245.3" stroke="#f0f0f0" stroke-width="0.25"/><line x1="303.8" y1="134.5" x2="303.8" y2="245.3" stroke="#f0f0f0" stroke-width="0.25"/><line x1="328.1" y1="134.5" x2="328.1" y2="245.3" stroke="#f0f0f0" stroke-width="0.25"/><line x1="352.35" y1="134.5" x2="352.35" y2="245.3" stroke="#f0f0f0" stroke-width="0.25"/><line x1="250" y1="148" x2="366.2" y2="148" stroke="#f5f5f5" stroke-width="0.5"/><line x1="250" y1="170" x2="366.2" y2="170" stroke="#f5f5f5" stroke-width="0.5"/><line x1="250" y1="192" x2="366.2" y2="192" stroke="#f5f5f5" stroke-width="0.5"/><line x1="250" y1="213.9" x2="366.2" y2="213.9" stroke="#f5f5f5" stroke-width="0.5"/><line x1="250" y1="235.8" x2="366.2" y2="235.8" stroke="#f5f5f5" stroke-width="0.5"/><line x1="250" y1="159" x2="366.2" y2="159" stroke="#f0f0f0" stroke-width="0.25"/><line x1="250" y1="181" x2="366.2" y2="181" stroke="#f0f0f0" stroke-width="0.25"/><line x1="250" y1="202.9" x2="366.2" y2="202.9" stroke="#f0f0f0" stroke-width="0.25"/><line x1="250" y1="224.8" x2="366.2" y2="224.8" stroke="#f0f0f0" stroke-width="0.25"/><text x="267.30" y="249.40" font-size="3.1" text-anchor="middle" fill="#8a8a8a" font-weight="normal">-20</text><text x="291.60" y="249.40" font-size="3.1" text-anchor="middle" fill="#8a8a8a" font-weight="normal">0</text><text x="316.00" y="249.40" font-size="3.1" text-anchor="middle" fill="#8a8a8a" font-weight="normal">20</text><text x="340.20" y="249.40" font-size="3.1" text-anchor="middle" fill="#8a8a8a" font-weight="normal">40</text><text x="364.50" y="249.40" font-size="3.1" text-anchor="middle" fill="#8a8a8a" font-weight="normal">60</text><text x="248.60" y="149.10" font-size="3.1" text-anchor="end" fill="#8a8a8a" font-weight="normal">20</text><text x="248.60" y="171.10" font-size="3.1" text-anchor="end" fill="#8a8a8a" font-weight="normal">10</text><text x="248.60" y="193.10" font-size="3.1" text-anchor="end" fill="#8a8a8a" font-weight="normal">0</text><text x="248.60" y="215.00" font-size="3.1" text-anchor="end" fill="#8a8a8a" font-weight="normal">-10</text><text x="248.60" y="236.90" font-size="3.1" text-anchor="end" fill="#8a8a8a" font-weight="normal">-20</text><defs><clipPath id="pc"><rect x="250" y="134.5" width="116.5" height="111"/></clipPath></defs><g clip-path="url(#pc)"><ellipse cx="306.66" cy="167.32" rx="62.25" ry="28.41" transform="rotate(20.18 306.66 167.32)" fill="#eeb28c" stroke="#f6e4da" stroke-width="1"/><ellipse cx="280.75" cy="213.17" rx="39.69" ry="20.6" transform="rotate(44.94 280.75 213.17)" fill="#95acd8" stroke="#e6ecf6" stroke-width="1"/></g><circle cx="256.0" cy="139.7" r="1.0" fill="#c45a40"/><circle cx="280.3" cy="149.6" r="1.0" fill="#c45a40"/><circle cx="298.5" cy="166.4" r="1.0" fill="#c45a40"/><circle cx="279.1" cy="172.2" r="1.0" fill="#c45a40"/><circle cx="312.5" cy="186.5" r="1.0" fill="#c45a40"/><circle cx="355.3" cy="167.0" r="1.0" fill="#c45a40"/><circle cx="360.6" cy="195.3" r="1.0" fill="#c45a40"/><circle cx="255.0" cy="183.0" r="1.0" fill="#3a64a8"/><circle cx="260.0" cy="206.0" r="1.0" fill="#3a64a8"/><circle cx="267.0" cy="216.0" r="1.0" fill="#3a64a8"/><circle cx="283.4" cy="229.0" r="1.0" fill="#3a64a8"/><circle cx="285.8" cy="237.7" r="1.0" fill="#3a64a8"/><circle cx="298.5" cy="240.8" r="1.0" fill="#3a64a8"/><text x="241.80" y="180.70" font-size="6.2" text-anchor="middle" fill="#222" font-weight="normal" stroke="#222" stroke-width="0.05" textLength="47.00" lengthAdjust="spacingAndGlyphs" transform="rotate(-90 241.80 180.70)">PC2: 14% variance</text><text x="310.20" y="257.60" font-size="6.6" text-anchor="middle" fill="#222" font-weight="normal" stroke="#222" stroke-width="0.05" textLength="49.30" lengthAdjust="spacingAndGlyphs">PC1: 49% variance</text><circle cx="377.2" cy="226.4" r="2.8" fill="#f26a74"/><path d="M374.2,238.8 L377.2,233.4 L380.2,238.8 Z" fill="#1fb0a8"/><text x="382.60" y="228.40" font-size="5.6" text-anchor="start" fill="#222" font-weight="normal" stroke="#222" stroke-width="0.05">Case</text><text x="382.60" y="238.30" font-size="5.6" text-anchor="start" fill="#222" font-weight="normal" stroke="#222" stroke-width="0.05">Control</text>
</svg></body></html>
